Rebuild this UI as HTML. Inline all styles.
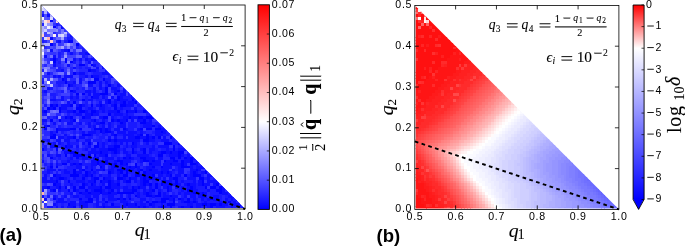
<!DOCTYPE html>
<html><head><meta charset="utf-8"><style>
html,body{margin:0;padding:0;background:#fff;width:685px;height:246px;overflow:hidden;font-family:"Liberation Sans",sans-serif;}
svg{display:block;will-change:transform}
</style></head><body>
<svg width="685" height="246" viewBox="0 0 685 246">
<clipPath id="ca"><polygon points="41.90,5.90 41.90,208.10 244.20,208.10"/></clipPath>
<g clip-path="url(#ca)" shape-rendering="crispEdges">
<polygon points="41.90,5.90 41.90,208.10 244.20,208.10" fill="#0000ff"/>
<rect x="41.00" y="206.09" width="3.22" height="3.21" fill="#ffcccc"/>
<rect x="43.92" y="206.09" width="3.22" height="3.21" fill="#3333ff"/>
<rect x="46.83" y="206.09" width="6.13" height="3.21" fill="#0d0dff"/>
<rect x="52.66" y="206.09" width="3.22" height="3.21" fill="#2626ff"/>
<rect x="55.58" y="206.09" width="3.22" height="3.21" fill="#0d0dff"/>
<rect x="58.49" y="206.09" width="3.22" height="3.21" fill="#2626ff"/>
<rect x="61.41" y="206.09" width="3.22" height="3.21" fill="#0d0dff"/>
<rect x="64.33" y="206.09" width="3.22" height="3.21" fill="#2626ff"/>
<rect x="67.24" y="206.09" width="6.13" height="3.21" fill="#0d0dff"/>
<rect x="75.99" y="206.09" width="3.22" height="3.21" fill="#3333ff"/>
<rect x="78.90" y="206.09" width="3.22" height="3.21" fill="#1a1aff"/>
<rect x="81.82" y="206.09" width="6.13" height="3.21" fill="#0d0dff"/>
<rect x="87.65" y="206.09" width="6.13" height="3.21" fill="#2626ff"/>
<rect x="93.48" y="206.09" width="3.22" height="3.21" fill="#1a1aff"/>
<rect x="96.40" y="206.09" width="6.13" height="3.21" fill="#0d0dff"/>
<rect x="105.15" y="206.09" width="14.88" height="3.21" fill="#0d0dff"/>
<rect x="119.72" y="206.09" width="3.22" height="3.21" fill="#2626ff"/>
<rect x="122.64" y="206.09" width="3.22" height="3.21" fill="#0d0dff"/>
<rect x="125.56" y="206.09" width="3.22" height="3.21" fill="#1a1aff"/>
<rect x="128.47" y="206.09" width="9.05" height="3.21" fill="#0d0dff"/>
<rect x="140.13" y="206.09" width="3.22" height="3.21" fill="#0d0dff"/>
<rect x="145.97" y="206.09" width="3.22" height="3.21" fill="#0d0dff"/>
<rect x="148.88" y="206.09" width="3.22" height="3.21" fill="#1a1aff"/>
<rect x="151.80" y="206.09" width="3.22" height="3.21" fill="#0d0dff"/>
<rect x="154.71" y="206.09" width="3.22" height="3.21" fill="#1a1aff"/>
<rect x="157.63" y="206.09" width="3.22" height="3.21" fill="#0d0dff"/>
<rect x="163.46" y="206.09" width="3.22" height="3.21" fill="#0d0dff"/>
<rect x="166.38" y="206.09" width="3.22" height="3.21" fill="#1a1aff"/>
<rect x="172.21" y="206.09" width="3.22" height="3.21" fill="#1a1aff"/>
<rect x="175.12" y="206.09" width="3.22" height="3.21" fill="#2626ff"/>
<rect x="178.04" y="206.09" width="3.22" height="3.21" fill="#0d0dff"/>
<rect x="183.87" y="206.09" width="6.13" height="3.21" fill="#0d0dff"/>
<rect x="192.62" y="206.09" width="3.22" height="3.21" fill="#1a1aff"/>
<rect x="195.53" y="206.09" width="6.13" height="3.21" fill="#0d0dff"/>
<rect x="201.36" y="206.09" width="6.13" height="3.21" fill="#1a1aff"/>
<rect x="207.20" y="206.09" width="3.22" height="3.21" fill="#0d0dff"/>
<rect x="213.03" y="206.09" width="3.22" height="3.21" fill="#1a1aff"/>
<rect x="215.94" y="206.09" width="9.05" height="3.21" fill="#0d0dff"/>
<rect x="224.69" y="206.09" width="6.13" height="3.21" fill="#1a1aff"/>
<rect x="230.52" y="206.09" width="3.22" height="3.21" fill="#0d0dff"/>
<rect x="233.44" y="206.09" width="3.22" height="3.21" fill="#1a1aff"/>
<rect x="236.35" y="206.09" width="3.22" height="3.21" fill="#2626ff"/>
<rect x="239.27" y="206.09" width="3.22" height="3.21" fill="#1a1aff"/>
<rect x="41.00" y="203.17" width="3.22" height="3.21" fill="#d9d9ff"/>
<rect x="43.92" y="203.17" width="3.22" height="3.21" fill="#3333ff"/>
<rect x="46.83" y="203.17" width="6.13" height="3.21" fill="#8080ff"/>
<rect x="52.66" y="203.17" width="3.22" height="3.21" fill="#0d0dff"/>
<rect x="55.58" y="203.17" width="3.22" height="3.21" fill="#1a1aff"/>
<rect x="58.49" y="203.17" width="3.22" height="3.21" fill="#2626ff"/>
<rect x="61.41" y="203.17" width="3.22" height="3.21" fill="#1a1aff"/>
<rect x="64.33" y="203.17" width="3.22" height="3.21" fill="#2626ff"/>
<rect x="70.16" y="203.17" width="6.13" height="3.21" fill="#0d0dff"/>
<rect x="75.99" y="203.17" width="3.22" height="3.21" fill="#2626ff"/>
<rect x="78.90" y="203.17" width="9.05" height="3.21" fill="#0d0dff"/>
<rect x="87.65" y="203.17" width="6.13" height="3.21" fill="#2626ff"/>
<rect x="93.48" y="203.17" width="3.22" height="3.21" fill="#1a1aff"/>
<rect x="96.40" y="203.17" width="3.22" height="3.21" fill="#0d0dff"/>
<rect x="99.31" y="203.17" width="3.22" height="3.21" fill="#3333ff"/>
<rect x="102.23" y="203.17" width="3.22" height="3.21" fill="#0d0dff"/>
<rect x="105.15" y="203.17" width="3.22" height="3.21" fill="#1a1aff"/>
<rect x="108.06" y="203.17" width="3.22" height="3.21" fill="#2626ff"/>
<rect x="113.89" y="203.17" width="6.13" height="3.21" fill="#1a1aff"/>
<rect x="119.72" y="203.17" width="3.22" height="3.21" fill="#2626ff"/>
<rect x="122.64" y="203.17" width="3.22" height="3.21" fill="#0d0dff"/>
<rect x="128.47" y="203.17" width="6.13" height="3.21" fill="#0d0dff"/>
<rect x="137.22" y="203.17" width="3.22" height="3.21" fill="#1a1aff"/>
<rect x="140.13" y="203.17" width="6.13" height="3.21" fill="#0d0dff"/>
<rect x="145.97" y="203.17" width="3.22" height="3.21" fill="#1a1aff"/>
<rect x="151.80" y="203.17" width="3.22" height="3.21" fill="#0d0dff"/>
<rect x="154.71" y="203.17" width="6.13" height="3.21" fill="#1a1aff"/>
<rect x="160.54" y="203.17" width="3.22" height="3.21" fill="#0d0dff"/>
<rect x="163.46" y="203.17" width="3.22" height="3.21" fill="#1a1aff"/>
<rect x="175.12" y="203.17" width="11.96" height="3.21" fill="#1a1aff"/>
<rect x="186.79" y="203.17" width="6.13" height="3.21" fill="#0d0dff"/>
<rect x="192.62" y="203.17" width="3.22" height="3.21" fill="#1a1aff"/>
<rect x="195.53" y="203.17" width="6.13" height="3.21" fill="#0d0dff"/>
<rect x="207.20" y="203.17" width="3.22" height="3.21" fill="#0d0dff"/>
<rect x="215.94" y="203.17" width="3.22" height="3.21" fill="#0d0dff"/>
<rect x="221.77" y="203.17" width="6.13" height="3.21" fill="#0d0dff"/>
<rect x="227.61" y="203.17" width="3.22" height="3.21" fill="#2626ff"/>
<rect x="230.52" y="203.17" width="9.05" height="3.21" fill="#0d0dff"/>
<rect x="242.18" y="203.17" width="3.22" height="3.21" fill="#1a1aff"/>
<rect x="41.00" y="200.26" width="3.22" height="3.21" fill="#3333ff"/>
<rect x="43.92" y="200.26" width="3.22" height="3.21" fill="#fff2f2"/>
<rect x="46.83" y="200.26" width="6.13" height="3.21" fill="#7373ff"/>
<rect x="52.66" y="200.26" width="3.22" height="3.21" fill="#3333ff"/>
<rect x="55.58" y="200.26" width="11.96" height="3.21" fill="#0d0dff"/>
<rect x="67.24" y="200.26" width="3.22" height="3.21" fill="#1a1aff"/>
<rect x="70.16" y="200.26" width="6.13" height="3.21" fill="#0d0dff"/>
<rect x="75.99" y="200.26" width="3.22" height="3.21" fill="#4040ff"/>
<rect x="78.90" y="200.26" width="6.13" height="3.21" fill="#0d0dff"/>
<rect x="93.48" y="200.26" width="3.22" height="3.21" fill="#4040ff"/>
<rect x="96.40" y="200.26" width="3.22" height="3.21" fill="#0d0dff"/>
<rect x="99.31" y="200.26" width="6.13" height="3.21" fill="#1a1aff"/>
<rect x="108.06" y="200.26" width="6.13" height="3.21" fill="#1a1aff"/>
<rect x="113.89" y="200.26" width="6.13" height="3.21" fill="#2626ff"/>
<rect x="119.72" y="200.26" width="9.05" height="3.21" fill="#0d0dff"/>
<rect x="128.47" y="200.26" width="3.22" height="3.21" fill="#1a1aff"/>
<rect x="131.39" y="200.26" width="3.22" height="3.21" fill="#4040ff"/>
<rect x="134.30" y="200.26" width="6.13" height="3.21" fill="#1a1aff"/>
<rect x="140.13" y="200.26" width="3.22" height="3.21" fill="#0d0dff"/>
<rect x="143.05" y="200.26" width="3.22" height="3.21" fill="#2626ff"/>
<rect x="148.88" y="200.26" width="3.22" height="3.21" fill="#1a1aff"/>
<rect x="157.63" y="200.26" width="3.22" height="3.21" fill="#0d0dff"/>
<rect x="166.38" y="200.26" width="3.22" height="3.21" fill="#2626ff"/>
<rect x="169.29" y="200.26" width="3.22" height="3.21" fill="#1a1aff"/>
<rect x="175.12" y="200.26" width="3.22" height="3.21" fill="#4040ff"/>
<rect x="178.04" y="200.26" width="3.22" height="3.21" fill="#1a1aff"/>
<rect x="180.95" y="200.26" width="3.22" height="3.21" fill="#0d0dff"/>
<rect x="189.70" y="200.26" width="3.22" height="3.21" fill="#0d0dff"/>
<rect x="195.53" y="200.26" width="3.22" height="3.21" fill="#0d0dff"/>
<rect x="198.45" y="200.26" width="3.22" height="3.21" fill="#2626ff"/>
<rect x="201.36" y="200.26" width="3.22" height="3.21" fill="#1a1aff"/>
<rect x="204.28" y="200.26" width="3.22" height="3.21" fill="#0d0dff"/>
<rect x="207.20" y="200.26" width="11.96" height="3.21" fill="#1a1aff"/>
<rect x="218.86" y="200.26" width="3.22" height="3.21" fill="#0d0dff"/>
<rect x="221.77" y="200.26" width="6.13" height="3.21" fill="#1a1aff"/>
<rect x="230.52" y="200.26" width="3.22" height="3.21" fill="#1a1aff"/>
<rect x="233.44" y="200.26" width="3.22" height="3.21" fill="#0d0dff"/>
<rect x="236.35" y="200.26" width="3.22" height="3.21" fill="#2626ff"/>
<rect x="239.27" y="200.26" width="3.22" height="3.21" fill="#1a1aff"/>
<rect x="242.18" y="200.26" width="3.22" height="3.21" fill="#2626ff"/>
<rect x="41.00" y="197.34" width="3.22" height="3.21" fill="#ffcccc"/>
<rect x="43.92" y="197.34" width="3.22" height="3.21" fill="#0d0dff"/>
<rect x="46.83" y="197.34" width="3.22" height="3.21" fill="#7373ff"/>
<rect x="49.75" y="197.34" width="3.22" height="3.21" fill="#4040ff"/>
<rect x="55.58" y="197.34" width="3.22" height="3.21" fill="#1a1aff"/>
<rect x="58.49" y="197.34" width="6.13" height="3.21" fill="#0d0dff"/>
<rect x="64.33" y="197.34" width="3.22" height="3.21" fill="#3333ff"/>
<rect x="67.24" y="197.34" width="3.22" height="3.21" fill="#1a1aff"/>
<rect x="70.16" y="197.34" width="9.05" height="3.21" fill="#2626ff"/>
<rect x="81.82" y="197.34" width="6.13" height="3.21" fill="#1a1aff"/>
<rect x="93.48" y="197.34" width="3.22" height="3.21" fill="#2626ff"/>
<rect x="96.40" y="197.34" width="3.22" height="3.21" fill="#0d0dff"/>
<rect x="99.31" y="197.34" width="3.22" height="3.21" fill="#3333ff"/>
<rect x="102.23" y="197.34" width="3.22" height="3.21" fill="#0d0dff"/>
<rect x="105.15" y="197.34" width="3.22" height="3.21" fill="#2626ff"/>
<rect x="108.06" y="197.34" width="9.05" height="3.21" fill="#0d0dff"/>
<rect x="119.72" y="197.34" width="3.22" height="3.21" fill="#0d0dff"/>
<rect x="125.56" y="197.34" width="3.22" height="3.21" fill="#1a1aff"/>
<rect x="131.39" y="197.34" width="3.22" height="3.21" fill="#1a1aff"/>
<rect x="134.30" y="197.34" width="6.13" height="3.21" fill="#2626ff"/>
<rect x="140.13" y="197.34" width="6.13" height="3.21" fill="#0d0dff"/>
<rect x="145.97" y="197.34" width="3.22" height="3.21" fill="#2626ff"/>
<rect x="148.88" y="197.34" width="3.22" height="3.21" fill="#1a1aff"/>
<rect x="151.80" y="197.34" width="3.22" height="3.21" fill="#2626ff"/>
<rect x="154.71" y="197.34" width="6.13" height="3.21" fill="#1a1aff"/>
<rect x="169.29" y="197.34" width="3.22" height="3.21" fill="#0d0dff"/>
<rect x="175.12" y="197.34" width="3.22" height="3.21" fill="#2626ff"/>
<rect x="180.95" y="197.34" width="3.22" height="3.21" fill="#0d0dff"/>
<rect x="183.87" y="197.34" width="3.22" height="3.21" fill="#1a1aff"/>
<rect x="189.70" y="197.34" width="3.22" height="3.21" fill="#1a1aff"/>
<rect x="192.62" y="197.34" width="3.22" height="3.21" fill="#0d0dff"/>
<rect x="195.53" y="197.34" width="3.22" height="3.21" fill="#1a1aff"/>
<rect x="198.45" y="197.34" width="3.22" height="3.21" fill="#2626ff"/>
<rect x="201.36" y="197.34" width="3.22" height="3.21" fill="#0d0dff"/>
<rect x="204.28" y="197.34" width="3.22" height="3.21" fill="#1a1aff"/>
<rect x="207.20" y="197.34" width="3.22" height="3.21" fill="#0d0dff"/>
<rect x="213.03" y="197.34" width="3.22" height="3.21" fill="#0d0dff"/>
<rect x="218.86" y="197.34" width="3.22" height="3.21" fill="#1a1aff"/>
<rect x="221.77" y="197.34" width="3.22" height="3.21" fill="#2626ff"/>
<rect x="224.69" y="197.34" width="3.22" height="3.21" fill="#0d0dff"/>
<rect x="227.61" y="197.34" width="3.22" height="3.21" fill="#1a1aff"/>
<rect x="230.52" y="197.34" width="3.22" height="3.21" fill="#0d0dff"/>
<rect x="233.44" y="197.34" width="3.22" height="3.21" fill="#1a1aff"/>
<rect x="236.35" y="197.34" width="3.22" height="3.21" fill="#0d0dff"/>
<rect x="239.27" y="197.34" width="3.22" height="3.21" fill="#2626ff"/>
<rect x="41.00" y="194.43" width="3.22" height="3.21" fill="#0d0dff"/>
<rect x="43.92" y="194.43" width="3.22" height="3.21" fill="#4c4cff"/>
<rect x="46.83" y="194.43" width="3.22" height="3.21" fill="#1a1aff"/>
<rect x="49.75" y="194.43" width="3.22" height="3.21" fill="#6666ff"/>
<rect x="52.66" y="194.43" width="3.22" height="3.21" fill="#0d0dff"/>
<rect x="55.58" y="194.43" width="3.22" height="3.21" fill="#1a1aff"/>
<rect x="58.49" y="194.43" width="3.22" height="3.21" fill="#4040ff"/>
<rect x="61.41" y="194.43" width="3.22" height="3.21" fill="#1a1aff"/>
<rect x="64.33" y="194.43" width="3.22" height="3.21" fill="#0d0dff"/>
<rect x="67.24" y="194.43" width="3.22" height="3.21" fill="#4040ff"/>
<rect x="70.16" y="194.43" width="3.22" height="3.21" fill="#1a1aff"/>
<rect x="73.07" y="194.43" width="6.13" height="3.21" fill="#0d0dff"/>
<rect x="78.90" y="194.43" width="6.13" height="3.21" fill="#1a1aff"/>
<rect x="84.74" y="194.43" width="6.13" height="3.21" fill="#0d0dff"/>
<rect x="90.57" y="194.43" width="3.22" height="3.21" fill="#2626ff"/>
<rect x="93.48" y="194.43" width="6.13" height="3.21" fill="#0d0dff"/>
<rect x="99.31" y="194.43" width="3.22" height="3.21" fill="#3333ff"/>
<rect x="102.23" y="194.43" width="6.13" height="3.21" fill="#1a1aff"/>
<rect x="108.06" y="194.43" width="6.13" height="3.21" fill="#0d0dff"/>
<rect x="113.89" y="194.43" width="6.13" height="3.21" fill="#2626ff"/>
<rect x="119.72" y="194.43" width="3.22" height="3.21" fill="#0d0dff"/>
<rect x="122.64" y="194.43" width="3.22" height="3.21" fill="#3333ff"/>
<rect x="125.56" y="194.43" width="3.22" height="3.21" fill="#1a1aff"/>
<rect x="128.47" y="194.43" width="3.22" height="3.21" fill="#0d0dff"/>
<rect x="131.39" y="194.43" width="3.22" height="3.21" fill="#2626ff"/>
<rect x="137.22" y="194.43" width="3.22" height="3.21" fill="#0d0dff"/>
<rect x="140.13" y="194.43" width="6.13" height="3.21" fill="#1a1aff"/>
<rect x="151.80" y="194.43" width="3.22" height="3.21" fill="#0d0dff"/>
<rect x="160.54" y="194.43" width="3.22" height="3.21" fill="#1a1aff"/>
<rect x="163.46" y="194.43" width="6.13" height="3.21" fill="#0d0dff"/>
<rect x="172.21" y="194.43" width="6.13" height="3.21" fill="#0d0dff"/>
<rect x="178.04" y="194.43" width="3.22" height="3.21" fill="#3333ff"/>
<rect x="180.95" y="194.43" width="3.22" height="3.21" fill="#1a1aff"/>
<rect x="183.87" y="194.43" width="3.22" height="3.21" fill="#0d0dff"/>
<rect x="186.79" y="194.43" width="3.22" height="3.21" fill="#3333ff"/>
<rect x="189.70" y="194.43" width="6.13" height="3.21" fill="#0d0dff"/>
<rect x="195.53" y="194.43" width="3.22" height="3.21" fill="#2626ff"/>
<rect x="198.45" y="194.43" width="3.22" height="3.21" fill="#0d0dff"/>
<rect x="204.28" y="194.43" width="3.22" height="3.21" fill="#0d0dff"/>
<rect x="207.20" y="194.43" width="3.22" height="3.21" fill="#2626ff"/>
<rect x="210.11" y="194.43" width="3.22" height="3.21" fill="#1a1aff"/>
<rect x="213.03" y="194.43" width="6.13" height="3.21" fill="#0d0dff"/>
<rect x="218.86" y="194.43" width="3.22" height="3.21" fill="#1a1aff"/>
<rect x="221.77" y="194.43" width="3.22" height="3.21" fill="#2626ff"/>
<rect x="224.69" y="194.43" width="3.22" height="3.21" fill="#1a1aff"/>
<rect x="227.61" y="194.43" width="3.22" height="3.21" fill="#0d0dff"/>
<rect x="236.35" y="194.43" width="3.22" height="3.21" fill="#0d0dff"/>
<rect x="41.00" y="191.51" width="3.22" height="3.21" fill="#ffb2b2"/>
<rect x="43.92" y="191.51" width="3.22" height="3.21" fill="#8c8cff"/>
<rect x="46.83" y="191.51" width="9.05" height="3.21" fill="#3333ff"/>
<rect x="55.58" y="191.51" width="3.22" height="3.21" fill="#4040ff"/>
<rect x="58.49" y="191.51" width="3.22" height="3.21" fill="#2626ff"/>
<rect x="61.41" y="191.51" width="3.22" height="3.21" fill="#4040ff"/>
<rect x="64.33" y="191.51" width="6.13" height="3.21" fill="#1a1aff"/>
<rect x="70.16" y="191.51" width="3.22" height="3.21" fill="#0d0dff"/>
<rect x="73.07" y="191.51" width="3.22" height="3.21" fill="#4040ff"/>
<rect x="75.99" y="191.51" width="3.22" height="3.21" fill="#1a1aff"/>
<rect x="81.82" y="191.51" width="6.13" height="3.21" fill="#0d0dff"/>
<rect x="90.57" y="191.51" width="9.05" height="3.21" fill="#0d0dff"/>
<rect x="102.23" y="191.51" width="6.13" height="3.21" fill="#0d0dff"/>
<rect x="110.98" y="191.51" width="6.13" height="3.21" fill="#0d0dff"/>
<rect x="134.30" y="191.51" width="3.22" height="3.21" fill="#1a1aff"/>
<rect x="137.22" y="191.51" width="3.22" height="3.21" fill="#0d0dff"/>
<rect x="140.13" y="191.51" width="3.22" height="3.21" fill="#1a1aff"/>
<rect x="143.05" y="191.51" width="3.22" height="3.21" fill="#0d0dff"/>
<rect x="148.88" y="191.51" width="3.22" height="3.21" fill="#0d0dff"/>
<rect x="151.80" y="191.51" width="3.22" height="3.21" fill="#1a1aff"/>
<rect x="154.71" y="191.51" width="3.22" height="3.21" fill="#2626ff"/>
<rect x="160.54" y="191.51" width="3.22" height="3.21" fill="#1a1aff"/>
<rect x="163.46" y="191.51" width="3.22" height="3.21" fill="#0d0dff"/>
<rect x="166.38" y="191.51" width="3.22" height="3.21" fill="#1a1aff"/>
<rect x="169.29" y="191.51" width="3.22" height="3.21" fill="#3333ff"/>
<rect x="172.21" y="191.51" width="3.22" height="3.21" fill="#1a1aff"/>
<rect x="175.12" y="191.51" width="3.22" height="3.21" fill="#2626ff"/>
<rect x="178.04" y="191.51" width="3.22" height="3.21" fill="#0d0dff"/>
<rect x="180.95" y="191.51" width="3.22" height="3.21" fill="#1a1aff"/>
<rect x="183.87" y="191.51" width="9.05" height="3.21" fill="#0d0dff"/>
<rect x="195.53" y="191.51" width="3.22" height="3.21" fill="#1a1aff"/>
<rect x="198.45" y="191.51" width="3.22" height="3.21" fill="#0d0dff"/>
<rect x="204.28" y="191.51" width="3.22" height="3.21" fill="#0d0dff"/>
<rect x="207.20" y="191.51" width="3.22" height="3.21" fill="#2626ff"/>
<rect x="210.11" y="191.51" width="9.05" height="3.21" fill="#1a1aff"/>
<rect x="221.77" y="191.51" width="6.13" height="3.21" fill="#0d0dff"/>
<rect x="227.61" y="191.51" width="3.22" height="3.21" fill="#1a1aff"/>
<rect x="230.52" y="191.51" width="3.22" height="3.21" fill="#0d0dff"/>
<rect x="233.44" y="191.51" width="3.22" height="3.21" fill="#1a1aff"/>
<rect x="41.00" y="188.60" width="3.22" height="3.21" fill="#0d0dff"/>
<rect x="43.92" y="188.60" width="3.22" height="3.21" fill="#9999ff"/>
<rect x="46.83" y="188.60" width="3.22" height="3.21" fill="#4040ff"/>
<rect x="49.75" y="188.60" width="3.22" height="3.21" fill="#0d0dff"/>
<rect x="55.58" y="188.60" width="3.22" height="3.21" fill="#5959ff"/>
<rect x="58.49" y="188.60" width="3.22" height="3.21" fill="#0d0dff"/>
<rect x="61.41" y="188.60" width="6.13" height="3.21" fill="#1a1aff"/>
<rect x="70.16" y="188.60" width="3.22" height="3.21" fill="#2626ff"/>
<rect x="75.99" y="188.60" width="3.22" height="3.21" fill="#0d0dff"/>
<rect x="78.90" y="188.60" width="6.13" height="3.21" fill="#1a1aff"/>
<rect x="87.65" y="188.60" width="3.22" height="3.21" fill="#1a1aff"/>
<rect x="90.57" y="188.60" width="3.22" height="3.21" fill="#0d0dff"/>
<rect x="102.23" y="188.60" width="3.22" height="3.21" fill="#0d0dff"/>
<rect x="105.15" y="188.60" width="3.22" height="3.21" fill="#1a1aff"/>
<rect x="108.06" y="188.60" width="3.22" height="3.21" fill="#0d0dff"/>
<rect x="113.89" y="188.60" width="3.22" height="3.21" fill="#2626ff"/>
<rect x="116.81" y="188.60" width="3.22" height="3.21" fill="#0d0dff"/>
<rect x="119.72" y="188.60" width="3.22" height="3.21" fill="#3333ff"/>
<rect x="122.64" y="188.60" width="9.05" height="3.21" fill="#0d0dff"/>
<rect x="137.22" y="188.60" width="3.22" height="3.21" fill="#1a1aff"/>
<rect x="140.13" y="188.60" width="3.22" height="3.21" fill="#2626ff"/>
<rect x="143.05" y="188.60" width="3.22" height="3.21" fill="#0d0dff"/>
<rect x="145.97" y="188.60" width="3.22" height="3.21" fill="#1a1aff"/>
<rect x="148.88" y="188.60" width="3.22" height="3.21" fill="#0d0dff"/>
<rect x="154.71" y="188.60" width="3.22" height="3.21" fill="#2626ff"/>
<rect x="157.63" y="188.60" width="3.22" height="3.21" fill="#0d0dff"/>
<rect x="160.54" y="188.60" width="3.22" height="3.21" fill="#1a1aff"/>
<rect x="163.46" y="188.60" width="3.22" height="3.21" fill="#2626ff"/>
<rect x="169.29" y="188.60" width="3.22" height="3.21" fill="#0d0dff"/>
<rect x="172.21" y="188.60" width="6.13" height="3.21" fill="#2626ff"/>
<rect x="178.04" y="188.60" width="3.22" height="3.21" fill="#1a1aff"/>
<rect x="180.95" y="188.60" width="3.22" height="3.21" fill="#0d0dff"/>
<rect x="183.87" y="188.60" width="3.22" height="3.21" fill="#1a1aff"/>
<rect x="192.62" y="188.60" width="6.13" height="3.21" fill="#0d0dff"/>
<rect x="198.45" y="188.60" width="9.05" height="3.21" fill="#1a1aff"/>
<rect x="207.20" y="188.60" width="3.22" height="3.21" fill="#0d0dff"/>
<rect x="210.11" y="188.60" width="6.13" height="3.21" fill="#1a1aff"/>
<rect x="221.77" y="188.60" width="3.22" height="3.21" fill="#0d0dff"/>
<rect x="224.69" y="188.60" width="3.22" height="3.21" fill="#2626ff"/>
<rect x="227.61" y="188.60" width="3.22" height="3.21" fill="#1a1aff"/>
<rect x="41.00" y="185.69" width="6.13" height="3.21" fill="#0d0dff"/>
<rect x="49.75" y="185.69" width="6.13" height="3.21" fill="#1a1aff"/>
<rect x="55.58" y="185.69" width="3.22" height="3.21" fill="#0d0dff"/>
<rect x="61.41" y="185.69" width="3.22" height="3.21" fill="#1a1aff"/>
<rect x="67.24" y="185.69" width="3.22" height="3.21" fill="#4c4cff"/>
<rect x="70.16" y="185.69" width="3.22" height="3.21" fill="#1a1aff"/>
<rect x="75.99" y="185.69" width="3.22" height="3.21" fill="#2626ff"/>
<rect x="84.74" y="185.69" width="3.22" height="3.21" fill="#2626ff"/>
<rect x="87.65" y="185.69" width="11.96" height="3.21" fill="#0d0dff"/>
<rect x="102.23" y="185.69" width="3.22" height="3.21" fill="#1a1aff"/>
<rect x="110.98" y="185.69" width="9.05" height="3.21" fill="#0d0dff"/>
<rect x="119.72" y="185.69" width="3.22" height="3.21" fill="#1a1aff"/>
<rect x="122.64" y="185.69" width="6.13" height="3.21" fill="#0d0dff"/>
<rect x="128.47" y="185.69" width="3.22" height="3.21" fill="#1a1aff"/>
<rect x="134.30" y="185.69" width="3.22" height="3.21" fill="#0d0dff"/>
<rect x="140.13" y="185.69" width="6.13" height="3.21" fill="#0d0dff"/>
<rect x="145.97" y="185.69" width="3.22" height="3.21" fill="#3333ff"/>
<rect x="148.88" y="185.69" width="3.22" height="3.21" fill="#0d0dff"/>
<rect x="151.80" y="185.69" width="3.22" height="3.21" fill="#1a1aff"/>
<rect x="157.63" y="185.69" width="3.22" height="3.21" fill="#1a1aff"/>
<rect x="160.54" y="185.69" width="3.22" height="3.21" fill="#3333ff"/>
<rect x="163.46" y="185.69" width="3.22" height="3.21" fill="#0d0dff"/>
<rect x="169.29" y="185.69" width="3.22" height="3.21" fill="#0d0dff"/>
<rect x="172.21" y="185.69" width="3.22" height="3.21" fill="#3333ff"/>
<rect x="175.12" y="185.69" width="3.22" height="3.21" fill="#0d0dff"/>
<rect x="178.04" y="185.69" width="3.22" height="3.21" fill="#1a1aff"/>
<rect x="180.95" y="185.69" width="3.22" height="3.21" fill="#0d0dff"/>
<rect x="183.87" y="185.69" width="3.22" height="3.21" fill="#1a1aff"/>
<rect x="186.79" y="185.69" width="3.22" height="3.21" fill="#0d0dff"/>
<rect x="192.62" y="185.69" width="3.22" height="3.21" fill="#0d0dff"/>
<rect x="195.53" y="185.69" width="9.05" height="3.21" fill="#1a1aff"/>
<rect x="207.20" y="185.69" width="3.22" height="3.21" fill="#3333ff"/>
<rect x="215.94" y="185.69" width="3.22" height="3.21" fill="#1a1aff"/>
<rect x="221.77" y="185.69" width="3.22" height="3.21" fill="#0d0dff"/>
<rect x="227.61" y="185.69" width="3.22" height="3.21" fill="#0d0dff"/>
<rect x="41.00" y="182.77" width="3.22" height="3.21" fill="#3333ff"/>
<rect x="43.92" y="182.77" width="3.22" height="3.21" fill="#2626ff"/>
<rect x="46.83" y="182.77" width="3.22" height="3.21" fill="#4c4cff"/>
<rect x="49.75" y="182.77" width="3.22" height="3.21" fill="#4040ff"/>
<rect x="55.58" y="182.77" width="6.13" height="3.21" fill="#0d0dff"/>
<rect x="61.41" y="182.77" width="3.22" height="3.21" fill="#3333ff"/>
<rect x="64.33" y="182.77" width="6.13" height="3.21" fill="#1a1aff"/>
<rect x="70.16" y="182.77" width="3.22" height="3.21" fill="#0d0dff"/>
<rect x="73.07" y="182.77" width="6.13" height="3.21" fill="#1a1aff"/>
<rect x="78.90" y="182.77" width="3.22" height="3.21" fill="#2626ff"/>
<rect x="84.74" y="182.77" width="3.22" height="3.21" fill="#0d0dff"/>
<rect x="87.65" y="182.77" width="3.22" height="3.21" fill="#1a1aff"/>
<rect x="93.48" y="182.77" width="3.22" height="3.21" fill="#0d0dff"/>
<rect x="96.40" y="182.77" width="3.22" height="3.21" fill="#2626ff"/>
<rect x="99.31" y="182.77" width="3.22" height="3.21" fill="#1a1aff"/>
<rect x="102.23" y="182.77" width="3.22" height="3.21" fill="#0d0dff"/>
<rect x="105.15" y="182.77" width="3.22" height="3.21" fill="#3333ff"/>
<rect x="110.98" y="182.77" width="6.13" height="3.21" fill="#0d0dff"/>
<rect x="119.72" y="182.77" width="6.13" height="3.21" fill="#2626ff"/>
<rect x="125.56" y="182.77" width="6.13" height="3.21" fill="#1a1aff"/>
<rect x="131.39" y="182.77" width="6.13" height="3.21" fill="#2626ff"/>
<rect x="137.22" y="182.77" width="3.22" height="3.21" fill="#1a1aff"/>
<rect x="140.13" y="182.77" width="3.22" height="3.21" fill="#0d0dff"/>
<rect x="145.97" y="182.77" width="3.22" height="3.21" fill="#0d0dff"/>
<rect x="151.80" y="182.77" width="3.22" height="3.21" fill="#1a1aff"/>
<rect x="157.63" y="182.77" width="3.22" height="3.21" fill="#1a1aff"/>
<rect x="163.46" y="182.77" width="6.13" height="3.21" fill="#0d0dff"/>
<rect x="172.21" y="182.77" width="3.22" height="3.21" fill="#0d0dff"/>
<rect x="178.04" y="182.77" width="3.22" height="3.21" fill="#0d0dff"/>
<rect x="180.95" y="182.77" width="3.22" height="3.21" fill="#2626ff"/>
<rect x="183.87" y="182.77" width="3.22" height="3.21" fill="#0d0dff"/>
<rect x="189.70" y="182.77" width="6.13" height="3.21" fill="#0d0dff"/>
<rect x="195.53" y="182.77" width="3.22" height="3.21" fill="#1a1aff"/>
<rect x="198.45" y="182.77" width="3.22" height="3.21" fill="#0d0dff"/>
<rect x="204.28" y="182.77" width="6.13" height="3.21" fill="#0d0dff"/>
<rect x="210.11" y="182.77" width="3.22" height="3.21" fill="#3333ff"/>
<rect x="213.03" y="182.77" width="3.22" height="3.21" fill="#0d0dff"/>
<rect x="218.86" y="182.77" width="3.22" height="3.21" fill="#4040ff"/>
<rect x="221.77" y="182.77" width="3.22" height="3.21" fill="#2626ff"/>
<rect x="224.69" y="182.77" width="3.22" height="3.21" fill="#0d0dff"/>
<rect x="41.00" y="179.86" width="14.88" height="3.21" fill="#0d0dff"/>
<rect x="58.49" y="179.86" width="3.22" height="3.21" fill="#1a1aff"/>
<rect x="61.41" y="179.86" width="3.22" height="3.21" fill="#4040ff"/>
<rect x="64.33" y="179.86" width="3.22" height="3.21" fill="#1a1aff"/>
<rect x="70.16" y="179.86" width="6.13" height="3.21" fill="#1a1aff"/>
<rect x="75.99" y="179.86" width="9.05" height="3.21" fill="#0d0dff"/>
<rect x="84.74" y="179.86" width="3.22" height="3.21" fill="#1a1aff"/>
<rect x="87.65" y="179.86" width="6.13" height="3.21" fill="#0d0dff"/>
<rect x="96.40" y="179.86" width="3.22" height="3.21" fill="#2626ff"/>
<rect x="102.23" y="179.86" width="6.13" height="3.21" fill="#0d0dff"/>
<rect x="110.98" y="179.86" width="3.22" height="3.21" fill="#0d0dff"/>
<rect x="113.89" y="179.86" width="3.22" height="3.21" fill="#1a1aff"/>
<rect x="116.81" y="179.86" width="3.22" height="3.21" fill="#0d0dff"/>
<rect x="119.72" y="179.86" width="3.22" height="3.21" fill="#2626ff"/>
<rect x="122.64" y="179.86" width="3.22" height="3.21" fill="#0d0dff"/>
<rect x="131.39" y="179.86" width="3.22" height="3.21" fill="#2626ff"/>
<rect x="134.30" y="179.86" width="3.22" height="3.21" fill="#0d0dff"/>
<rect x="137.22" y="179.86" width="3.22" height="3.21" fill="#1a1aff"/>
<rect x="140.13" y="179.86" width="3.22" height="3.21" fill="#0d0dff"/>
<rect x="148.88" y="179.86" width="3.22" height="3.21" fill="#2626ff"/>
<rect x="151.80" y="179.86" width="6.13" height="3.21" fill="#1a1aff"/>
<rect x="157.63" y="179.86" width="3.22" height="3.21" fill="#2626ff"/>
<rect x="160.54" y="179.86" width="3.22" height="3.21" fill="#0d0dff"/>
<rect x="166.38" y="179.86" width="6.13" height="3.21" fill="#0d0dff"/>
<rect x="172.21" y="179.86" width="3.22" height="3.21" fill="#1a1aff"/>
<rect x="178.04" y="179.86" width="3.22" height="3.21" fill="#1a1aff"/>
<rect x="180.95" y="179.86" width="3.22" height="3.21" fill="#0d0dff"/>
<rect x="183.87" y="179.86" width="9.05" height="3.21" fill="#1a1aff"/>
<rect x="192.62" y="179.86" width="3.22" height="3.21" fill="#0d0dff"/>
<rect x="195.53" y="179.86" width="3.22" height="3.21" fill="#2626ff"/>
<rect x="198.45" y="179.86" width="3.22" height="3.21" fill="#0d0dff"/>
<rect x="204.28" y="179.86" width="3.22" height="3.21" fill="#3333ff"/>
<rect x="207.20" y="179.86" width="11.96" height="3.21" fill="#0d0dff"/>
<rect x="218.86" y="179.86" width="6.13" height="3.21" fill="#1a1aff"/>
<rect x="41.00" y="176.94" width="6.13" height="3.21" fill="#0d0dff"/>
<rect x="46.83" y="176.94" width="3.22" height="3.21" fill="#3333ff"/>
<rect x="49.75" y="176.94" width="3.22" height="3.21" fill="#0d0dff"/>
<rect x="52.66" y="176.94" width="3.22" height="3.21" fill="#1a1aff"/>
<rect x="55.58" y="176.94" width="3.22" height="3.21" fill="#0d0dff"/>
<rect x="64.33" y="176.94" width="3.22" height="3.21" fill="#0d0dff"/>
<rect x="67.24" y="176.94" width="3.22" height="3.21" fill="#1a1aff"/>
<rect x="70.16" y="176.94" width="3.22" height="3.21" fill="#2626ff"/>
<rect x="73.07" y="176.94" width="3.22" height="3.21" fill="#0d0dff"/>
<rect x="75.99" y="176.94" width="6.13" height="3.21" fill="#1a1aff"/>
<rect x="84.74" y="176.94" width="3.22" height="3.21" fill="#1a1aff"/>
<rect x="87.65" y="176.94" width="3.22" height="3.21" fill="#2626ff"/>
<rect x="90.57" y="176.94" width="3.22" height="3.21" fill="#0d0dff"/>
<rect x="99.31" y="176.94" width="3.22" height="3.21" fill="#2626ff"/>
<rect x="105.15" y="176.94" width="6.13" height="3.21" fill="#0d0dff"/>
<rect x="110.98" y="176.94" width="3.22" height="3.21" fill="#1a1aff"/>
<rect x="113.89" y="176.94" width="3.22" height="3.21" fill="#3333ff"/>
<rect x="122.64" y="176.94" width="3.22" height="3.21" fill="#0d0dff"/>
<rect x="125.56" y="176.94" width="3.22" height="3.21" fill="#1a1aff"/>
<rect x="131.39" y="176.94" width="6.13" height="3.21" fill="#0d0dff"/>
<rect x="137.22" y="176.94" width="3.22" height="3.21" fill="#2626ff"/>
<rect x="140.13" y="176.94" width="3.22" height="3.21" fill="#0d0dff"/>
<rect x="145.97" y="176.94" width="3.22" height="3.21" fill="#0d0dff"/>
<rect x="151.80" y="176.94" width="9.05" height="3.21" fill="#0d0dff"/>
<rect x="160.54" y="176.94" width="3.22" height="3.21" fill="#2626ff"/>
<rect x="163.46" y="176.94" width="3.22" height="3.21" fill="#0d0dff"/>
<rect x="166.38" y="176.94" width="3.22" height="3.21" fill="#3333ff"/>
<rect x="169.29" y="176.94" width="3.22" height="3.21" fill="#0d0dff"/>
<rect x="178.04" y="176.94" width="6.13" height="3.21" fill="#1a1aff"/>
<rect x="183.87" y="176.94" width="3.22" height="3.21" fill="#3333ff"/>
<rect x="186.79" y="176.94" width="9.05" height="3.21" fill="#0d0dff"/>
<rect x="195.53" y="176.94" width="3.22" height="3.21" fill="#3333ff"/>
<rect x="204.28" y="176.94" width="3.22" height="3.21" fill="#1a1aff"/>
<rect x="207.20" y="176.94" width="3.22" height="3.21" fill="#0d0dff"/>
<rect x="210.11" y="176.94" width="3.22" height="3.21" fill="#2626ff"/>
<rect x="213.03" y="176.94" width="3.22" height="3.21" fill="#1a1aff"/>
<rect x="215.94" y="176.94" width="3.22" height="3.21" fill="#0d0dff"/>
<rect x="218.86" y="176.94" width="3.22" height="3.21" fill="#4c4cff"/>
<rect x="41.00" y="174.03" width="3.22" height="3.21" fill="#3333ff"/>
<rect x="43.92" y="174.03" width="3.22" height="3.21" fill="#0d0dff"/>
<rect x="46.83" y="174.03" width="3.22" height="3.21" fill="#2626ff"/>
<rect x="49.75" y="174.03" width="3.22" height="3.21" fill="#5959ff"/>
<rect x="55.58" y="174.03" width="6.13" height="3.21" fill="#0d0dff"/>
<rect x="61.41" y="174.03" width="9.05" height="3.21" fill="#1a1aff"/>
<rect x="78.90" y="174.03" width="3.22" height="3.21" fill="#1a1aff"/>
<rect x="81.82" y="174.03" width="3.22" height="3.21" fill="#0d0dff"/>
<rect x="87.65" y="174.03" width="3.22" height="3.21" fill="#0d0dff"/>
<rect x="93.48" y="174.03" width="3.22" height="3.21" fill="#1a1aff"/>
<rect x="96.40" y="174.03" width="3.22" height="3.21" fill="#2626ff"/>
<rect x="99.31" y="174.03" width="3.22" height="3.21" fill="#0d0dff"/>
<rect x="102.23" y="174.03" width="6.13" height="3.21" fill="#1a1aff"/>
<rect x="108.06" y="174.03" width="3.22" height="3.21" fill="#0d0dff"/>
<rect x="110.98" y="174.03" width="6.13" height="3.21" fill="#2626ff"/>
<rect x="116.81" y="174.03" width="3.22" height="3.21" fill="#0d0dff"/>
<rect x="119.72" y="174.03" width="3.22" height="3.21" fill="#1a1aff"/>
<rect x="128.47" y="174.03" width="3.22" height="3.21" fill="#2626ff"/>
<rect x="131.39" y="174.03" width="3.22" height="3.21" fill="#1a1aff"/>
<rect x="140.13" y="174.03" width="3.22" height="3.21" fill="#0d0dff"/>
<rect x="145.97" y="174.03" width="6.13" height="3.21" fill="#0d0dff"/>
<rect x="154.71" y="174.03" width="3.22" height="3.21" fill="#3333ff"/>
<rect x="157.63" y="174.03" width="6.13" height="3.21" fill="#0d0dff"/>
<rect x="163.46" y="174.03" width="3.22" height="3.21" fill="#1a1aff"/>
<rect x="166.38" y="174.03" width="3.22" height="3.21" fill="#0d0dff"/>
<rect x="172.21" y="174.03" width="3.22" height="3.21" fill="#2626ff"/>
<rect x="175.12" y="174.03" width="6.13" height="3.21" fill="#0d0dff"/>
<rect x="180.95" y="174.03" width="3.22" height="3.21" fill="#2626ff"/>
<rect x="186.79" y="174.03" width="3.22" height="3.21" fill="#1a1aff"/>
<rect x="189.70" y="174.03" width="3.22" height="3.21" fill="#0d0dff"/>
<rect x="201.36" y="174.03" width="3.22" height="3.21" fill="#1a1aff"/>
<rect x="204.28" y="174.03" width="3.22" height="3.21" fill="#3333ff"/>
<rect x="207.20" y="174.03" width="9.05" height="3.21" fill="#0d0dff"/>
<rect x="215.94" y="174.03" width="3.22" height="3.21" fill="#1a1aff"/>
<rect x="41.00" y="171.11" width="6.13" height="3.21" fill="#1a1aff"/>
<rect x="46.83" y="171.11" width="3.22" height="3.21" fill="#0d0dff"/>
<rect x="49.75" y="171.11" width="3.22" height="3.21" fill="#1a1aff"/>
<rect x="52.66" y="171.11" width="3.22" height="3.21" fill="#3333ff"/>
<rect x="55.58" y="171.11" width="3.22" height="3.21" fill="#1a1aff"/>
<rect x="58.49" y="171.11" width="3.22" height="3.21" fill="#3333ff"/>
<rect x="61.41" y="171.11" width="3.22" height="3.21" fill="#1a1aff"/>
<rect x="64.33" y="171.11" width="6.13" height="3.21" fill="#0d0dff"/>
<rect x="70.16" y="171.11" width="3.22" height="3.21" fill="#1a1aff"/>
<rect x="75.99" y="171.11" width="6.13" height="3.21" fill="#0d0dff"/>
<rect x="81.82" y="171.11" width="3.22" height="3.21" fill="#2626ff"/>
<rect x="87.65" y="171.11" width="3.22" height="3.21" fill="#0d0dff"/>
<rect x="90.57" y="171.11" width="3.22" height="3.21" fill="#1a1aff"/>
<rect x="93.48" y="171.11" width="3.22" height="3.21" fill="#0d0dff"/>
<rect x="96.40" y="171.11" width="3.22" height="3.21" fill="#1a1aff"/>
<rect x="99.31" y="171.11" width="3.22" height="3.21" fill="#4040ff"/>
<rect x="102.23" y="171.11" width="6.13" height="3.21" fill="#3333ff"/>
<rect x="110.98" y="171.11" width="3.22" height="3.21" fill="#0d0dff"/>
<rect x="113.89" y="171.11" width="3.22" height="3.21" fill="#1a1aff"/>
<rect x="116.81" y="171.11" width="3.22" height="3.21" fill="#0d0dff"/>
<rect x="122.64" y="171.11" width="3.22" height="3.21" fill="#1a1aff"/>
<rect x="128.47" y="171.11" width="9.05" height="3.21" fill="#1a1aff"/>
<rect x="140.13" y="171.11" width="3.22" height="3.21" fill="#2626ff"/>
<rect x="145.97" y="171.11" width="14.88" height="3.21" fill="#0d0dff"/>
<rect x="163.46" y="171.11" width="3.22" height="3.21" fill="#0d0dff"/>
<rect x="169.29" y="171.11" width="3.22" height="3.21" fill="#0d0dff"/>
<rect x="172.21" y="171.11" width="3.22" height="3.21" fill="#1a1aff"/>
<rect x="175.12" y="171.11" width="3.22" height="3.21" fill="#2626ff"/>
<rect x="178.04" y="171.11" width="6.13" height="3.21" fill="#0d0dff"/>
<rect x="183.87" y="171.11" width="3.22" height="3.21" fill="#3333ff"/>
<rect x="186.79" y="171.11" width="3.22" height="3.21" fill="#2626ff"/>
<rect x="189.70" y="171.11" width="3.22" height="3.21" fill="#0d0dff"/>
<rect x="195.53" y="171.11" width="3.22" height="3.21" fill="#0d0dff"/>
<rect x="198.45" y="171.11" width="3.22" height="3.21" fill="#1a1aff"/>
<rect x="201.36" y="171.11" width="3.22" height="3.21" fill="#0d0dff"/>
<rect x="207.20" y="171.11" width="3.22" height="3.21" fill="#2626ff"/>
<rect x="210.11" y="171.11" width="3.22" height="3.21" fill="#0d0dff"/>
<rect x="213.03" y="171.11" width="3.22" height="3.21" fill="#1a1aff"/>
<rect x="41.00" y="168.20" width="3.22" height="3.21" fill="#6666ff"/>
<rect x="43.92" y="168.20" width="3.22" height="3.21" fill="#2626ff"/>
<rect x="46.83" y="168.20" width="9.05" height="3.21" fill="#0d0dff"/>
<rect x="55.58" y="168.20" width="3.22" height="3.21" fill="#3333ff"/>
<rect x="58.49" y="168.20" width="3.22" height="3.21" fill="#0d0dff"/>
<rect x="61.41" y="168.20" width="3.22" height="3.21" fill="#1a1aff"/>
<rect x="64.33" y="168.20" width="3.22" height="3.21" fill="#0d0dff"/>
<rect x="67.24" y="168.20" width="6.13" height="3.21" fill="#1a1aff"/>
<rect x="75.99" y="168.20" width="3.22" height="3.21" fill="#3333ff"/>
<rect x="78.90" y="168.20" width="3.22" height="3.21" fill="#0d0dff"/>
<rect x="84.74" y="168.20" width="6.13" height="3.21" fill="#1a1aff"/>
<rect x="93.48" y="168.20" width="3.22" height="3.21" fill="#1a1aff"/>
<rect x="96.40" y="168.20" width="6.13" height="3.21" fill="#0d0dff"/>
<rect x="105.15" y="168.20" width="3.22" height="3.21" fill="#2626ff"/>
<rect x="108.06" y="168.20" width="6.13" height="3.21" fill="#0d0dff"/>
<rect x="113.89" y="168.20" width="3.22" height="3.21" fill="#1a1aff"/>
<rect x="122.64" y="168.20" width="3.22" height="3.21" fill="#0d0dff"/>
<rect x="128.47" y="168.20" width="6.13" height="3.21" fill="#0d0dff"/>
<rect x="134.30" y="168.20" width="3.22" height="3.21" fill="#1a1aff"/>
<rect x="137.22" y="168.20" width="3.22" height="3.21" fill="#0d0dff"/>
<rect x="143.05" y="168.20" width="3.22" height="3.21" fill="#1a1aff"/>
<rect x="145.97" y="168.20" width="3.22" height="3.21" fill="#0d0dff"/>
<rect x="151.80" y="168.20" width="6.13" height="3.21" fill="#0d0dff"/>
<rect x="157.63" y="168.20" width="3.22" height="3.21" fill="#1a1aff"/>
<rect x="160.54" y="168.20" width="9.05" height="3.21" fill="#0d0dff"/>
<rect x="169.29" y="168.20" width="3.22" height="3.21" fill="#3333ff"/>
<rect x="172.21" y="168.20" width="3.22" height="3.21" fill="#0d0dff"/>
<rect x="175.12" y="168.20" width="3.22" height="3.21" fill="#1a1aff"/>
<rect x="178.04" y="168.20" width="6.13" height="3.21" fill="#0d0dff"/>
<rect x="183.87" y="168.20" width="6.13" height="3.21" fill="#3333ff"/>
<rect x="189.70" y="168.20" width="6.13" height="3.21" fill="#0d0dff"/>
<rect x="198.45" y="168.20" width="3.22" height="3.21" fill="#0d0dff"/>
<rect x="201.36" y="168.20" width="3.22" height="3.21" fill="#3333ff"/>
<rect x="207.20" y="168.20" width="3.22" height="3.21" fill="#2626ff"/>
<rect x="210.11" y="168.20" width="3.22" height="3.21" fill="#0d0dff"/>
<rect x="41.00" y="165.29" width="3.22" height="3.21" fill="#5959ff"/>
<rect x="43.92" y="165.29" width="3.22" height="3.21" fill="#3333ff"/>
<rect x="46.83" y="165.29" width="3.22" height="3.21" fill="#1a1aff"/>
<rect x="52.66" y="165.29" width="3.22" height="3.21" fill="#3333ff"/>
<rect x="58.49" y="165.29" width="6.13" height="3.21" fill="#3333ff"/>
<rect x="64.33" y="165.29" width="3.22" height="3.21" fill="#2626ff"/>
<rect x="67.24" y="165.29" width="9.05" height="3.21" fill="#1a1aff"/>
<rect x="75.99" y="165.29" width="6.13" height="3.21" fill="#0d0dff"/>
<rect x="81.82" y="165.29" width="3.22" height="3.21" fill="#4040ff"/>
<rect x="84.74" y="165.29" width="3.22" height="3.21" fill="#0d0dff"/>
<rect x="87.65" y="165.29" width="3.22" height="3.21" fill="#1a1aff"/>
<rect x="90.57" y="165.29" width="3.22" height="3.21" fill="#0d0dff"/>
<rect x="93.48" y="165.29" width="3.22" height="3.21" fill="#1a1aff"/>
<rect x="96.40" y="165.29" width="3.22" height="3.21" fill="#4040ff"/>
<rect x="102.23" y="165.29" width="3.22" height="3.21" fill="#0d0dff"/>
<rect x="105.15" y="165.29" width="3.22" height="3.21" fill="#4040ff"/>
<rect x="108.06" y="165.29" width="3.22" height="3.21" fill="#1a1aff"/>
<rect x="110.98" y="165.29" width="3.22" height="3.21" fill="#0d0dff"/>
<rect x="116.81" y="165.29" width="3.22" height="3.21" fill="#1a1aff"/>
<rect x="119.72" y="165.29" width="3.22" height="3.21" fill="#0d0dff"/>
<rect x="122.64" y="165.29" width="3.22" height="3.21" fill="#1a1aff"/>
<rect x="125.56" y="165.29" width="3.22" height="3.21" fill="#0d0dff"/>
<rect x="131.39" y="165.29" width="3.22" height="3.21" fill="#0d0dff"/>
<rect x="137.22" y="165.29" width="3.22" height="3.21" fill="#0d0dff"/>
<rect x="140.13" y="165.29" width="3.22" height="3.21" fill="#2626ff"/>
<rect x="143.05" y="165.29" width="3.22" height="3.21" fill="#1a1aff"/>
<rect x="145.97" y="165.29" width="6.13" height="3.21" fill="#0d0dff"/>
<rect x="154.71" y="165.29" width="6.13" height="3.21" fill="#1a1aff"/>
<rect x="163.46" y="165.29" width="9.05" height="3.21" fill="#0d0dff"/>
<rect x="172.21" y="165.29" width="3.22" height="3.21" fill="#3333ff"/>
<rect x="175.12" y="165.29" width="3.22" height="3.21" fill="#1a1aff"/>
<rect x="178.04" y="165.29" width="3.22" height="3.21" fill="#0d0dff"/>
<rect x="189.70" y="165.29" width="3.22" height="3.21" fill="#0d0dff"/>
<rect x="192.62" y="165.29" width="3.22" height="3.21" fill="#1a1aff"/>
<rect x="195.53" y="165.29" width="9.05" height="3.21" fill="#0d0dff"/>
<rect x="204.28" y="165.29" width="3.22" height="3.21" fill="#1a1aff"/>
<rect x="207.20" y="165.29" width="3.22" height="3.21" fill="#0d0dff"/>
<rect x="41.00" y="162.37" width="3.22" height="3.21" fill="#4040ff"/>
<rect x="43.92" y="162.37" width="3.22" height="3.21" fill="#1a1aff"/>
<rect x="46.83" y="162.37" width="3.22" height="3.21" fill="#2626ff"/>
<rect x="49.75" y="162.37" width="3.22" height="3.21" fill="#0d0dff"/>
<rect x="52.66" y="162.37" width="3.22" height="3.21" fill="#3333ff"/>
<rect x="55.58" y="162.37" width="3.22" height="3.21" fill="#0d0dff"/>
<rect x="58.49" y="162.37" width="3.22" height="3.21" fill="#1a1aff"/>
<rect x="67.24" y="162.37" width="3.22" height="3.21" fill="#3333ff"/>
<rect x="70.16" y="162.37" width="3.22" height="3.21" fill="#0d0dff"/>
<rect x="75.99" y="162.37" width="3.22" height="3.21" fill="#0d0dff"/>
<rect x="81.82" y="162.37" width="9.05" height="3.21" fill="#1a1aff"/>
<rect x="90.57" y="162.37" width="6.13" height="3.21" fill="#0d0dff"/>
<rect x="99.31" y="162.37" width="6.13" height="3.21" fill="#0d0dff"/>
<rect x="108.06" y="162.37" width="3.22" height="3.21" fill="#2626ff"/>
<rect x="110.98" y="162.37" width="3.22" height="3.21" fill="#0d0dff"/>
<rect x="116.81" y="162.37" width="3.22" height="3.21" fill="#1a1aff"/>
<rect x="122.64" y="162.37" width="3.22" height="3.21" fill="#0d0dff"/>
<rect x="128.47" y="162.37" width="3.22" height="3.21" fill="#3333ff"/>
<rect x="131.39" y="162.37" width="3.22" height="3.21" fill="#4040ff"/>
<rect x="137.22" y="162.37" width="3.22" height="3.21" fill="#2626ff"/>
<rect x="140.13" y="162.37" width="3.22" height="3.21" fill="#1a1aff"/>
<rect x="143.05" y="162.37" width="3.22" height="3.21" fill="#4040ff"/>
<rect x="145.97" y="162.37" width="3.22" height="3.21" fill="#3333ff"/>
<rect x="151.80" y="162.37" width="9.05" height="3.21" fill="#0d0dff"/>
<rect x="160.54" y="162.37" width="3.22" height="3.21" fill="#3333ff"/>
<rect x="163.46" y="162.37" width="6.13" height="3.21" fill="#0d0dff"/>
<rect x="172.21" y="162.37" width="9.05" height="3.21" fill="#0d0dff"/>
<rect x="183.87" y="162.37" width="3.22" height="3.21" fill="#0d0dff"/>
<rect x="186.79" y="162.37" width="3.22" height="3.21" fill="#3333ff"/>
<rect x="195.53" y="162.37" width="3.22" height="3.21" fill="#0d0dff"/>
<rect x="198.45" y="162.37" width="3.22" height="3.21" fill="#1a1aff"/>
<rect x="204.28" y="162.37" width="3.22" height="3.21" fill="#0d0dff"/>
<rect x="41.00" y="159.46" width="3.22" height="3.21" fill="#0d0dff"/>
<rect x="43.92" y="159.46" width="3.22" height="3.21" fill="#3333ff"/>
<rect x="46.83" y="159.46" width="3.22" height="3.21" fill="#4c4cff"/>
<rect x="49.75" y="159.46" width="3.22" height="3.21" fill="#2626ff"/>
<rect x="52.66" y="159.46" width="3.22" height="3.21" fill="#4c4cff"/>
<rect x="55.58" y="159.46" width="3.22" height="3.21" fill="#1a1aff"/>
<rect x="58.49" y="159.46" width="3.22" height="3.21" fill="#3333ff"/>
<rect x="61.41" y="159.46" width="6.13" height="3.21" fill="#1a1aff"/>
<rect x="67.24" y="159.46" width="3.22" height="3.21" fill="#0d0dff"/>
<rect x="70.16" y="159.46" width="9.05" height="3.21" fill="#1a1aff"/>
<rect x="78.90" y="159.46" width="3.22" height="3.21" fill="#3333ff"/>
<rect x="81.82" y="159.46" width="3.22" height="3.21" fill="#1a1aff"/>
<rect x="84.74" y="159.46" width="3.22" height="3.21" fill="#4040ff"/>
<rect x="87.65" y="159.46" width="3.22" height="3.21" fill="#3333ff"/>
<rect x="90.57" y="159.46" width="6.13" height="3.21" fill="#0d0dff"/>
<rect x="99.31" y="159.46" width="3.22" height="3.21" fill="#0d0dff"/>
<rect x="102.23" y="159.46" width="3.22" height="3.21" fill="#1a1aff"/>
<rect x="108.06" y="159.46" width="6.13" height="3.21" fill="#1a1aff"/>
<rect x="113.89" y="159.46" width="3.22" height="3.21" fill="#0d0dff"/>
<rect x="122.64" y="159.46" width="9.05" height="3.21" fill="#0d0dff"/>
<rect x="131.39" y="159.46" width="3.22" height="3.21" fill="#2626ff"/>
<rect x="134.30" y="159.46" width="3.22" height="3.21" fill="#3333ff"/>
<rect x="137.22" y="159.46" width="3.22" height="3.21" fill="#1a1aff"/>
<rect x="140.13" y="159.46" width="3.22" height="3.21" fill="#0d0dff"/>
<rect x="148.88" y="159.46" width="3.22" height="3.21" fill="#0d0dff"/>
<rect x="154.71" y="159.46" width="6.13" height="3.21" fill="#0d0dff"/>
<rect x="160.54" y="159.46" width="3.22" height="3.21" fill="#3333ff"/>
<rect x="166.38" y="159.46" width="6.13" height="3.21" fill="#0d0dff"/>
<rect x="178.04" y="159.46" width="3.22" height="3.21" fill="#1a1aff"/>
<rect x="183.87" y="159.46" width="6.13" height="3.21" fill="#0d0dff"/>
<rect x="192.62" y="159.46" width="3.22" height="3.21" fill="#1a1aff"/>
<rect x="195.53" y="159.46" width="9.05" height="3.21" fill="#0d0dff"/>
<rect x="41.00" y="156.54" width="3.22" height="3.21" fill="#2626ff"/>
<rect x="43.92" y="156.54" width="3.22" height="3.21" fill="#4040ff"/>
<rect x="46.83" y="156.54" width="3.22" height="3.21" fill="#4c4cff"/>
<rect x="52.66" y="156.54" width="3.22" height="3.21" fill="#1a1aff"/>
<rect x="55.58" y="156.54" width="3.22" height="3.21" fill="#2626ff"/>
<rect x="58.49" y="156.54" width="3.22" height="3.21" fill="#1a1aff"/>
<rect x="61.41" y="156.54" width="6.13" height="3.21" fill="#2626ff"/>
<rect x="67.24" y="156.54" width="3.22" height="3.21" fill="#1a1aff"/>
<rect x="70.16" y="156.54" width="3.22" height="3.21" fill="#0d0dff"/>
<rect x="73.07" y="156.54" width="3.22" height="3.21" fill="#2626ff"/>
<rect x="78.90" y="156.54" width="3.22" height="3.21" fill="#1a1aff"/>
<rect x="81.82" y="156.54" width="6.13" height="3.21" fill="#0d0dff"/>
<rect x="87.65" y="156.54" width="3.22" height="3.21" fill="#1a1aff"/>
<rect x="90.57" y="156.54" width="3.22" height="3.21" fill="#2626ff"/>
<rect x="93.48" y="156.54" width="3.22" height="3.21" fill="#0d0dff"/>
<rect x="99.31" y="156.54" width="3.22" height="3.21" fill="#3333ff"/>
<rect x="102.23" y="156.54" width="3.22" height="3.21" fill="#1a1aff"/>
<rect x="105.15" y="156.54" width="9.05" height="3.21" fill="#0d0dff"/>
<rect x="113.89" y="156.54" width="3.22" height="3.21" fill="#2626ff"/>
<rect x="116.81" y="156.54" width="3.22" height="3.21" fill="#0d0dff"/>
<rect x="119.72" y="156.54" width="3.22" height="3.21" fill="#1a1aff"/>
<rect x="125.56" y="156.54" width="3.22" height="3.21" fill="#0d0dff"/>
<rect x="131.39" y="156.54" width="3.22" height="3.21" fill="#0d0dff"/>
<rect x="134.30" y="156.54" width="6.13" height="3.21" fill="#1a1aff"/>
<rect x="145.97" y="156.54" width="9.05" height="3.21" fill="#0d0dff"/>
<rect x="154.71" y="156.54" width="3.22" height="3.21" fill="#2626ff"/>
<rect x="157.63" y="156.54" width="6.13" height="3.21" fill="#0d0dff"/>
<rect x="163.46" y="156.54" width="6.13" height="3.21" fill="#2626ff"/>
<rect x="175.12" y="156.54" width="3.22" height="3.21" fill="#1a1aff"/>
<rect x="180.95" y="156.54" width="3.22" height="3.21" fill="#1a1aff"/>
<rect x="186.79" y="156.54" width="3.22" height="3.21" fill="#0d0dff"/>
<rect x="192.62" y="156.54" width="3.22" height="3.21" fill="#0d0dff"/>
<rect x="195.53" y="156.54" width="3.22" height="3.21" fill="#1a1aff"/>
<rect x="198.45" y="156.54" width="3.22" height="3.21" fill="#2626ff"/>
<rect x="41.00" y="153.63" width="3.22" height="3.21" fill="#1a1aff"/>
<rect x="43.92" y="153.63" width="3.22" height="3.21" fill="#4c4cff"/>
<rect x="46.83" y="153.63" width="3.22" height="3.21" fill="#0d0dff"/>
<rect x="49.75" y="153.63" width="3.22" height="3.21" fill="#1a1aff"/>
<rect x="52.66" y="153.63" width="3.22" height="3.21" fill="#2626ff"/>
<rect x="55.58" y="153.63" width="6.13" height="3.21" fill="#0d0dff"/>
<rect x="61.41" y="153.63" width="3.22" height="3.21" fill="#2626ff"/>
<rect x="67.24" y="153.63" width="3.22" height="3.21" fill="#3333ff"/>
<rect x="70.16" y="153.63" width="3.22" height="3.21" fill="#1a1aff"/>
<rect x="84.74" y="153.63" width="3.22" height="3.21" fill="#1a1aff"/>
<rect x="90.57" y="153.63" width="3.22" height="3.21" fill="#4040ff"/>
<rect x="96.40" y="153.63" width="3.22" height="3.21" fill="#1a1aff"/>
<rect x="99.31" y="153.63" width="6.13" height="3.21" fill="#0d0dff"/>
<rect x="108.06" y="153.63" width="3.22" height="3.21" fill="#3333ff"/>
<rect x="110.98" y="153.63" width="6.13" height="3.21" fill="#1a1aff"/>
<rect x="116.81" y="153.63" width="3.22" height="3.21" fill="#2626ff"/>
<rect x="119.72" y="153.63" width="3.22" height="3.21" fill="#3333ff"/>
<rect x="122.64" y="153.63" width="3.22" height="3.21" fill="#2626ff"/>
<rect x="125.56" y="153.63" width="6.13" height="3.21" fill="#0d0dff"/>
<rect x="131.39" y="153.63" width="6.13" height="3.21" fill="#2626ff"/>
<rect x="137.22" y="153.63" width="11.96" height="3.21" fill="#0d0dff"/>
<rect x="148.88" y="153.63" width="3.22" height="3.21" fill="#1a1aff"/>
<rect x="151.80" y="153.63" width="3.22" height="3.21" fill="#2626ff"/>
<rect x="154.71" y="153.63" width="3.22" height="3.21" fill="#1a1aff"/>
<rect x="163.46" y="153.63" width="3.22" height="3.21" fill="#2626ff"/>
<rect x="166.38" y="153.63" width="3.22" height="3.21" fill="#1a1aff"/>
<rect x="169.29" y="153.63" width="9.05" height="3.21" fill="#0d0dff"/>
<rect x="180.95" y="153.63" width="3.22" height="3.21" fill="#0d0dff"/>
<rect x="183.87" y="153.63" width="3.22" height="3.21" fill="#1a1aff"/>
<rect x="186.79" y="153.63" width="3.22" height="3.21" fill="#0d0dff"/>
<rect x="189.70" y="153.63" width="3.22" height="3.21" fill="#2626ff"/>
<rect x="192.62" y="153.63" width="3.22" height="3.21" fill="#1a1aff"/>
<rect x="195.53" y="153.63" width="3.22" height="3.21" fill="#0d0dff"/>
<rect x="41.00" y="150.71" width="6.13" height="3.21" fill="#4040ff"/>
<rect x="46.83" y="150.71" width="3.22" height="3.21" fill="#2626ff"/>
<rect x="49.75" y="150.71" width="3.22" height="3.21" fill="#4c4cff"/>
<rect x="52.66" y="150.71" width="3.22" height="3.21" fill="#4040ff"/>
<rect x="55.58" y="150.71" width="3.22" height="3.21" fill="#1a1aff"/>
<rect x="58.49" y="150.71" width="3.22" height="3.21" fill="#4c4cff"/>
<rect x="61.41" y="150.71" width="3.22" height="3.21" fill="#2626ff"/>
<rect x="64.33" y="150.71" width="6.13" height="3.21" fill="#0d0dff"/>
<rect x="75.99" y="150.71" width="3.22" height="3.21" fill="#1a1aff"/>
<rect x="78.90" y="150.71" width="9.05" height="3.21" fill="#2626ff"/>
<rect x="87.65" y="150.71" width="11.96" height="3.21" fill="#0d0dff"/>
<rect x="102.23" y="150.71" width="6.13" height="3.21" fill="#0d0dff"/>
<rect x="108.06" y="150.71" width="3.22" height="3.21" fill="#1a1aff"/>
<rect x="110.98" y="150.71" width="3.22" height="3.21" fill="#0d0dff"/>
<rect x="116.81" y="150.71" width="3.22" height="3.21" fill="#0d0dff"/>
<rect x="119.72" y="150.71" width="3.22" height="3.21" fill="#2626ff"/>
<rect x="122.64" y="150.71" width="6.13" height="3.21" fill="#0d0dff"/>
<rect x="128.47" y="150.71" width="3.22" height="3.21" fill="#1a1aff"/>
<rect x="134.30" y="150.71" width="3.22" height="3.21" fill="#0d0dff"/>
<rect x="137.22" y="150.71" width="6.13" height="3.21" fill="#1a1aff"/>
<rect x="145.97" y="150.71" width="3.22" height="3.21" fill="#2626ff"/>
<rect x="148.88" y="150.71" width="3.22" height="3.21" fill="#0d0dff"/>
<rect x="151.80" y="150.71" width="6.13" height="3.21" fill="#1a1aff"/>
<rect x="157.63" y="150.71" width="3.22" height="3.21" fill="#0d0dff"/>
<rect x="166.38" y="150.71" width="3.22" height="3.21" fill="#0d0dff"/>
<rect x="172.21" y="150.71" width="6.13" height="3.21" fill="#0d0dff"/>
<rect x="183.87" y="150.71" width="3.22" height="3.21" fill="#4040ff"/>
<rect x="186.79" y="150.71" width="3.22" height="3.21" fill="#1a1aff"/>
<rect x="192.62" y="150.71" width="3.22" height="3.21" fill="#2626ff"/>
<rect x="43.92" y="147.80" width="3.22" height="3.21" fill="#1a1aff"/>
<rect x="46.83" y="147.80" width="3.22" height="3.21" fill="#3333ff"/>
<rect x="49.75" y="147.80" width="3.22" height="3.21" fill="#2626ff"/>
<rect x="52.66" y="147.80" width="3.22" height="3.21" fill="#4040ff"/>
<rect x="58.49" y="147.80" width="3.22" height="3.21" fill="#5959ff"/>
<rect x="64.33" y="147.80" width="3.22" height="3.21" fill="#1a1aff"/>
<rect x="67.24" y="147.80" width="3.22" height="3.21" fill="#0d0dff"/>
<rect x="70.16" y="147.80" width="6.13" height="3.21" fill="#2626ff"/>
<rect x="75.99" y="147.80" width="3.22" height="3.21" fill="#1a1aff"/>
<rect x="78.90" y="147.80" width="3.22" height="3.21" fill="#2626ff"/>
<rect x="81.82" y="147.80" width="3.22" height="3.21" fill="#1a1aff"/>
<rect x="84.74" y="147.80" width="3.22" height="3.21" fill="#0d0dff"/>
<rect x="87.65" y="147.80" width="3.22" height="3.21" fill="#2626ff"/>
<rect x="90.57" y="147.80" width="6.13" height="3.21" fill="#0d0dff"/>
<rect x="96.40" y="147.80" width="3.22" height="3.21" fill="#1a1aff"/>
<rect x="99.31" y="147.80" width="9.05" height="3.21" fill="#0d0dff"/>
<rect x="116.81" y="147.80" width="3.22" height="3.21" fill="#0d0dff"/>
<rect x="119.72" y="147.80" width="3.22" height="3.21" fill="#1a1aff"/>
<rect x="122.64" y="147.80" width="3.22" height="3.21" fill="#0d0dff"/>
<rect x="125.56" y="147.80" width="6.13" height="3.21" fill="#2626ff"/>
<rect x="134.30" y="147.80" width="3.22" height="3.21" fill="#1a1aff"/>
<rect x="137.22" y="147.80" width="3.22" height="3.21" fill="#2626ff"/>
<rect x="140.13" y="147.80" width="3.22" height="3.21" fill="#0d0dff"/>
<rect x="145.97" y="147.80" width="3.22" height="3.21" fill="#2626ff"/>
<rect x="148.88" y="147.80" width="6.13" height="3.21" fill="#0d0dff"/>
<rect x="154.71" y="147.80" width="3.22" height="3.21" fill="#1a1aff"/>
<rect x="157.63" y="147.80" width="3.22" height="3.21" fill="#2626ff"/>
<rect x="160.54" y="147.80" width="6.13" height="3.21" fill="#1a1aff"/>
<rect x="166.38" y="147.80" width="3.22" height="3.21" fill="#0d0dff"/>
<rect x="169.29" y="147.80" width="3.22" height="3.21" fill="#1a1aff"/>
<rect x="175.12" y="147.80" width="3.22" height="3.21" fill="#1a1aff"/>
<rect x="178.04" y="147.80" width="14.88" height="3.21" fill="#0d0dff"/>
<rect x="41.00" y="144.89" width="3.22" height="3.21" fill="#2626ff"/>
<rect x="43.92" y="144.89" width="3.22" height="3.21" fill="#1a1aff"/>
<rect x="46.83" y="144.89" width="3.22" height="3.21" fill="#4c4cff"/>
<rect x="49.75" y="144.89" width="6.13" height="3.21" fill="#0d0dff"/>
<rect x="58.49" y="144.89" width="3.22" height="3.21" fill="#2626ff"/>
<rect x="61.41" y="144.89" width="3.22" height="3.21" fill="#1a1aff"/>
<rect x="67.24" y="144.89" width="6.13" height="3.21" fill="#0d0dff"/>
<rect x="73.07" y="144.89" width="3.22" height="3.21" fill="#3333ff"/>
<rect x="75.99" y="144.89" width="3.22" height="3.21" fill="#0d0dff"/>
<rect x="78.90" y="144.89" width="3.22" height="3.21" fill="#4040ff"/>
<rect x="81.82" y="144.89" width="3.22" height="3.21" fill="#2626ff"/>
<rect x="84.74" y="144.89" width="3.22" height="3.21" fill="#1a1aff"/>
<rect x="87.65" y="144.89" width="3.22" height="3.21" fill="#0d0dff"/>
<rect x="90.57" y="144.89" width="3.22" height="3.21" fill="#3333ff"/>
<rect x="99.31" y="144.89" width="3.22" height="3.21" fill="#1a1aff"/>
<rect x="102.23" y="144.89" width="3.22" height="3.21" fill="#0d0dff"/>
<rect x="105.15" y="144.89" width="3.22" height="3.21" fill="#2626ff"/>
<rect x="108.06" y="144.89" width="6.13" height="3.21" fill="#0d0dff"/>
<rect x="119.72" y="144.89" width="3.22" height="3.21" fill="#2626ff"/>
<rect x="122.64" y="144.89" width="3.22" height="3.21" fill="#1a1aff"/>
<rect x="125.56" y="144.89" width="3.22" height="3.21" fill="#0d0dff"/>
<rect x="128.47" y="144.89" width="3.22" height="3.21" fill="#1a1aff"/>
<rect x="131.39" y="144.89" width="6.13" height="3.21" fill="#0d0dff"/>
<rect x="137.22" y="144.89" width="14.88" height="3.21" fill="#1a1aff"/>
<rect x="151.80" y="144.89" width="3.22" height="3.21" fill="#0d0dff"/>
<rect x="154.71" y="144.89" width="3.22" height="3.21" fill="#2626ff"/>
<rect x="157.63" y="144.89" width="11.96" height="3.21" fill="#0d0dff"/>
<rect x="169.29" y="144.89" width="3.22" height="3.21" fill="#3333ff"/>
<rect x="175.12" y="144.89" width="3.22" height="3.21" fill="#2626ff"/>
<rect x="178.04" y="144.89" width="6.13" height="3.21" fill="#1a1aff"/>
<rect x="183.87" y="144.89" width="3.22" height="3.21" fill="#0d0dff"/>
<rect x="186.79" y="144.89" width="3.22" height="3.21" fill="#1a1aff"/>
<rect x="41.00" y="141.97" width="3.22" height="3.21" fill="#1a1aff"/>
<rect x="43.92" y="141.97" width="3.22" height="3.21" fill="#4040ff"/>
<rect x="46.83" y="141.97" width="3.22" height="3.21" fill="#2626ff"/>
<rect x="49.75" y="141.97" width="3.22" height="3.21" fill="#1a1aff"/>
<rect x="52.66" y="141.97" width="3.22" height="3.21" fill="#0d0dff"/>
<rect x="55.58" y="141.97" width="3.22" height="3.21" fill="#4040ff"/>
<rect x="58.49" y="141.97" width="3.22" height="3.21" fill="#0d0dff"/>
<rect x="61.41" y="141.97" width="3.22" height="3.21" fill="#1a1aff"/>
<rect x="64.33" y="141.97" width="3.22" height="3.21" fill="#2626ff"/>
<rect x="67.24" y="141.97" width="3.22" height="3.21" fill="#0d0dff"/>
<rect x="70.16" y="141.97" width="9.05" height="3.21" fill="#1a1aff"/>
<rect x="78.90" y="141.97" width="3.22" height="3.21" fill="#4040ff"/>
<rect x="81.82" y="141.97" width="3.22" height="3.21" fill="#0d0dff"/>
<rect x="84.74" y="141.97" width="3.22" height="3.21" fill="#2626ff"/>
<rect x="90.57" y="141.97" width="3.22" height="3.21" fill="#1a1aff"/>
<rect x="93.48" y="141.97" width="3.22" height="3.21" fill="#4c4cff"/>
<rect x="99.31" y="141.97" width="3.22" height="3.21" fill="#1a1aff"/>
<rect x="102.23" y="141.97" width="3.22" height="3.21" fill="#0d0dff"/>
<rect x="105.15" y="141.97" width="3.22" height="3.21" fill="#1a1aff"/>
<rect x="108.06" y="141.97" width="3.22" height="3.21" fill="#2626ff"/>
<rect x="110.98" y="141.97" width="3.22" height="3.21" fill="#1a1aff"/>
<rect x="113.89" y="141.97" width="3.22" height="3.21" fill="#0d0dff"/>
<rect x="116.81" y="141.97" width="3.22" height="3.21" fill="#1a1aff"/>
<rect x="119.72" y="141.97" width="3.22" height="3.21" fill="#0d0dff"/>
<rect x="122.64" y="141.97" width="3.22" height="3.21" fill="#2626ff"/>
<rect x="125.56" y="141.97" width="3.22" height="3.21" fill="#0d0dff"/>
<rect x="128.47" y="141.97" width="3.22" height="3.21" fill="#2626ff"/>
<rect x="134.30" y="141.97" width="3.22" height="3.21" fill="#0d0dff"/>
<rect x="137.22" y="141.97" width="3.22" height="3.21" fill="#1a1aff"/>
<rect x="140.13" y="141.97" width="3.22" height="3.21" fill="#3333ff"/>
<rect x="143.05" y="141.97" width="3.22" height="3.21" fill="#1a1aff"/>
<rect x="145.97" y="141.97" width="3.22" height="3.21" fill="#0d0dff"/>
<rect x="148.88" y="141.97" width="3.22" height="3.21" fill="#2626ff"/>
<rect x="151.80" y="141.97" width="6.13" height="3.21" fill="#1a1aff"/>
<rect x="157.63" y="141.97" width="6.13" height="3.21" fill="#3333ff"/>
<rect x="172.21" y="141.97" width="6.13" height="3.21" fill="#1a1aff"/>
<rect x="180.95" y="141.97" width="3.22" height="3.21" fill="#2626ff"/>
<rect x="183.87" y="141.97" width="3.22" height="3.21" fill="#0d0dff"/>
<rect x="41.00" y="139.06" width="6.13" height="3.21" fill="#1a1aff"/>
<rect x="46.83" y="139.06" width="3.22" height="3.21" fill="#0d0dff"/>
<rect x="49.75" y="139.06" width="3.22" height="3.21" fill="#4040ff"/>
<rect x="52.66" y="139.06" width="3.22" height="3.21" fill="#3333ff"/>
<rect x="55.58" y="139.06" width="6.13" height="3.21" fill="#0d0dff"/>
<rect x="61.41" y="139.06" width="3.22" height="3.21" fill="#4040ff"/>
<rect x="64.33" y="139.06" width="6.13" height="3.21" fill="#0d0dff"/>
<rect x="70.16" y="139.06" width="6.13" height="3.21" fill="#2626ff"/>
<rect x="75.99" y="139.06" width="3.22" height="3.21" fill="#0d0dff"/>
<rect x="78.90" y="139.06" width="6.13" height="3.21" fill="#2626ff"/>
<rect x="84.74" y="139.06" width="6.13" height="3.21" fill="#0d0dff"/>
<rect x="90.57" y="139.06" width="3.22" height="3.21" fill="#4040ff"/>
<rect x="93.48" y="139.06" width="9.05" height="3.21" fill="#1a1aff"/>
<rect x="102.23" y="139.06" width="3.22" height="3.21" fill="#2626ff"/>
<rect x="105.15" y="139.06" width="3.22" height="3.21" fill="#1a1aff"/>
<rect x="110.98" y="139.06" width="3.22" height="3.21" fill="#0d0dff"/>
<rect x="116.81" y="139.06" width="23.63" height="3.21" fill="#0d0dff"/>
<rect x="140.13" y="139.06" width="3.22" height="3.21" fill="#2626ff"/>
<rect x="148.88" y="139.06" width="6.13" height="3.21" fill="#0d0dff"/>
<rect x="154.71" y="139.06" width="6.13" height="3.21" fill="#1a1aff"/>
<rect x="160.54" y="139.06" width="9.05" height="3.21" fill="#0d0dff"/>
<rect x="169.29" y="139.06" width="3.22" height="3.21" fill="#2626ff"/>
<rect x="172.21" y="139.06" width="3.22" height="3.21" fill="#1a1aff"/>
<rect x="175.12" y="139.06" width="3.22" height="3.21" fill="#2626ff"/>
<rect x="178.04" y="139.06" width="3.22" height="3.21" fill="#0d0dff"/>
<rect x="180.95" y="139.06" width="3.22" height="3.21" fill="#2626ff"/>
<rect x="41.00" y="136.14" width="6.13" height="3.21" fill="#3333ff"/>
<rect x="46.83" y="136.14" width="3.22" height="3.21" fill="#4040ff"/>
<rect x="55.58" y="136.14" width="3.22" height="3.21" fill="#6666ff"/>
<rect x="58.49" y="136.14" width="6.13" height="3.21" fill="#0d0dff"/>
<rect x="64.33" y="136.14" width="3.22" height="3.21" fill="#1a1aff"/>
<rect x="67.24" y="136.14" width="6.13" height="3.21" fill="#0d0dff"/>
<rect x="75.99" y="136.14" width="3.22" height="3.21" fill="#3333ff"/>
<rect x="78.90" y="136.14" width="6.13" height="3.21" fill="#0d0dff"/>
<rect x="84.74" y="136.14" width="3.22" height="3.21" fill="#2626ff"/>
<rect x="87.65" y="136.14" width="6.13" height="3.21" fill="#1a1aff"/>
<rect x="93.48" y="136.14" width="3.22" height="3.21" fill="#3333ff"/>
<rect x="96.40" y="136.14" width="3.22" height="3.21" fill="#2626ff"/>
<rect x="99.31" y="136.14" width="6.13" height="3.21" fill="#1a1aff"/>
<rect x="105.15" y="136.14" width="3.22" height="3.21" fill="#3333ff"/>
<rect x="108.06" y="136.14" width="3.22" height="3.21" fill="#0d0dff"/>
<rect x="110.98" y="136.14" width="3.22" height="3.21" fill="#3333ff"/>
<rect x="113.89" y="136.14" width="3.22" height="3.21" fill="#0d0dff"/>
<rect x="116.81" y="136.14" width="6.13" height="3.21" fill="#2626ff"/>
<rect x="122.64" y="136.14" width="3.22" height="3.21" fill="#0d0dff"/>
<rect x="125.56" y="136.14" width="3.22" height="3.21" fill="#3333ff"/>
<rect x="128.47" y="136.14" width="6.13" height="3.21" fill="#0d0dff"/>
<rect x="140.13" y="136.14" width="6.13" height="3.21" fill="#0d0dff"/>
<rect x="148.88" y="136.14" width="3.22" height="3.21" fill="#0d0dff"/>
<rect x="154.71" y="136.14" width="3.22" height="3.21" fill="#1a1aff"/>
<rect x="160.54" y="136.14" width="3.22" height="3.21" fill="#3333ff"/>
<rect x="163.46" y="136.14" width="3.22" height="3.21" fill="#0d0dff"/>
<rect x="166.38" y="136.14" width="3.22" height="3.21" fill="#3333ff"/>
<rect x="172.21" y="136.14" width="3.22" height="3.21" fill="#1a1aff"/>
<rect x="178.04" y="136.14" width="3.22" height="3.21" fill="#1a1aff"/>
<rect x="41.00" y="133.23" width="3.22" height="3.21" fill="#5959ff"/>
<rect x="43.92" y="133.23" width="6.13" height="3.21" fill="#2626ff"/>
<rect x="49.75" y="133.23" width="3.22" height="3.21" fill="#0d0dff"/>
<rect x="55.58" y="133.23" width="6.13" height="3.21" fill="#2626ff"/>
<rect x="61.41" y="133.23" width="3.22" height="3.21" fill="#3333ff"/>
<rect x="64.33" y="133.23" width="3.22" height="3.21" fill="#0d0dff"/>
<rect x="67.24" y="133.23" width="3.22" height="3.21" fill="#2626ff"/>
<rect x="70.16" y="133.23" width="3.22" height="3.21" fill="#4040ff"/>
<rect x="73.07" y="133.23" width="3.22" height="3.21" fill="#2626ff"/>
<rect x="75.99" y="133.23" width="3.22" height="3.21" fill="#4c4cff"/>
<rect x="78.90" y="133.23" width="3.22" height="3.21" fill="#2626ff"/>
<rect x="90.57" y="133.23" width="3.22" height="3.21" fill="#0d0dff"/>
<rect x="93.48" y="133.23" width="3.22" height="3.21" fill="#2626ff"/>
<rect x="96.40" y="133.23" width="3.22" height="3.21" fill="#1a1aff"/>
<rect x="99.31" y="133.23" width="3.22" height="3.21" fill="#2626ff"/>
<rect x="102.23" y="133.23" width="6.13" height="3.21" fill="#1a1aff"/>
<rect x="108.06" y="133.23" width="3.22" height="3.21" fill="#2626ff"/>
<rect x="110.98" y="133.23" width="3.22" height="3.21" fill="#0d0dff"/>
<rect x="116.81" y="133.23" width="6.13" height="3.21" fill="#1a1aff"/>
<rect x="122.64" y="133.23" width="11.96" height="3.21" fill="#0d0dff"/>
<rect x="134.30" y="133.23" width="3.22" height="3.21" fill="#1a1aff"/>
<rect x="137.22" y="133.23" width="3.22" height="3.21" fill="#0d0dff"/>
<rect x="143.05" y="133.23" width="3.22" height="3.21" fill="#4040ff"/>
<rect x="148.88" y="133.23" width="3.22" height="3.21" fill="#1a1aff"/>
<rect x="151.80" y="133.23" width="3.22" height="3.21" fill="#2626ff"/>
<rect x="154.71" y="133.23" width="9.05" height="3.21" fill="#0d0dff"/>
<rect x="163.46" y="133.23" width="6.13" height="3.21" fill="#1a1aff"/>
<rect x="169.29" y="133.23" width="6.13" height="3.21" fill="#2626ff"/>
<rect x="175.12" y="133.23" width="3.22" height="3.21" fill="#0d0dff"/>
<rect x="41.00" y="130.31" width="3.22" height="3.21" fill="#3333ff"/>
<rect x="43.92" y="130.31" width="6.13" height="3.21" fill="#2626ff"/>
<rect x="49.75" y="130.31" width="3.22" height="3.21" fill="#0d0dff"/>
<rect x="52.66" y="130.31" width="3.22" height="3.21" fill="#1a1aff"/>
<rect x="58.49" y="130.31" width="3.22" height="3.21" fill="#3333ff"/>
<rect x="61.41" y="130.31" width="3.22" height="3.21" fill="#1a1aff"/>
<rect x="64.33" y="130.31" width="3.22" height="3.21" fill="#2626ff"/>
<rect x="67.24" y="130.31" width="3.22" height="3.21" fill="#3333ff"/>
<rect x="70.16" y="130.31" width="3.22" height="3.21" fill="#2626ff"/>
<rect x="73.07" y="130.31" width="3.22" height="3.21" fill="#1a1aff"/>
<rect x="75.99" y="130.31" width="3.22" height="3.21" fill="#2626ff"/>
<rect x="78.90" y="130.31" width="3.22" height="3.21" fill="#1a1aff"/>
<rect x="81.82" y="130.31" width="3.22" height="3.21" fill="#0d0dff"/>
<rect x="84.74" y="130.31" width="3.22" height="3.21" fill="#2626ff"/>
<rect x="87.65" y="130.31" width="9.05" height="3.21" fill="#0d0dff"/>
<rect x="96.40" y="130.31" width="3.22" height="3.21" fill="#1a1aff"/>
<rect x="102.23" y="130.31" width="3.22" height="3.21" fill="#0d0dff"/>
<rect x="110.98" y="130.31" width="3.22" height="3.21" fill="#0d0dff"/>
<rect x="113.89" y="130.31" width="3.22" height="3.21" fill="#3333ff"/>
<rect x="116.81" y="130.31" width="9.05" height="3.21" fill="#0d0dff"/>
<rect x="125.56" y="130.31" width="3.22" height="3.21" fill="#2626ff"/>
<rect x="128.47" y="130.31" width="9.05" height="3.21" fill="#0d0dff"/>
<rect x="137.22" y="130.31" width="3.22" height="3.21" fill="#1a1aff"/>
<rect x="140.13" y="130.31" width="3.22" height="3.21" fill="#0d0dff"/>
<rect x="143.05" y="130.31" width="3.22" height="3.21" fill="#1a1aff"/>
<rect x="145.97" y="130.31" width="6.13" height="3.21" fill="#2626ff"/>
<rect x="151.80" y="130.31" width="3.22" height="3.21" fill="#1a1aff"/>
<rect x="154.71" y="130.31" width="6.13" height="3.21" fill="#0d0dff"/>
<rect x="163.46" y="130.31" width="3.22" height="3.21" fill="#0d0dff"/>
<rect x="166.38" y="130.31" width="6.13" height="3.21" fill="#1a1aff"/>
<rect x="172.21" y="130.31" width="3.22" height="3.21" fill="#0d0dff"/>
<rect x="41.00" y="127.40" width="3.22" height="3.21" fill="#3333ff"/>
<rect x="46.83" y="127.40" width="3.22" height="3.21" fill="#5959ff"/>
<rect x="49.75" y="127.40" width="3.22" height="3.21" fill="#4040ff"/>
<rect x="52.66" y="127.40" width="3.22" height="3.21" fill="#3333ff"/>
<rect x="58.49" y="127.40" width="11.96" height="3.21" fill="#0d0dff"/>
<rect x="75.99" y="127.40" width="3.22" height="3.21" fill="#3333ff"/>
<rect x="81.82" y="127.40" width="9.05" height="3.21" fill="#3333ff"/>
<rect x="90.57" y="127.40" width="3.22" height="3.21" fill="#1a1aff"/>
<rect x="102.23" y="127.40" width="3.22" height="3.21" fill="#0d0dff"/>
<rect x="108.06" y="127.40" width="3.22" height="3.21" fill="#0d0dff"/>
<rect x="110.98" y="127.40" width="3.22" height="3.21" fill="#2626ff"/>
<rect x="113.89" y="127.40" width="6.13" height="3.21" fill="#0d0dff"/>
<rect x="119.72" y="127.40" width="3.22" height="3.21" fill="#3333ff"/>
<rect x="125.56" y="127.40" width="3.22" height="3.21" fill="#0d0dff"/>
<rect x="128.47" y="127.40" width="6.13" height="3.21" fill="#1a1aff"/>
<rect x="134.30" y="127.40" width="3.22" height="3.21" fill="#3333ff"/>
<rect x="137.22" y="127.40" width="3.22" height="3.21" fill="#0d0dff"/>
<rect x="143.05" y="127.40" width="3.22" height="3.21" fill="#4040ff"/>
<rect x="151.80" y="127.40" width="3.22" height="3.21" fill="#2626ff"/>
<rect x="160.54" y="127.40" width="6.13" height="3.21" fill="#0d0dff"/>
<rect x="166.38" y="127.40" width="3.22" height="3.21" fill="#2626ff"/>
<rect x="169.29" y="127.40" width="3.22" height="3.21" fill="#1a1aff"/>
<rect x="41.00" y="124.49" width="3.22" height="3.21" fill="#5959ff"/>
<rect x="43.92" y="124.49" width="3.22" height="3.21" fill="#0d0dff"/>
<rect x="49.75" y="124.49" width="6.13" height="3.21" fill="#2626ff"/>
<rect x="55.58" y="124.49" width="3.22" height="3.21" fill="#4040ff"/>
<rect x="58.49" y="124.49" width="3.22" height="3.21" fill="#1a1aff"/>
<rect x="61.41" y="124.49" width="3.22" height="3.21" fill="#2626ff"/>
<rect x="64.33" y="124.49" width="3.22" height="3.21" fill="#3333ff"/>
<rect x="67.24" y="124.49" width="6.13" height="3.21" fill="#2626ff"/>
<rect x="73.07" y="124.49" width="6.13" height="3.21" fill="#1a1aff"/>
<rect x="78.90" y="124.49" width="6.13" height="3.21" fill="#2626ff"/>
<rect x="84.74" y="124.49" width="3.22" height="3.21" fill="#3333ff"/>
<rect x="87.65" y="124.49" width="3.22" height="3.21" fill="#0d0dff"/>
<rect x="90.57" y="124.49" width="3.22" height="3.21" fill="#1a1aff"/>
<rect x="93.48" y="124.49" width="3.22" height="3.21" fill="#0d0dff"/>
<rect x="96.40" y="124.49" width="3.22" height="3.21" fill="#4040ff"/>
<rect x="99.31" y="124.49" width="3.22" height="3.21" fill="#1a1aff"/>
<rect x="102.23" y="124.49" width="3.22" height="3.21" fill="#0d0dff"/>
<rect x="105.15" y="124.49" width="3.22" height="3.21" fill="#3333ff"/>
<rect x="108.06" y="124.49" width="3.22" height="3.21" fill="#0d0dff"/>
<rect x="110.98" y="124.49" width="3.22" height="3.21" fill="#1a1aff"/>
<rect x="113.89" y="124.49" width="3.22" height="3.21" fill="#3333ff"/>
<rect x="116.81" y="124.49" width="9.05" height="3.21" fill="#0d0dff"/>
<rect x="125.56" y="124.49" width="3.22" height="3.21" fill="#3333ff"/>
<rect x="128.47" y="124.49" width="9.05" height="3.21" fill="#1a1aff"/>
<rect x="137.22" y="124.49" width="3.22" height="3.21" fill="#2626ff"/>
<rect x="140.13" y="124.49" width="3.22" height="3.21" fill="#1a1aff"/>
<rect x="143.05" y="124.49" width="9.05" height="3.21" fill="#0d0dff"/>
<rect x="154.71" y="124.49" width="3.22" height="3.21" fill="#1a1aff"/>
<rect x="157.63" y="124.49" width="3.22" height="3.21" fill="#0d0dff"/>
<rect x="160.54" y="124.49" width="3.22" height="3.21" fill="#1a1aff"/>
<rect x="163.46" y="124.49" width="6.13" height="3.21" fill="#3333ff"/>
<rect x="41.00" y="121.57" width="3.22" height="3.21" fill="#1a1aff"/>
<rect x="43.92" y="121.57" width="3.22" height="3.21" fill="#2626ff"/>
<rect x="46.83" y="121.57" width="3.22" height="3.21" fill="#5959ff"/>
<rect x="49.75" y="121.57" width="3.22" height="3.21" fill="#2626ff"/>
<rect x="52.66" y="121.57" width="3.22" height="3.21" fill="#0d0dff"/>
<rect x="55.58" y="121.57" width="3.22" height="3.21" fill="#3333ff"/>
<rect x="58.49" y="121.57" width="3.22" height="3.21" fill="#4040ff"/>
<rect x="61.41" y="121.57" width="3.22" height="3.21" fill="#2626ff"/>
<rect x="64.33" y="121.57" width="3.22" height="3.21" fill="#4c4cff"/>
<rect x="67.24" y="121.57" width="6.13" height="3.21" fill="#0d0dff"/>
<rect x="73.07" y="121.57" width="3.22" height="3.21" fill="#3333ff"/>
<rect x="75.99" y="121.57" width="3.22" height="3.21" fill="#1a1aff"/>
<rect x="78.90" y="121.57" width="3.22" height="3.21" fill="#0d0dff"/>
<rect x="81.82" y="121.57" width="3.22" height="3.21" fill="#3333ff"/>
<rect x="84.74" y="121.57" width="3.22" height="3.21" fill="#1a1aff"/>
<rect x="87.65" y="121.57" width="3.22" height="3.21" fill="#0d0dff"/>
<rect x="90.57" y="121.57" width="3.22" height="3.21" fill="#2626ff"/>
<rect x="93.48" y="121.57" width="3.22" height="3.21" fill="#1a1aff"/>
<rect x="96.40" y="121.57" width="3.22" height="3.21" fill="#0d0dff"/>
<rect x="105.15" y="121.57" width="3.22" height="3.21" fill="#2626ff"/>
<rect x="108.06" y="121.57" width="3.22" height="3.21" fill="#0d0dff"/>
<rect x="110.98" y="121.57" width="3.22" height="3.21" fill="#1a1aff"/>
<rect x="113.89" y="121.57" width="3.22" height="3.21" fill="#2626ff"/>
<rect x="116.81" y="121.57" width="3.22" height="3.21" fill="#1a1aff"/>
<rect x="122.64" y="121.57" width="3.22" height="3.21" fill="#0d0dff"/>
<rect x="125.56" y="121.57" width="3.22" height="3.21" fill="#3333ff"/>
<rect x="128.47" y="121.57" width="9.05" height="3.21" fill="#1a1aff"/>
<rect x="137.22" y="121.57" width="3.22" height="3.21" fill="#2626ff"/>
<rect x="145.97" y="121.57" width="6.13" height="3.21" fill="#0d0dff"/>
<rect x="151.80" y="121.57" width="3.22" height="3.21" fill="#2626ff"/>
<rect x="154.71" y="121.57" width="9.05" height="3.21" fill="#1a1aff"/>
<rect x="163.46" y="121.57" width="3.22" height="3.21" fill="#0d0dff"/>
<rect x="41.00" y="118.66" width="6.13" height="3.21" fill="#0d0dff"/>
<rect x="46.83" y="118.66" width="3.22" height="3.21" fill="#3333ff"/>
<rect x="52.66" y="118.66" width="3.22" height="3.21" fill="#3333ff"/>
<rect x="55.58" y="118.66" width="3.22" height="3.21" fill="#2626ff"/>
<rect x="61.41" y="118.66" width="9.05" height="3.21" fill="#1a1aff"/>
<rect x="70.16" y="118.66" width="3.22" height="3.21" fill="#0d0dff"/>
<rect x="75.99" y="118.66" width="3.22" height="3.21" fill="#6666ff"/>
<rect x="78.90" y="118.66" width="11.96" height="3.21" fill="#1a1aff"/>
<rect x="90.57" y="118.66" width="3.22" height="3.21" fill="#0d0dff"/>
<rect x="96.40" y="118.66" width="3.22" height="3.21" fill="#1a1aff"/>
<rect x="99.31" y="118.66" width="3.22" height="3.21" fill="#2626ff"/>
<rect x="102.23" y="118.66" width="3.22" height="3.21" fill="#0d0dff"/>
<rect x="105.15" y="118.66" width="3.22" height="3.21" fill="#1a1aff"/>
<rect x="108.06" y="118.66" width="3.22" height="3.21" fill="#4040ff"/>
<rect x="113.89" y="118.66" width="3.22" height="3.21" fill="#0d0dff"/>
<rect x="119.72" y="118.66" width="6.13" height="3.21" fill="#0d0dff"/>
<rect x="128.47" y="118.66" width="3.22" height="3.21" fill="#3333ff"/>
<rect x="131.39" y="118.66" width="3.22" height="3.21" fill="#0d0dff"/>
<rect x="134.30" y="118.66" width="3.22" height="3.21" fill="#4040ff"/>
<rect x="137.22" y="118.66" width="6.13" height="3.21" fill="#0d0dff"/>
<rect x="145.97" y="118.66" width="3.22" height="3.21" fill="#1a1aff"/>
<rect x="148.88" y="118.66" width="3.22" height="3.21" fill="#0d0dff"/>
<rect x="151.80" y="118.66" width="6.13" height="3.21" fill="#3333ff"/>
<rect x="160.54" y="118.66" width="3.22" height="3.21" fill="#2626ff"/>
<rect x="41.00" y="115.74" width="3.22" height="3.21" fill="#5959ff"/>
<rect x="43.92" y="115.74" width="3.22" height="3.21" fill="#6666ff"/>
<rect x="46.83" y="115.74" width="3.22" height="3.21" fill="#1a1aff"/>
<rect x="49.75" y="115.74" width="3.22" height="3.21" fill="#2626ff"/>
<rect x="52.66" y="115.74" width="3.22" height="3.21" fill="#1a1aff"/>
<rect x="55.58" y="115.74" width="3.22" height="3.21" fill="#0d0dff"/>
<rect x="58.49" y="115.74" width="3.22" height="3.21" fill="#8080ff"/>
<rect x="61.41" y="115.74" width="3.22" height="3.21" fill="#1a1aff"/>
<rect x="67.24" y="115.74" width="3.22" height="3.21" fill="#0d0dff"/>
<rect x="73.07" y="115.74" width="3.22" height="3.21" fill="#2626ff"/>
<rect x="75.99" y="115.74" width="3.22" height="3.21" fill="#4040ff"/>
<rect x="78.90" y="115.74" width="3.22" height="3.21" fill="#2626ff"/>
<rect x="84.74" y="115.74" width="6.13" height="3.21" fill="#0d0dff"/>
<rect x="90.57" y="115.74" width="6.13" height="3.21" fill="#3333ff"/>
<rect x="96.40" y="115.74" width="3.22" height="3.21" fill="#4040ff"/>
<rect x="99.31" y="115.74" width="3.22" height="3.21" fill="#0d0dff"/>
<rect x="108.06" y="115.74" width="3.22" height="3.21" fill="#4040ff"/>
<rect x="110.98" y="115.74" width="3.22" height="3.21" fill="#0d0dff"/>
<rect x="113.89" y="115.74" width="3.22" height="3.21" fill="#1a1aff"/>
<rect x="116.81" y="115.74" width="3.22" height="3.21" fill="#2626ff"/>
<rect x="119.72" y="115.74" width="3.22" height="3.21" fill="#1a1aff"/>
<rect x="122.64" y="115.74" width="6.13" height="3.21" fill="#0d0dff"/>
<rect x="131.39" y="115.74" width="6.13" height="3.21" fill="#0d0dff"/>
<rect x="143.05" y="115.74" width="3.22" height="3.21" fill="#0d0dff"/>
<rect x="154.71" y="115.74" width="3.22" height="3.21" fill="#0d0dff"/>
<rect x="157.63" y="115.74" width="3.22" height="3.21" fill="#3333ff"/>
<rect x="41.00" y="112.83" width="6.13" height="3.21" fill="#1a1aff"/>
<rect x="46.83" y="112.83" width="3.22" height="3.21" fill="#8080ff"/>
<rect x="49.75" y="112.83" width="6.13" height="3.21" fill="#4c4cff"/>
<rect x="55.58" y="112.83" width="6.13" height="3.21" fill="#2626ff"/>
<rect x="61.41" y="112.83" width="3.22" height="3.21" fill="#4c4cff"/>
<rect x="64.33" y="112.83" width="3.22" height="3.21" fill="#3333ff"/>
<rect x="67.24" y="112.83" width="3.22" height="3.21" fill="#1a1aff"/>
<rect x="70.16" y="112.83" width="3.22" height="3.21" fill="#2626ff"/>
<rect x="73.07" y="112.83" width="3.22" height="3.21" fill="#1a1aff"/>
<rect x="75.99" y="112.83" width="6.13" height="3.21" fill="#0d0dff"/>
<rect x="81.82" y="112.83" width="3.22" height="3.21" fill="#2626ff"/>
<rect x="84.74" y="112.83" width="6.13" height="3.21" fill="#0d0dff"/>
<rect x="93.48" y="112.83" width="6.13" height="3.21" fill="#0d0dff"/>
<rect x="99.31" y="112.83" width="9.05" height="3.21" fill="#2626ff"/>
<rect x="110.98" y="112.83" width="3.22" height="3.21" fill="#1a1aff"/>
<rect x="113.89" y="112.83" width="9.05" height="3.21" fill="#0d0dff"/>
<rect x="122.64" y="112.83" width="3.22" height="3.21" fill="#1a1aff"/>
<rect x="125.56" y="112.83" width="3.22" height="3.21" fill="#0d0dff"/>
<rect x="128.47" y="112.83" width="6.13" height="3.21" fill="#1a1aff"/>
<rect x="134.30" y="112.83" width="11.96" height="3.21" fill="#3333ff"/>
<rect x="145.97" y="112.83" width="3.22" height="3.21" fill="#1a1aff"/>
<rect x="148.88" y="112.83" width="6.13" height="3.21" fill="#0d0dff"/>
<rect x="154.71" y="112.83" width="3.22" height="3.21" fill="#1a1aff"/>
<rect x="41.00" y="109.91" width="3.22" height="3.21" fill="#0d0dff"/>
<rect x="46.83" y="109.91" width="3.22" height="3.21" fill="#2626ff"/>
<rect x="49.75" y="109.91" width="3.22" height="3.21" fill="#6666ff"/>
<rect x="52.66" y="109.91" width="3.22" height="3.21" fill="#7373ff"/>
<rect x="55.58" y="109.91" width="3.22" height="3.21" fill="#6666ff"/>
<rect x="61.41" y="109.91" width="6.13" height="3.21" fill="#1a1aff"/>
<rect x="67.24" y="109.91" width="6.13" height="3.21" fill="#0d0dff"/>
<rect x="75.99" y="109.91" width="3.22" height="3.21" fill="#1a1aff"/>
<rect x="84.74" y="109.91" width="3.22" height="3.21" fill="#0d0dff"/>
<rect x="87.65" y="109.91" width="3.22" height="3.21" fill="#1a1aff"/>
<rect x="96.40" y="109.91" width="3.22" height="3.21" fill="#0d0dff"/>
<rect x="99.31" y="109.91" width="3.22" height="3.21" fill="#1a1aff"/>
<rect x="102.23" y="109.91" width="3.22" height="3.21" fill="#0d0dff"/>
<rect x="105.15" y="109.91" width="3.22" height="3.21" fill="#1a1aff"/>
<rect x="108.06" y="109.91" width="9.05" height="3.21" fill="#0d0dff"/>
<rect x="119.72" y="109.91" width="3.22" height="3.21" fill="#1a1aff"/>
<rect x="122.64" y="109.91" width="3.22" height="3.21" fill="#2626ff"/>
<rect x="128.47" y="109.91" width="6.13" height="3.21" fill="#0d0dff"/>
<rect x="137.22" y="109.91" width="6.13" height="3.21" fill="#1a1aff"/>
<rect x="145.97" y="109.91" width="3.22" height="3.21" fill="#0d0dff"/>
<rect x="148.88" y="109.91" width="3.22" height="3.21" fill="#2626ff"/>
<rect x="151.80" y="109.91" width="3.22" height="3.21" fill="#1a1aff"/>
<rect x="41.00" y="107.00" width="3.22" height="3.21" fill="#2626ff"/>
<rect x="43.92" y="107.00" width="3.22" height="3.21" fill="#4c4cff"/>
<rect x="49.75" y="107.00" width="3.22" height="3.21" fill="#0d0dff"/>
<rect x="55.58" y="107.00" width="3.22" height="3.21" fill="#3333ff"/>
<rect x="61.41" y="107.00" width="6.13" height="3.21" fill="#0d0dff"/>
<rect x="67.24" y="107.00" width="6.13" height="3.21" fill="#2626ff"/>
<rect x="73.07" y="107.00" width="3.22" height="3.21" fill="#4040ff"/>
<rect x="81.82" y="107.00" width="3.22" height="3.21" fill="#2626ff"/>
<rect x="84.74" y="107.00" width="3.22" height="3.21" fill="#1a1aff"/>
<rect x="87.65" y="107.00" width="6.13" height="3.21" fill="#0d0dff"/>
<rect x="93.48" y="107.00" width="3.22" height="3.21" fill="#1a1aff"/>
<rect x="96.40" y="107.00" width="3.22" height="3.21" fill="#3333ff"/>
<rect x="99.31" y="107.00" width="6.13" height="3.21" fill="#0d0dff"/>
<rect x="105.15" y="107.00" width="6.13" height="3.21" fill="#1a1aff"/>
<rect x="110.98" y="107.00" width="3.22" height="3.21" fill="#2626ff"/>
<rect x="116.81" y="107.00" width="3.22" height="3.21" fill="#1a1aff"/>
<rect x="119.72" y="107.00" width="3.22" height="3.21" fill="#0d0dff"/>
<rect x="122.64" y="107.00" width="9.05" height="3.21" fill="#1a1aff"/>
<rect x="131.39" y="107.00" width="3.22" height="3.21" fill="#3333ff"/>
<rect x="134.30" y="107.00" width="3.22" height="3.21" fill="#0d0dff"/>
<rect x="137.22" y="107.00" width="6.13" height="3.21" fill="#2626ff"/>
<rect x="143.05" y="107.00" width="3.22" height="3.21" fill="#1a1aff"/>
<rect x="145.97" y="107.00" width="3.22" height="3.21" fill="#3333ff"/>
<rect x="148.88" y="107.00" width="3.22" height="3.21" fill="#1a1aff"/>
<rect x="41.00" y="104.09" width="3.22" height="3.21" fill="#4c4cff"/>
<rect x="43.92" y="104.09" width="3.22" height="3.21" fill="#1a1aff"/>
<rect x="46.83" y="104.09" width="3.22" height="3.21" fill="#4c4cff"/>
<rect x="52.66" y="104.09" width="3.22" height="3.21" fill="#0d0dff"/>
<rect x="58.49" y="104.09" width="3.22" height="3.21" fill="#2626ff"/>
<rect x="61.41" y="104.09" width="9.05" height="3.21" fill="#0d0dff"/>
<rect x="73.07" y="104.09" width="3.22" height="3.21" fill="#4c4cff"/>
<rect x="75.99" y="104.09" width="3.22" height="3.21" fill="#0d0dff"/>
<rect x="81.82" y="104.09" width="3.22" height="3.21" fill="#0d0dff"/>
<rect x="84.74" y="104.09" width="3.22" height="3.21" fill="#1a1aff"/>
<rect x="87.65" y="104.09" width="3.22" height="3.21" fill="#2626ff"/>
<rect x="93.48" y="104.09" width="3.22" height="3.21" fill="#2626ff"/>
<rect x="96.40" y="104.09" width="3.22" height="3.21" fill="#0d0dff"/>
<rect x="102.23" y="104.09" width="3.22" height="3.21" fill="#0d0dff"/>
<rect x="105.15" y="104.09" width="3.22" height="3.21" fill="#1a1aff"/>
<rect x="108.06" y="104.09" width="3.22" height="3.21" fill="#2626ff"/>
<rect x="110.98" y="104.09" width="3.22" height="3.21" fill="#0d0dff"/>
<rect x="116.81" y="104.09" width="3.22" height="3.21" fill="#2626ff"/>
<rect x="125.56" y="104.09" width="9.05" height="3.21" fill="#0d0dff"/>
<rect x="134.30" y="104.09" width="3.22" height="3.21" fill="#3333ff"/>
<rect x="137.22" y="104.09" width="9.05" height="3.21" fill="#1a1aff"/>
<rect x="41.00" y="101.17" width="3.22" height="3.21" fill="#2626ff"/>
<rect x="43.92" y="101.17" width="3.22" height="3.21" fill="#4040ff"/>
<rect x="46.83" y="101.17" width="3.22" height="3.21" fill="#8080ff"/>
<rect x="49.75" y="101.17" width="3.22" height="3.21" fill="#3333ff"/>
<rect x="52.66" y="101.17" width="6.13" height="3.21" fill="#2626ff"/>
<rect x="58.49" y="101.17" width="3.22" height="3.21" fill="#3333ff"/>
<rect x="61.41" y="101.17" width="3.22" height="3.21" fill="#5959ff"/>
<rect x="64.33" y="101.17" width="3.22" height="3.21" fill="#4040ff"/>
<rect x="67.24" y="101.17" width="3.22" height="3.21" fill="#0d0dff"/>
<rect x="70.16" y="101.17" width="3.22" height="3.21" fill="#2626ff"/>
<rect x="75.99" y="101.17" width="3.22" height="3.21" fill="#2626ff"/>
<rect x="78.90" y="101.17" width="3.22" height="3.21" fill="#5959ff"/>
<rect x="81.82" y="101.17" width="3.22" height="3.21" fill="#2626ff"/>
<rect x="84.74" y="101.17" width="3.22" height="3.21" fill="#1a1aff"/>
<rect x="87.65" y="101.17" width="3.22" height="3.21" fill="#4040ff"/>
<rect x="90.57" y="101.17" width="3.22" height="3.21" fill="#1a1aff"/>
<rect x="93.48" y="101.17" width="3.22" height="3.21" fill="#3333ff"/>
<rect x="96.40" y="101.17" width="3.22" height="3.21" fill="#2626ff"/>
<rect x="99.31" y="101.17" width="3.22" height="3.21" fill="#0d0dff"/>
<rect x="102.23" y="101.17" width="3.22" height="3.21" fill="#4040ff"/>
<rect x="105.15" y="101.17" width="3.22" height="3.21" fill="#0d0dff"/>
<rect x="110.98" y="101.17" width="3.22" height="3.21" fill="#1a1aff"/>
<rect x="113.89" y="101.17" width="3.22" height="3.21" fill="#0d0dff"/>
<rect x="116.81" y="101.17" width="3.22" height="3.21" fill="#1a1aff"/>
<rect x="119.72" y="101.17" width="3.22" height="3.21" fill="#0d0dff"/>
<rect x="125.56" y="101.17" width="3.22" height="3.21" fill="#1a1aff"/>
<rect x="128.47" y="101.17" width="6.13" height="3.21" fill="#0d0dff"/>
<rect x="137.22" y="101.17" width="3.22" height="3.21" fill="#3333ff"/>
<rect x="140.13" y="101.17" width="3.22" height="3.21" fill="#0d0dff"/>
<rect x="143.05" y="101.17" width="3.22" height="3.21" fill="#2626ff"/>
<rect x="41.00" y="98.26" width="3.22" height="3.21" fill="#2626ff"/>
<rect x="43.92" y="98.26" width="3.22" height="3.21" fill="#3333ff"/>
<rect x="46.83" y="98.26" width="3.22" height="3.21" fill="#7373ff"/>
<rect x="49.75" y="98.26" width="6.13" height="3.21" fill="#0d0dff"/>
<rect x="55.58" y="98.26" width="6.13" height="3.21" fill="#1a1aff"/>
<rect x="61.41" y="98.26" width="3.22" height="3.21" fill="#0d0dff"/>
<rect x="64.33" y="98.26" width="3.22" height="3.21" fill="#2626ff"/>
<rect x="67.24" y="98.26" width="3.22" height="3.21" fill="#5959ff"/>
<rect x="70.16" y="98.26" width="9.05" height="3.21" fill="#1a1aff"/>
<rect x="78.90" y="98.26" width="3.22" height="3.21" fill="#2626ff"/>
<rect x="84.74" y="98.26" width="3.22" height="3.21" fill="#1a1aff"/>
<rect x="87.65" y="98.26" width="6.13" height="3.21" fill="#0d0dff"/>
<rect x="93.48" y="98.26" width="3.22" height="3.21" fill="#2626ff"/>
<rect x="96.40" y="98.26" width="6.13" height="3.21" fill="#1a1aff"/>
<rect x="102.23" y="98.26" width="3.22" height="3.21" fill="#2626ff"/>
<rect x="105.15" y="98.26" width="3.22" height="3.21" fill="#0d0dff"/>
<rect x="110.98" y="98.26" width="3.22" height="3.21" fill="#2626ff"/>
<rect x="113.89" y="98.26" width="3.22" height="3.21" fill="#0d0dff"/>
<rect x="119.72" y="98.26" width="9.05" height="3.21" fill="#0d0dff"/>
<rect x="128.47" y="98.26" width="3.22" height="3.21" fill="#1a1aff"/>
<rect x="134.30" y="98.26" width="6.13" height="3.21" fill="#1a1aff"/>
<rect x="140.13" y="98.26" width="3.22" height="3.21" fill="#0d0dff"/>
<rect x="41.00" y="95.34" width="3.22" height="3.21" fill="#3333ff"/>
<rect x="43.92" y="95.34" width="3.22" height="3.21" fill="#4c4cff"/>
<rect x="46.83" y="95.34" width="3.22" height="3.21" fill="#5959ff"/>
<rect x="49.75" y="95.34" width="3.22" height="3.21" fill="#2626ff"/>
<rect x="52.66" y="95.34" width="3.22" height="3.21" fill="#1a1aff"/>
<rect x="55.58" y="95.34" width="3.22" height="3.21" fill="#4c4cff"/>
<rect x="58.49" y="95.34" width="3.22" height="3.21" fill="#4040ff"/>
<rect x="61.41" y="95.34" width="3.22" height="3.21" fill="#0d0dff"/>
<rect x="64.33" y="95.34" width="6.13" height="3.21" fill="#2626ff"/>
<rect x="70.16" y="95.34" width="3.22" height="3.21" fill="#0d0dff"/>
<rect x="73.07" y="95.34" width="3.22" height="3.21" fill="#1a1aff"/>
<rect x="75.99" y="95.34" width="3.22" height="3.21" fill="#0d0dff"/>
<rect x="78.90" y="95.34" width="3.22" height="3.21" fill="#3333ff"/>
<rect x="81.82" y="95.34" width="3.22" height="3.21" fill="#2626ff"/>
<rect x="84.74" y="95.34" width="3.22" height="3.21" fill="#1a1aff"/>
<rect x="87.65" y="95.34" width="3.22" height="3.21" fill="#2626ff"/>
<rect x="93.48" y="95.34" width="6.13" height="3.21" fill="#0d0dff"/>
<rect x="99.31" y="95.34" width="3.22" height="3.21" fill="#2626ff"/>
<rect x="102.23" y="95.34" width="3.22" height="3.21" fill="#0d0dff"/>
<rect x="105.15" y="95.34" width="3.22" height="3.21" fill="#1a1aff"/>
<rect x="108.06" y="95.34" width="3.22" height="3.21" fill="#5959ff"/>
<rect x="110.98" y="95.34" width="3.22" height="3.21" fill="#0d0dff"/>
<rect x="113.89" y="95.34" width="3.22" height="3.21" fill="#3333ff"/>
<rect x="119.72" y="95.34" width="3.22" height="3.21" fill="#0d0dff"/>
<rect x="122.64" y="95.34" width="9.05" height="3.21" fill="#1a1aff"/>
<rect x="131.39" y="95.34" width="3.22" height="3.21" fill="#0d0dff"/>
<rect x="134.30" y="95.34" width="3.22" height="3.21" fill="#3333ff"/>
<rect x="137.22" y="95.34" width="3.22" height="3.21" fill="#0d0dff"/>
<rect x="41.00" y="92.43" width="6.13" height="3.21" fill="#2626ff"/>
<rect x="46.83" y="92.43" width="3.22" height="3.21" fill="#6666ff"/>
<rect x="49.75" y="92.43" width="6.13" height="3.21" fill="#1a1aff"/>
<rect x="55.58" y="92.43" width="3.22" height="3.21" fill="#2626ff"/>
<rect x="58.49" y="92.43" width="3.22" height="3.21" fill="#3333ff"/>
<rect x="61.41" y="92.43" width="9.05" height="3.21" fill="#4040ff"/>
<rect x="70.16" y="92.43" width="3.22" height="3.21" fill="#1a1aff"/>
<rect x="73.07" y="92.43" width="3.22" height="3.21" fill="#3333ff"/>
<rect x="78.90" y="92.43" width="3.22" height="3.21" fill="#4040ff"/>
<rect x="84.74" y="92.43" width="3.22" height="3.21" fill="#2626ff"/>
<rect x="87.65" y="92.43" width="3.22" height="3.21" fill="#0d0dff"/>
<rect x="90.57" y="92.43" width="3.22" height="3.21" fill="#3333ff"/>
<rect x="93.48" y="92.43" width="6.13" height="3.21" fill="#0d0dff"/>
<rect x="108.06" y="92.43" width="3.22" height="3.21" fill="#2626ff"/>
<rect x="110.98" y="92.43" width="3.22" height="3.21" fill="#4c4cff"/>
<rect x="116.81" y="92.43" width="3.22" height="3.21" fill="#1a1aff"/>
<rect x="119.72" y="92.43" width="6.13" height="3.21" fill="#0d0dff"/>
<rect x="125.56" y="92.43" width="3.22" height="3.21" fill="#4040ff"/>
<rect x="128.47" y="92.43" width="3.22" height="3.21" fill="#1a1aff"/>
<rect x="131.39" y="92.43" width="3.22" height="3.21" fill="#0d0dff"/>
<rect x="134.30" y="92.43" width="3.22" height="3.21" fill="#1a1aff"/>
<rect x="41.00" y="89.51" width="3.22" height="3.21" fill="#1a1aff"/>
<rect x="43.92" y="89.51" width="3.22" height="3.21" fill="#0d0dff"/>
<rect x="46.83" y="89.51" width="3.22" height="3.21" fill="#3333ff"/>
<rect x="49.75" y="89.51" width="3.22" height="3.21" fill="#4040ff"/>
<rect x="52.66" y="89.51" width="3.22" height="3.21" fill="#3333ff"/>
<rect x="55.58" y="89.51" width="6.13" height="3.21" fill="#2626ff"/>
<rect x="61.41" y="89.51" width="3.22" height="3.21" fill="#1a1aff"/>
<rect x="64.33" y="89.51" width="3.22" height="3.21" fill="#5959ff"/>
<rect x="67.24" y="89.51" width="3.22" height="3.21" fill="#3333ff"/>
<rect x="73.07" y="89.51" width="3.22" height="3.21" fill="#0d0dff"/>
<rect x="75.99" y="89.51" width="9.05" height="3.21" fill="#2626ff"/>
<rect x="84.74" y="89.51" width="6.13" height="3.21" fill="#0d0dff"/>
<rect x="90.57" y="89.51" width="3.22" height="3.21" fill="#1a1aff"/>
<rect x="93.48" y="89.51" width="3.22" height="3.21" fill="#0d0dff"/>
<rect x="96.40" y="89.51" width="3.22" height="3.21" fill="#2626ff"/>
<rect x="99.31" y="89.51" width="3.22" height="3.21" fill="#3333ff"/>
<rect x="102.23" y="89.51" width="3.22" height="3.21" fill="#1a1aff"/>
<rect x="108.06" y="89.51" width="3.22" height="3.21" fill="#4040ff"/>
<rect x="110.98" y="89.51" width="3.22" height="3.21" fill="#1a1aff"/>
<rect x="113.89" y="89.51" width="3.22" height="3.21" fill="#0d0dff"/>
<rect x="119.72" y="89.51" width="3.22" height="3.21" fill="#2626ff"/>
<rect x="122.64" y="89.51" width="3.22" height="3.21" fill="#0d0dff"/>
<rect x="125.56" y="89.51" width="3.22" height="3.21" fill="#3333ff"/>
<rect x="128.47" y="89.51" width="3.22" height="3.21" fill="#1a1aff"/>
<rect x="131.39" y="89.51" width="3.22" height="3.21" fill="#6666ff"/>
<rect x="41.00" y="86.60" width="3.22" height="3.21" fill="#4040ff"/>
<rect x="43.92" y="86.60" width="3.22" height="3.21" fill="#5959ff"/>
<rect x="46.83" y="86.60" width="3.22" height="3.21" fill="#0d0dff"/>
<rect x="49.75" y="86.60" width="3.22" height="3.21" fill="#1a1aff"/>
<rect x="52.66" y="86.60" width="3.22" height="3.21" fill="#4040ff"/>
<rect x="55.58" y="86.60" width="3.22" height="3.21" fill="#3333ff"/>
<rect x="58.49" y="86.60" width="3.22" height="3.21" fill="#4040ff"/>
<rect x="61.41" y="86.60" width="3.22" height="3.21" fill="#4c4cff"/>
<rect x="64.33" y="86.60" width="3.22" height="3.21" fill="#6666ff"/>
<rect x="67.24" y="86.60" width="3.22" height="3.21" fill="#1a1aff"/>
<rect x="70.16" y="86.60" width="3.22" height="3.21" fill="#3333ff"/>
<rect x="73.07" y="86.60" width="3.22" height="3.21" fill="#2626ff"/>
<rect x="75.99" y="86.60" width="3.22" height="3.21" fill="#1a1aff"/>
<rect x="78.90" y="86.60" width="3.22" height="3.21" fill="#2626ff"/>
<rect x="81.82" y="86.60" width="3.22" height="3.21" fill="#1a1aff"/>
<rect x="84.74" y="86.60" width="3.22" height="3.21" fill="#4c4cff"/>
<rect x="87.65" y="86.60" width="6.13" height="3.21" fill="#2626ff"/>
<rect x="93.48" y="86.60" width="3.22" height="3.21" fill="#0d0dff"/>
<rect x="96.40" y="86.60" width="3.22" height="3.21" fill="#3333ff"/>
<rect x="99.31" y="86.60" width="3.22" height="3.21" fill="#0d0dff"/>
<rect x="102.23" y="86.60" width="3.22" height="3.21" fill="#1a1aff"/>
<rect x="108.06" y="86.60" width="3.22" height="3.21" fill="#4040ff"/>
<rect x="110.98" y="86.60" width="6.13" height="3.21" fill="#0d0dff"/>
<rect x="116.81" y="86.60" width="3.22" height="3.21" fill="#1a1aff"/>
<rect x="119.72" y="86.60" width="3.22" height="3.21" fill="#4040ff"/>
<rect x="122.64" y="86.60" width="6.13" height="3.21" fill="#0d0dff"/>
<rect x="41.00" y="83.69" width="3.22" height="3.21" fill="#6666ff"/>
<rect x="43.92" y="83.69" width="3.22" height="3.21" fill="#4c4cff"/>
<rect x="46.83" y="83.69" width="3.22" height="3.21" fill="#6666ff"/>
<rect x="49.75" y="83.69" width="3.22" height="3.21" fill="#bfbfff"/>
<rect x="52.66" y="83.69" width="3.22" height="3.21" fill="#3333ff"/>
<rect x="55.58" y="83.69" width="3.22" height="3.21" fill="#2626ff"/>
<rect x="58.49" y="83.69" width="3.22" height="3.21" fill="#1a1aff"/>
<rect x="61.41" y="83.69" width="3.22" height="3.21" fill="#2626ff"/>
<rect x="64.33" y="83.69" width="3.22" height="3.21" fill="#4040ff"/>
<rect x="70.16" y="83.69" width="3.22" height="3.21" fill="#0d0dff"/>
<rect x="73.07" y="83.69" width="3.22" height="3.21" fill="#1a1aff"/>
<rect x="75.99" y="83.69" width="6.13" height="3.21" fill="#2626ff"/>
<rect x="81.82" y="83.69" width="3.22" height="3.21" fill="#4c4cff"/>
<rect x="84.74" y="83.69" width="3.22" height="3.21" fill="#6666ff"/>
<rect x="87.65" y="83.69" width="6.13" height="3.21" fill="#0d0dff"/>
<rect x="93.48" y="83.69" width="3.22" height="3.21" fill="#3333ff"/>
<rect x="96.40" y="83.69" width="3.22" height="3.21" fill="#2626ff"/>
<rect x="99.31" y="83.69" width="3.22" height="3.21" fill="#0d0dff"/>
<rect x="102.23" y="83.69" width="3.22" height="3.21" fill="#3333ff"/>
<rect x="105.15" y="83.69" width="3.22" height="3.21" fill="#1a1aff"/>
<rect x="110.98" y="83.69" width="3.22" height="3.21" fill="#1a1aff"/>
<rect x="113.89" y="83.69" width="3.22" height="3.21" fill="#2626ff"/>
<rect x="116.81" y="83.69" width="3.22" height="3.21" fill="#0d0dff"/>
<rect x="119.72" y="83.69" width="3.22" height="3.21" fill="#1a1aff"/>
<rect x="122.64" y="83.69" width="3.22" height="3.21" fill="#2626ff"/>
<rect x="41.00" y="80.77" width="3.22" height="3.21" fill="#0d0dff"/>
<rect x="43.92" y="80.77" width="3.22" height="3.21" fill="#7373ff"/>
<rect x="46.83" y="80.77" width="3.22" height="3.21" fill="#ffffff"/>
<rect x="49.75" y="80.77" width="3.22" height="3.21" fill="#3333ff"/>
<rect x="52.66" y="80.77" width="3.22" height="3.21" fill="#4040ff"/>
<rect x="55.58" y="80.77" width="9.05" height="3.21" fill="#1a1aff"/>
<rect x="67.24" y="80.77" width="6.13" height="3.21" fill="#1a1aff"/>
<rect x="73.07" y="80.77" width="3.22" height="3.21" fill="#0d0dff"/>
<rect x="75.99" y="80.77" width="3.22" height="3.21" fill="#5959ff"/>
<rect x="78.90" y="80.77" width="3.22" height="3.21" fill="#0d0dff"/>
<rect x="81.82" y="80.77" width="3.22" height="3.21" fill="#4040ff"/>
<rect x="84.74" y="80.77" width="3.22" height="3.21" fill="#3333ff"/>
<rect x="96.40" y="80.77" width="3.22" height="3.21" fill="#2626ff"/>
<rect x="99.31" y="80.77" width="3.22" height="3.21" fill="#0d0dff"/>
<rect x="102.23" y="80.77" width="3.22" height="3.21" fill="#2626ff"/>
<rect x="105.15" y="80.77" width="3.22" height="3.21" fill="#0d0dff"/>
<rect x="108.06" y="80.77" width="3.22" height="3.21" fill="#1a1aff"/>
<rect x="110.98" y="80.77" width="3.22" height="3.21" fill="#4040ff"/>
<rect x="113.89" y="80.77" width="3.22" height="3.21" fill="#2626ff"/>
<rect x="116.81" y="80.77" width="3.22" height="3.21" fill="#1a1aff"/>
<rect x="119.72" y="80.77" width="3.22" height="3.21" fill="#0d0dff"/>
<rect x="122.64" y="80.77" width="3.22" height="3.21" fill="#1a1aff"/>
<rect x="41.00" y="77.86" width="3.22" height="3.21" fill="#1a1aff"/>
<rect x="43.92" y="77.86" width="3.22" height="3.21" fill="#a6a6ff"/>
<rect x="46.83" y="77.86" width="3.22" height="3.21" fill="#3333ff"/>
<rect x="49.75" y="77.86" width="3.22" height="3.21" fill="#a6a6ff"/>
<rect x="52.66" y="77.86" width="6.13" height="3.21" fill="#5959ff"/>
<rect x="58.49" y="77.86" width="3.22" height="3.21" fill="#2626ff"/>
<rect x="64.33" y="77.86" width="3.22" height="3.21" fill="#0d0dff"/>
<rect x="67.24" y="77.86" width="3.22" height="3.21" fill="#5959ff"/>
<rect x="70.16" y="77.86" width="6.13" height="3.21" fill="#2626ff"/>
<rect x="75.99" y="77.86" width="3.22" height="3.21" fill="#5959ff"/>
<rect x="78.90" y="77.86" width="3.22" height="3.21" fill="#0d0dff"/>
<rect x="81.82" y="77.86" width="3.22" height="3.21" fill="#2626ff"/>
<rect x="84.74" y="77.86" width="3.22" height="3.21" fill="#5959ff"/>
<rect x="87.65" y="77.86" width="3.22" height="3.21" fill="#4040ff"/>
<rect x="90.57" y="77.86" width="3.22" height="3.21" fill="#6666ff"/>
<rect x="99.31" y="77.86" width="3.22" height="3.21" fill="#2626ff"/>
<rect x="105.15" y="77.86" width="6.13" height="3.21" fill="#1a1aff"/>
<rect x="110.98" y="77.86" width="6.13" height="3.21" fill="#4040ff"/>
<rect x="41.00" y="74.94" width="3.22" height="3.21" fill="#4040ff"/>
<rect x="43.92" y="74.94" width="6.13" height="3.21" fill="#2626ff"/>
<rect x="49.75" y="74.94" width="3.22" height="3.21" fill="#4040ff"/>
<rect x="52.66" y="74.94" width="3.22" height="3.21" fill="#0d0dff"/>
<rect x="55.58" y="74.94" width="3.22" height="3.21" fill="#1a1aff"/>
<rect x="58.49" y="74.94" width="3.22" height="3.21" fill="#0d0dff"/>
<rect x="61.41" y="74.94" width="3.22" height="3.21" fill="#4040ff"/>
<rect x="64.33" y="74.94" width="9.05" height="3.21" fill="#0d0dff"/>
<rect x="73.07" y="74.94" width="6.13" height="3.21" fill="#4040ff"/>
<rect x="78.90" y="74.94" width="6.13" height="3.21" fill="#1a1aff"/>
<rect x="84.74" y="74.94" width="3.22" height="3.21" fill="#0d0dff"/>
<rect x="87.65" y="74.94" width="3.22" height="3.21" fill="#2626ff"/>
<rect x="93.48" y="74.94" width="6.13" height="3.21" fill="#0d0dff"/>
<rect x="99.31" y="74.94" width="3.22" height="3.21" fill="#1a1aff"/>
<rect x="102.23" y="74.94" width="3.22" height="3.21" fill="#2626ff"/>
<rect x="105.15" y="74.94" width="3.22" height="3.21" fill="#3333ff"/>
<rect x="108.06" y="74.94" width="3.22" height="3.21" fill="#1a1aff"/>
<rect x="110.98" y="74.94" width="9.05" height="3.21" fill="#0d0dff"/>
<rect x="41.00" y="72.03" width="3.22" height="3.21" fill="#b2b2ff"/>
<rect x="43.92" y="72.03" width="3.22" height="3.21" fill="#4040ff"/>
<rect x="46.83" y="72.03" width="3.22" height="3.21" fill="#0d0dff"/>
<rect x="49.75" y="72.03" width="3.22" height="3.21" fill="#2626ff"/>
<rect x="52.66" y="72.03" width="3.22" height="3.21" fill="#4c4cff"/>
<rect x="55.58" y="72.03" width="3.22" height="3.21" fill="#5959ff"/>
<rect x="58.49" y="72.03" width="6.13" height="3.21" fill="#7373ff"/>
<rect x="64.33" y="72.03" width="3.22" height="3.21" fill="#2626ff"/>
<rect x="67.24" y="72.03" width="3.22" height="3.21" fill="#8c8cff"/>
<rect x="70.16" y="72.03" width="3.22" height="3.21" fill="#2626ff"/>
<rect x="75.99" y="72.03" width="3.22" height="3.21" fill="#1a1aff"/>
<rect x="78.90" y="72.03" width="6.13" height="3.21" fill="#0d0dff"/>
<rect x="84.74" y="72.03" width="3.22" height="3.21" fill="#2626ff"/>
<rect x="87.65" y="72.03" width="3.22" height="3.21" fill="#3333ff"/>
<rect x="90.57" y="72.03" width="3.22" height="3.21" fill="#2626ff"/>
<rect x="93.48" y="72.03" width="9.05" height="3.21" fill="#1a1aff"/>
<rect x="102.23" y="72.03" width="9.05" height="3.21" fill="#0d0dff"/>
<rect x="110.98" y="72.03" width="3.22" height="3.21" fill="#3333ff"/>
<rect x="41.00" y="69.11" width="3.22" height="3.21" fill="#1a1aff"/>
<rect x="43.92" y="69.11" width="3.22" height="3.21" fill="#a6a6ff"/>
<rect x="46.83" y="69.11" width="3.22" height="3.21" fill="#6666ff"/>
<rect x="49.75" y="69.11" width="3.22" height="3.21" fill="#4c4cff"/>
<rect x="52.66" y="69.11" width="3.22" height="3.21" fill="#4040ff"/>
<rect x="55.58" y="69.11" width="6.13" height="3.21" fill="#1a1aff"/>
<rect x="61.41" y="69.11" width="3.22" height="3.21" fill="#0d0dff"/>
<rect x="64.33" y="69.11" width="3.22" height="3.21" fill="#3333ff"/>
<rect x="67.24" y="69.11" width="3.22" height="3.21" fill="#6666ff"/>
<rect x="70.16" y="69.11" width="3.22" height="3.21" fill="#2626ff"/>
<rect x="73.07" y="69.11" width="3.22" height="3.21" fill="#4c4cff"/>
<rect x="75.99" y="69.11" width="3.22" height="3.21" fill="#3333ff"/>
<rect x="78.90" y="69.11" width="9.05" height="3.21" fill="#2626ff"/>
<rect x="90.57" y="69.11" width="6.13" height="3.21" fill="#0d0dff"/>
<rect x="96.40" y="69.11" width="3.22" height="3.21" fill="#1a1aff"/>
<rect x="99.31" y="69.11" width="6.13" height="3.21" fill="#3333ff"/>
<rect x="105.15" y="69.11" width="3.22" height="3.21" fill="#0d0dff"/>
<rect x="108.06" y="69.11" width="3.22" height="3.21" fill="#2626ff"/>
<rect x="110.98" y="69.11" width="3.22" height="3.21" fill="#3333ff"/>
<rect x="41.00" y="66.20" width="3.22" height="3.21" fill="#6666ff"/>
<rect x="43.92" y="66.20" width="3.22" height="3.21" fill="#8c8cff"/>
<rect x="46.83" y="66.20" width="3.22" height="3.21" fill="#8080ff"/>
<rect x="49.75" y="66.20" width="6.13" height="3.21" fill="#3333ff"/>
<rect x="55.58" y="66.20" width="3.22" height="3.21" fill="#7373ff"/>
<rect x="58.49" y="66.20" width="3.22" height="3.21" fill="#1a1aff"/>
<rect x="61.41" y="66.20" width="3.22" height="3.21" fill="#2626ff"/>
<rect x="64.33" y="66.20" width="3.22" height="3.21" fill="#3333ff"/>
<rect x="67.24" y="66.20" width="3.22" height="3.21" fill="#4c4cff"/>
<rect x="70.16" y="66.20" width="3.22" height="3.21" fill="#2626ff"/>
<rect x="73.07" y="66.20" width="3.22" height="3.21" fill="#0d0dff"/>
<rect x="75.99" y="66.20" width="3.22" height="3.21" fill="#2626ff"/>
<rect x="78.90" y="66.20" width="3.22" height="3.21" fill="#1a1aff"/>
<rect x="81.82" y="66.20" width="3.22" height="3.21" fill="#2626ff"/>
<rect x="84.74" y="66.20" width="6.13" height="3.21" fill="#1a1aff"/>
<rect x="90.57" y="66.20" width="3.22" height="3.21" fill="#4c4cff"/>
<rect x="93.48" y="66.20" width="3.22" height="3.21" fill="#4040ff"/>
<rect x="96.40" y="66.20" width="3.22" height="3.21" fill="#0d0dff"/>
<rect x="99.31" y="66.20" width="3.22" height="3.21" fill="#4040ff"/>
<rect x="102.23" y="66.20" width="3.22" height="3.21" fill="#0d0dff"/>
<rect x="108.06" y="66.20" width="3.22" height="3.21" fill="#0d0dff"/>
<rect x="41.00" y="63.29" width="3.22" height="3.21" fill="#4040ff"/>
<rect x="43.92" y="63.29" width="3.22" height="3.21" fill="#2626ff"/>
<rect x="46.83" y="63.29" width="3.22" height="3.21" fill="#5959ff"/>
<rect x="49.75" y="63.29" width="3.22" height="3.21" fill="#4c4cff"/>
<rect x="52.66" y="63.29" width="3.22" height="3.21" fill="#0d0dff"/>
<rect x="55.58" y="63.29" width="6.13" height="3.21" fill="#2626ff"/>
<rect x="61.41" y="63.29" width="3.22" height="3.21" fill="#3333ff"/>
<rect x="64.33" y="63.29" width="3.22" height="3.21" fill="#4c4cff"/>
<rect x="67.24" y="63.29" width="3.22" height="3.21" fill="#0d0dff"/>
<rect x="70.16" y="63.29" width="3.22" height="3.21" fill="#3333ff"/>
<rect x="73.07" y="63.29" width="3.22" height="3.21" fill="#4c4cff"/>
<rect x="75.99" y="63.29" width="3.22" height="3.21" fill="#2626ff"/>
<rect x="84.74" y="63.29" width="3.22" height="3.21" fill="#2626ff"/>
<rect x="87.65" y="63.29" width="3.22" height="3.21" fill="#4c4cff"/>
<rect x="93.48" y="63.29" width="3.22" height="3.21" fill="#0d0dff"/>
<rect x="96.40" y="63.29" width="3.22" height="3.21" fill="#2626ff"/>
<rect x="99.31" y="63.29" width="3.22" height="3.21" fill="#3333ff"/>
<rect x="102.23" y="63.29" width="3.22" height="3.21" fill="#1a1aff"/>
<rect x="105.15" y="63.29" width="3.22" height="3.21" fill="#0d0dff"/>
<rect x="41.00" y="60.37" width="3.22" height="3.21" fill="#9999ff"/>
<rect x="43.92" y="60.37" width="3.22" height="3.21" fill="#7373ff"/>
<rect x="46.83" y="60.37" width="3.22" height="3.21" fill="#3333ff"/>
<rect x="49.75" y="60.37" width="3.22" height="3.21" fill="#ccccff"/>
<rect x="55.58" y="60.37" width="3.22" height="3.21" fill="#2626ff"/>
<rect x="58.49" y="60.37" width="3.22" height="3.21" fill="#1a1aff"/>
<rect x="61.41" y="60.37" width="3.22" height="3.21" fill="#4040ff"/>
<rect x="67.24" y="60.37" width="3.22" height="3.21" fill="#8080ff"/>
<rect x="73.07" y="60.37" width="3.22" height="3.21" fill="#1a1aff"/>
<rect x="75.99" y="60.37" width="3.22" height="3.21" fill="#3333ff"/>
<rect x="78.90" y="60.37" width="3.22" height="3.21" fill="#1a1aff"/>
<rect x="81.82" y="60.37" width="3.22" height="3.21" fill="#4c4cff"/>
<rect x="84.74" y="60.37" width="3.22" height="3.21" fill="#2626ff"/>
<rect x="87.65" y="60.37" width="3.22" height="3.21" fill="#0d0dff"/>
<rect x="90.57" y="60.37" width="3.22" height="3.21" fill="#5959ff"/>
<rect x="93.48" y="60.37" width="6.13" height="3.21" fill="#2626ff"/>
<rect x="99.31" y="60.37" width="3.22" height="3.21" fill="#4040ff"/>
<rect x="102.23" y="60.37" width="3.22" height="3.21" fill="#1a1aff"/>
<rect x="41.00" y="57.46" width="3.22" height="3.21" fill="#8080ff"/>
<rect x="43.92" y="57.46" width="3.22" height="3.21" fill="#4040ff"/>
<rect x="46.83" y="57.46" width="3.22" height="3.21" fill="#3333ff"/>
<rect x="49.75" y="57.46" width="3.22" height="3.21" fill="#1a1aff"/>
<rect x="55.58" y="57.46" width="3.22" height="3.21" fill="#1a1aff"/>
<rect x="58.49" y="57.46" width="3.22" height="3.21" fill="#2626ff"/>
<rect x="61.41" y="57.46" width="3.22" height="3.21" fill="#8080ff"/>
<rect x="67.24" y="57.46" width="6.13" height="3.21" fill="#5959ff"/>
<rect x="73.07" y="57.46" width="3.22" height="3.21" fill="#0d0dff"/>
<rect x="75.99" y="57.46" width="3.22" height="3.21" fill="#2626ff"/>
<rect x="78.90" y="57.46" width="3.22" height="3.21" fill="#0d0dff"/>
<rect x="81.82" y="57.46" width="3.22" height="3.21" fill="#3333ff"/>
<rect x="84.74" y="57.46" width="3.22" height="3.21" fill="#0d0dff"/>
<rect x="87.65" y="57.46" width="3.22" height="3.21" fill="#1a1aff"/>
<rect x="90.57" y="57.46" width="6.13" height="3.21" fill="#0d0dff"/>
<rect x="96.40" y="57.46" width="3.22" height="3.21" fill="#1a1aff"/>
<rect x="99.31" y="57.46" width="3.22" height="3.21" fill="#0d0dff"/>
<rect x="41.00" y="54.54" width="3.22" height="3.21" fill="#b2b2ff"/>
<rect x="43.92" y="54.54" width="3.22" height="3.21" fill="#0d0dff"/>
<rect x="46.83" y="54.54" width="3.22" height="3.21" fill="#4c4cff"/>
<rect x="49.75" y="54.54" width="3.22" height="3.21" fill="#7373ff"/>
<rect x="52.66" y="54.54" width="3.22" height="3.21" fill="#0d0dff"/>
<rect x="55.58" y="54.54" width="3.22" height="3.21" fill="#4c4cff"/>
<rect x="58.49" y="54.54" width="3.22" height="3.21" fill="#1a1aff"/>
<rect x="61.41" y="54.54" width="3.22" height="3.21" fill="#3333ff"/>
<rect x="64.33" y="54.54" width="3.22" height="3.21" fill="#9999ff"/>
<rect x="67.24" y="54.54" width="9.05" height="3.21" fill="#4040ff"/>
<rect x="75.99" y="54.54" width="6.13" height="3.21" fill="#6666ff"/>
<rect x="81.82" y="54.54" width="3.22" height="3.21" fill="#1a1aff"/>
<rect x="84.74" y="54.54" width="3.22" height="3.21" fill="#2626ff"/>
<rect x="87.65" y="54.54" width="3.22" height="3.21" fill="#4c4cff"/>
<rect x="90.57" y="54.54" width="3.22" height="3.21" fill="#3333ff"/>
<rect x="93.48" y="54.54" width="3.22" height="3.21" fill="#2626ff"/>
<rect x="96.40" y="54.54" width="3.22" height="3.21" fill="#0d0dff"/>
<rect x="41.00" y="51.63" width="3.22" height="3.21" fill="#f2f2ff"/>
<rect x="43.92" y="51.63" width="3.22" height="3.21" fill="#4c4cff"/>
<rect x="46.83" y="51.63" width="3.22" height="3.21" fill="#4040ff"/>
<rect x="49.75" y="51.63" width="6.13" height="3.21" fill="#3333ff"/>
<rect x="55.58" y="51.63" width="3.22" height="3.21" fill="#4040ff"/>
<rect x="58.49" y="51.63" width="3.22" height="3.21" fill="#1a1aff"/>
<rect x="61.41" y="51.63" width="3.22" height="3.21" fill="#2626ff"/>
<rect x="64.33" y="51.63" width="3.22" height="3.21" fill="#7373ff"/>
<rect x="67.24" y="51.63" width="3.22" height="3.21" fill="#2626ff"/>
<rect x="70.16" y="51.63" width="3.22" height="3.21" fill="#0d0dff"/>
<rect x="73.07" y="51.63" width="3.22" height="3.21" fill="#2626ff"/>
<rect x="75.99" y="51.63" width="3.22" height="3.21" fill="#4040ff"/>
<rect x="78.90" y="51.63" width="6.13" height="3.21" fill="#1a1aff"/>
<rect x="84.74" y="51.63" width="3.22" height="3.21" fill="#0d0dff"/>
<rect x="90.57" y="51.63" width="3.22" height="3.21" fill="#5959ff"/>
<rect x="41.00" y="48.71" width="3.22" height="3.21" fill="#b2b2ff"/>
<rect x="43.92" y="48.71" width="3.22" height="3.21" fill="#6666ff"/>
<rect x="46.83" y="48.71" width="3.22" height="3.21" fill="#9999ff"/>
<rect x="49.75" y="48.71" width="3.22" height="3.21" fill="#0d0dff"/>
<rect x="52.66" y="48.71" width="3.22" height="3.21" fill="#5959ff"/>
<rect x="55.58" y="48.71" width="3.22" height="3.21" fill="#4c4cff"/>
<rect x="58.49" y="48.71" width="3.22" height="3.21" fill="#3333ff"/>
<rect x="61.41" y="48.71" width="3.22" height="3.21" fill="#1a1aff"/>
<rect x="64.33" y="48.71" width="3.22" height="3.21" fill="#0d0dff"/>
<rect x="70.16" y="48.71" width="3.22" height="3.21" fill="#5959ff"/>
<rect x="73.07" y="48.71" width="3.22" height="3.21" fill="#3333ff"/>
<rect x="75.99" y="48.71" width="6.13" height="3.21" fill="#7373ff"/>
<rect x="81.82" y="48.71" width="3.22" height="3.21" fill="#1a1aff"/>
<rect x="84.74" y="48.71" width="3.22" height="3.21" fill="#2626ff"/>
<rect x="90.57" y="48.71" width="3.22" height="3.21" fill="#1a1aff"/>
<rect x="41.00" y="45.80" width="3.22" height="3.21" fill="#f2f2ff"/>
<rect x="43.92" y="45.80" width="3.22" height="3.21" fill="#2626ff"/>
<rect x="46.83" y="45.80" width="3.22" height="3.21" fill="#3333ff"/>
<rect x="49.75" y="45.80" width="3.22" height="3.21" fill="#4c4cff"/>
<rect x="52.66" y="45.80" width="3.22" height="3.21" fill="#4040ff"/>
<rect x="55.58" y="45.80" width="6.13" height="3.21" fill="#8080ff"/>
<rect x="61.41" y="45.80" width="3.22" height="3.21" fill="#a6a6ff"/>
<rect x="64.33" y="45.80" width="3.22" height="3.21" fill="#4c4cff"/>
<rect x="67.24" y="45.80" width="3.22" height="3.21" fill="#8080ff"/>
<rect x="70.16" y="45.80" width="3.22" height="3.21" fill="#4040ff"/>
<rect x="73.07" y="45.80" width="3.22" height="3.21" fill="#6666ff"/>
<rect x="75.99" y="45.80" width="3.22" height="3.21" fill="#1a1aff"/>
<rect x="78.90" y="45.80" width="3.22" height="3.21" fill="#2626ff"/>
<rect x="81.82" y="45.80" width="3.22" height="3.21" fill="#1a1aff"/>
<rect x="84.74" y="45.80" width="6.13" height="3.21" fill="#3333ff"/>
<rect x="41.00" y="42.89" width="3.22" height="3.21" fill="#8c8cff"/>
<rect x="43.92" y="42.89" width="6.13" height="3.21" fill="#b2b2ff"/>
<rect x="52.66" y="42.89" width="3.22" height="3.21" fill="#2626ff"/>
<rect x="55.58" y="42.89" width="3.22" height="3.21" fill="#8080ff"/>
<rect x="58.49" y="42.89" width="3.22" height="3.21" fill="#3333ff"/>
<rect x="61.41" y="42.89" width="3.22" height="3.21" fill="#4040ff"/>
<rect x="64.33" y="42.89" width="3.22" height="3.21" fill="#8080ff"/>
<rect x="67.24" y="42.89" width="3.22" height="3.21" fill="#a6a6ff"/>
<rect x="70.16" y="42.89" width="3.22" height="3.21" fill="#7373ff"/>
<rect x="73.07" y="42.89" width="3.22" height="3.21" fill="#5959ff"/>
<rect x="78.90" y="42.89" width="3.22" height="3.21" fill="#2626ff"/>
<rect x="81.82" y="42.89" width="3.22" height="3.21" fill="#3333ff"/>
<rect x="84.74" y="42.89" width="3.22" height="3.21" fill="#1a1aff"/>
<rect x="41.00" y="39.97" width="3.22" height="3.21" fill="#1a1aff"/>
<rect x="43.92" y="39.97" width="3.22" height="3.21" fill="#2626ff"/>
<rect x="46.83" y="39.97" width="3.22" height="3.21" fill="#4c4cff"/>
<rect x="49.75" y="39.97" width="3.22" height="3.21" fill="#ffcccc"/>
<rect x="52.66" y="39.97" width="3.22" height="3.21" fill="#6666ff"/>
<rect x="55.58" y="39.97" width="3.22" height="3.21" fill="#1a1aff"/>
<rect x="58.49" y="39.97" width="3.22" height="3.21" fill="#0d0dff"/>
<rect x="61.41" y="39.97" width="3.22" height="3.21" fill="#4040ff"/>
<rect x="64.33" y="39.97" width="3.22" height="3.21" fill="#1a1aff"/>
<rect x="73.07" y="39.97" width="3.22" height="3.21" fill="#5959ff"/>
<rect x="75.99" y="39.97" width="3.22" height="3.21" fill="#8080ff"/>
<rect x="78.90" y="39.97" width="3.22" height="3.21" fill="#0d0dff"/>
<rect x="81.82" y="39.97" width="3.22" height="3.21" fill="#4c4cff"/>
<rect x="41.00" y="37.06" width="3.22" height="3.21" fill="#3333ff"/>
<rect x="43.92" y="37.06" width="3.22" height="3.21" fill="#d9d9ff"/>
<rect x="46.83" y="37.06" width="3.22" height="3.21" fill="#ffb2b2"/>
<rect x="49.75" y="37.06" width="3.22" height="3.21" fill="#0d0dff"/>
<rect x="52.66" y="37.06" width="3.22" height="3.21" fill="#4040ff"/>
<rect x="55.58" y="37.06" width="6.13" height="3.21" fill="#6666ff"/>
<rect x="61.41" y="37.06" width="3.22" height="3.21" fill="#a6a6ff"/>
<rect x="64.33" y="37.06" width="3.22" height="3.21" fill="#3333ff"/>
<rect x="67.24" y="37.06" width="6.13" height="3.21" fill="#1a1aff"/>
<rect x="73.07" y="37.06" width="3.22" height="3.21" fill="#5959ff"/>
<rect x="75.99" y="37.06" width="3.22" height="3.21" fill="#4040ff"/>
<rect x="78.90" y="37.06" width="3.22" height="3.21" fill="#1a1aff"/>
<rect x="41.00" y="34.14" width="3.22" height="3.21" fill="#ffcccc"/>
<rect x="43.92" y="34.14" width="3.22" height="3.21" fill="#4040ff"/>
<rect x="46.83" y="34.14" width="3.22" height="3.21" fill="#4c4cff"/>
<rect x="49.75" y="34.14" width="3.22" height="3.21" fill="#8080ff"/>
<rect x="52.66" y="34.14" width="3.22" height="3.21" fill="#fff2f2"/>
<rect x="55.58" y="34.14" width="3.22" height="3.21" fill="#3333ff"/>
<rect x="58.49" y="34.14" width="3.22" height="3.21" fill="#ccccff"/>
<rect x="61.41" y="34.14" width="3.22" height="3.21" fill="#d9d9ff"/>
<rect x="64.33" y="34.14" width="3.22" height="3.21" fill="#8c8cff"/>
<rect x="67.24" y="34.14" width="3.22" height="3.21" fill="#2626ff"/>
<rect x="70.16" y="34.14" width="3.22" height="3.21" fill="#0d0dff"/>
<rect x="73.07" y="34.14" width="3.22" height="3.21" fill="#1a1aff"/>
<rect x="75.99" y="34.14" width="3.22" height="3.21" fill="#3333ff"/>
<rect x="41.00" y="31.23" width="3.22" height="3.21" fill="#ccccff"/>
<rect x="43.92" y="31.23" width="3.22" height="3.21" fill="#4040ff"/>
<rect x="46.83" y="31.23" width="3.22" height="3.21" fill="#bfbfff"/>
<rect x="49.75" y="31.23" width="3.22" height="3.21" fill="#9999ff"/>
<rect x="52.66" y="31.23" width="3.22" height="3.21" fill="#2626ff"/>
<rect x="55.58" y="31.23" width="3.22" height="3.21" fill="#4040ff"/>
<rect x="58.49" y="31.23" width="3.22" height="3.21" fill="#4c4cff"/>
<rect x="61.41" y="31.23" width="3.22" height="3.21" fill="#8080ff"/>
<rect x="64.33" y="31.23" width="3.22" height="3.21" fill="#bfbfff"/>
<rect x="67.24" y="31.23" width="3.22" height="3.21" fill="#4040ff"/>
<rect x="70.16" y="31.23" width="3.22" height="3.21" fill="#0d0dff"/>
<rect x="73.07" y="31.23" width="3.22" height="3.21" fill="#2626ff"/>
<rect x="41.00" y="28.31" width="3.22" height="3.21" fill="#b2b2ff"/>
<rect x="43.92" y="28.31" width="3.22" height="3.21" fill="#ccccff"/>
<rect x="46.83" y="28.31" width="3.22" height="3.21" fill="#7373ff"/>
<rect x="49.75" y="28.31" width="6.13" height="3.21" fill="#8080ff"/>
<rect x="55.58" y="28.31" width="3.22" height="3.21" fill="#8c8cff"/>
<rect x="58.49" y="28.31" width="3.22" height="3.21" fill="#4c4cff"/>
<rect x="61.41" y="28.31" width="3.22" height="3.21" fill="#7373ff"/>
<rect x="64.33" y="28.31" width="6.13" height="3.21" fill="#3333ff"/>
<rect x="70.16" y="28.31" width="3.22" height="3.21" fill="#2626ff"/>
<rect x="41.00" y="25.40" width="3.22" height="3.21" fill="#b2b2ff"/>
<rect x="43.92" y="25.40" width="3.22" height="3.21" fill="#8c8cff"/>
<rect x="46.83" y="25.40" width="3.22" height="3.21" fill="#f2f2ff"/>
<rect x="49.75" y="25.40" width="3.22" height="3.21" fill="#bfbfff"/>
<rect x="55.58" y="25.40" width="3.22" height="3.21" fill="#4040ff"/>
<rect x="58.49" y="25.40" width="3.22" height="3.21" fill="#6666ff"/>
<rect x="61.41" y="25.40" width="3.22" height="3.21" fill="#0d0dff"/>
<rect x="64.33" y="25.40" width="3.22" height="3.21" fill="#8c8cff"/>
<rect x="67.24" y="25.40" width="3.22" height="3.21" fill="#0d0dff"/>
<rect x="41.00" y="22.49" width="3.22" height="3.21" fill="#2626ff"/>
<rect x="43.92" y="22.49" width="3.22" height="3.21" fill="#e6e6ff"/>
<rect x="46.83" y="22.49" width="3.22" height="3.21" fill="#9999ff"/>
<rect x="49.75" y="22.49" width="3.22" height="3.21" fill="#8080ff"/>
<rect x="52.66" y="22.49" width="3.22" height="3.21" fill="#3333ff"/>
<rect x="55.58" y="22.49" width="3.22" height="3.21" fill="#1a1aff"/>
<rect x="58.49" y="22.49" width="3.22" height="3.21" fill="#2626ff"/>
<rect x="61.41" y="22.49" width="3.22" height="3.21" fill="#1a1aff"/>
<rect x="64.33" y="22.49" width="3.22" height="3.21" fill="#d9d9ff"/>
<rect x="41.00" y="19.57" width="3.22" height="3.21" fill="#9999ff"/>
<rect x="43.92" y="19.57" width="3.22" height="3.21" fill="#ffe5e5"/>
<rect x="46.83" y="19.57" width="3.22" height="3.21" fill="#ffbfbf"/>
<rect x="52.66" y="19.57" width="3.22" height="3.21" fill="#4c4cff"/>
<rect x="55.58" y="19.57" width="3.22" height="3.21" fill="#ffd9d9"/>
<rect x="58.49" y="19.57" width="3.22" height="3.21" fill="#0d0dff"/>
<rect x="61.41" y="19.57" width="3.22" height="3.21" fill="#bfbfff"/>
<rect x="41.00" y="16.66" width="3.22" height="3.21" fill="#f2f2ff"/>
<rect x="43.92" y="16.66" width="3.22" height="3.21" fill="#5959ff"/>
<rect x="46.83" y="16.66" width="3.22" height="3.21" fill="#4c4cff"/>
<rect x="49.75" y="16.66" width="3.22" height="3.21" fill="#d9d9ff"/>
<rect x="52.66" y="16.66" width="3.22" height="3.21" fill="#3333ff"/>
<rect x="55.58" y="16.66" width="3.22" height="3.21" fill="#0d0dff"/>
<rect x="58.49" y="16.66" width="3.22" height="3.21" fill="#4c4cff"/>
<rect x="41.00" y="13.74" width="3.22" height="3.21" fill="#0d0dff"/>
<rect x="43.92" y="13.74" width="3.22" height="3.21" fill="#4c4cff"/>
<rect x="46.83" y="13.74" width="3.22" height="3.21" fill="#0d0dff"/>
<rect x="49.75" y="13.74" width="3.22" height="3.21" fill="#b2b2ff"/>
<rect x="52.66" y="13.74" width="3.22" height="3.21" fill="#e6e6ff"/>
<rect x="55.58" y="13.74" width="3.22" height="3.21" fill="#1a1aff"/>
<rect x="41.00" y="10.83" width="3.22" height="3.21" fill="#3333ff"/>
<rect x="43.92" y="10.83" width="3.22" height="3.21" fill="#b2b2ff"/>
<rect x="46.83" y="10.83" width="3.22" height="3.21" fill="#3333ff"/>
<rect x="49.75" y="10.83" width="3.22" height="3.21" fill="#bfbfff"/>
<rect x="52.66" y="10.83" width="3.22" height="3.21" fill="#b2b2ff"/>
<rect x="41.00" y="7.91" width="3.22" height="3.21" fill="#d9d9ff"/>
<rect x="43.92" y="7.91" width="3.22" height="3.21" fill="#ccccff"/>
<rect x="46.83" y="7.91" width="3.22" height="3.21" fill="#bfbfff"/>
<rect x="49.75" y="7.91" width="3.22" height="3.21" fill="#ffb2b2"/>
<rect x="41.00" y="5.00" width="3.22" height="3.21" fill="#ffffff"/>
<rect x="43.92" y="5.00" width="3.22" height="3.21" fill="#bfbfff"/>
<rect x="46.83" y="5.00" width="3.22" height="3.21" fill="#ffcccc"/>
</g>
<clipPath id="cb"><polygon points="415.70,6.30 415.70,208.50 618.00,208.50"/></clipPath>
<g clip-path="url(#cb)" shape-rendering="crispEdges">
<rect x="414.80" y="206.49" width="11.96" height="3.21" fill="#ff1010"/>
<rect x="426.46" y="206.49" width="11.96" height="3.21" fill="#ff1515"/>
<rect x="438.13" y="206.49" width="3.22" height="3.21" fill="#ff1b1b"/>
<rect x="441.04" y="206.49" width="3.22" height="3.21" fill="#ff2020"/>
<rect x="443.96" y="206.49" width="3.22" height="3.21" fill="#ff3535"/>
<rect x="446.87" y="206.49" width="3.22" height="3.21" fill="#ff4545"/>
<rect x="449.79" y="206.49" width="3.22" height="3.21" fill="#ff2b2b"/>
<rect x="452.70" y="206.49" width="3.22" height="3.21" fill="#ff5050"/>
<rect x="455.62" y="206.49" width="3.22" height="3.21" fill="#ff3a3a"/>
<rect x="458.54" y="206.49" width="3.22" height="3.21" fill="#ff4545"/>
<rect x="461.45" y="206.49" width="3.22" height="3.21" fill="#ff5050"/>
<rect x="464.37" y="206.49" width="3.22" height="3.21" fill="#ff5a5a"/>
<rect x="467.28" y="206.49" width="3.22" height="3.21" fill="#ff6565"/>
<rect x="470.20" y="206.49" width="3.22" height="3.21" fill="#ff7070"/>
<rect x="473.11" y="206.49" width="3.22" height="3.21" fill="#ff8080"/>
<rect x="476.03" y="206.49" width="3.22" height="3.21" fill="#ff8a8a"/>
<rect x="478.95" y="206.49" width="3.22" height="3.21" fill="#ff9a9a"/>
<rect x="481.86" y="206.49" width="3.22" height="3.21" fill="#ffaaaa"/>
<rect x="484.78" y="206.49" width="3.22" height="3.21" fill="#ffb5b5"/>
<rect x="487.69" y="206.49" width="3.22" height="3.21" fill="#ffcaca"/>
<rect x="490.61" y="206.49" width="3.22" height="3.21" fill="#ffdfdf"/>
<rect x="493.52" y="206.49" width="3.22" height="3.21" fill="#ffefef"/>
<rect x="496.44" y="206.49" width="3.22" height="3.21" fill="#ffffff"/>
<rect x="499.36" y="206.49" width="3.22" height="3.21" fill="#fafaff"/>
<rect x="502.27" y="206.49" width="3.22" height="3.21" fill="#efefff"/>
<rect x="505.19" y="206.49" width="3.22" height="3.21" fill="#eaeaff"/>
<rect x="508.10" y="206.49" width="3.22" height="3.21" fill="#e4e4ff"/>
<rect x="511.02" y="206.49" width="3.22" height="3.21" fill="#dfdfff"/>
<rect x="513.93" y="206.49" width="3.22" height="3.21" fill="#dadaff"/>
<rect x="516.85" y="206.49" width="6.13" height="3.21" fill="#d4d4ff"/>
<rect x="522.68" y="206.49" width="3.22" height="3.21" fill="#cfcfff"/>
<rect x="525.60" y="206.49" width="6.13" height="3.21" fill="#cacaff"/>
<rect x="531.43" y="206.49" width="3.22" height="3.21" fill="#c5c5ff"/>
<rect x="534.34" y="206.49" width="3.22" height="3.21" fill="#bfbfff"/>
<rect x="537.26" y="206.49" width="6.13" height="3.21" fill="#babaff"/>
<rect x="543.09" y="206.49" width="3.22" height="3.21" fill="#b5b5ff"/>
<rect x="546.01" y="206.49" width="6.13" height="3.21" fill="#afafff"/>
<rect x="551.84" y="206.49" width="6.13" height="3.21" fill="#aaaaff"/>
<rect x="557.67" y="206.49" width="6.13" height="3.21" fill="#a5a5ff"/>
<rect x="563.50" y="206.49" width="9.05" height="3.21" fill="#9f9fff"/>
<rect x="572.25" y="206.49" width="9.05" height="3.21" fill="#9a9aff"/>
<rect x="581.00" y="206.49" width="6.13" height="3.21" fill="#9595ff"/>
<rect x="586.83" y="206.49" width="6.13" height="3.21" fill="#8f8fff"/>
<rect x="592.66" y="206.49" width="3.22" height="3.21" fill="#8a8aff"/>
<rect x="595.57" y="206.49" width="6.13" height="3.21" fill="#8585ff"/>
<rect x="601.41" y="206.49" width="3.22" height="3.21" fill="#8080ff"/>
<rect x="604.32" y="206.49" width="6.13" height="3.21" fill="#7a7aff"/>
<rect x="610.15" y="206.49" width="3.22" height="3.21" fill="#7575ff"/>
<rect x="613.07" y="206.49" width="3.22" height="3.21" fill="#7070ff"/>
<rect x="615.98" y="206.49" width="3.22" height="3.21" fill="#6a6aff"/>
<rect x="414.80" y="203.57" width="9.05" height="3.21" fill="#ff1010"/>
<rect x="423.55" y="203.57" width="3.22" height="3.21" fill="#ff1515"/>
<rect x="426.46" y="203.57" width="3.22" height="3.21" fill="#ff2b2b"/>
<rect x="429.38" y="203.57" width="3.22" height="3.21" fill="#ff2525"/>
<rect x="432.29" y="203.57" width="3.22" height="3.21" fill="#ff1515"/>
<rect x="435.21" y="203.57" width="3.22" height="3.21" fill="#ff3030"/>
<rect x="438.13" y="203.57" width="6.13" height="3.21" fill="#ff2020"/>
<rect x="443.96" y="203.57" width="3.22" height="3.21" fill="#ff2525"/>
<rect x="446.87" y="203.57" width="6.13" height="3.21" fill="#ff2b2b"/>
<rect x="452.70" y="203.57" width="3.22" height="3.21" fill="#ff3535"/>
<rect x="455.62" y="203.57" width="3.22" height="3.21" fill="#ff4040"/>
<rect x="458.54" y="203.57" width="3.22" height="3.21" fill="#ff4a4a"/>
<rect x="461.45" y="203.57" width="3.22" height="3.21" fill="#ff5555"/>
<rect x="464.37" y="203.57" width="3.22" height="3.21" fill="#ff6060"/>
<rect x="467.28" y="203.57" width="3.22" height="3.21" fill="#ff6a6a"/>
<rect x="470.20" y="203.57" width="3.22" height="3.21" fill="#ff7a7a"/>
<rect x="473.11" y="203.57" width="3.22" height="3.21" fill="#ff8585"/>
<rect x="476.03" y="203.57" width="3.22" height="3.21" fill="#ff9595"/>
<rect x="478.95" y="203.57" width="3.22" height="3.21" fill="#ffa5a5"/>
<rect x="481.86" y="203.57" width="3.22" height="3.21" fill="#ffafaf"/>
<rect x="484.78" y="203.57" width="3.22" height="3.21" fill="#ffc5c5"/>
<rect x="487.69" y="203.57" width="3.22" height="3.21" fill="#ffdada"/>
<rect x="490.61" y="203.57" width="3.22" height="3.21" fill="#ffeaea"/>
<rect x="493.52" y="203.57" width="3.22" height="3.21" fill="#ffffff"/>
<rect x="496.44" y="203.57" width="3.22" height="3.21" fill="#fafaff"/>
<rect x="499.36" y="203.57" width="3.22" height="3.21" fill="#f4f4ff"/>
<rect x="502.27" y="203.57" width="3.22" height="3.21" fill="#efefff"/>
<rect x="505.19" y="203.57" width="3.22" height="3.21" fill="#eaeaff"/>
<rect x="508.10" y="203.57" width="3.22" height="3.21" fill="#e4e4ff"/>
<rect x="511.02" y="203.57" width="3.22" height="3.21" fill="#dfdfff"/>
<rect x="513.93" y="203.57" width="3.22" height="3.21" fill="#dadaff"/>
<rect x="516.85" y="203.57" width="6.13" height="3.21" fill="#d4d4ff"/>
<rect x="522.68" y="203.57" width="3.22" height="3.21" fill="#cfcfff"/>
<rect x="525.60" y="203.57" width="6.13" height="3.21" fill="#cacaff"/>
<rect x="531.43" y="203.57" width="3.22" height="3.21" fill="#c5c5ff"/>
<rect x="534.34" y="203.57" width="6.13" height="3.21" fill="#bfbfff"/>
<rect x="540.18" y="203.57" width="3.22" height="3.21" fill="#babaff"/>
<rect x="543.09" y="203.57" width="6.13" height="3.21" fill="#b5b5ff"/>
<rect x="548.92" y="203.57" width="6.13" height="3.21" fill="#afafff"/>
<rect x="554.75" y="203.57" width="6.13" height="3.21" fill="#aaaaff"/>
<rect x="560.59" y="203.57" width="6.13" height="3.21" fill="#a5a5ff"/>
<rect x="566.42" y="203.57" width="6.13" height="3.21" fill="#9f9fff"/>
<rect x="572.25" y="203.57" width="6.13" height="3.21" fill="#9a9aff"/>
<rect x="578.08" y="203.57" width="6.13" height="3.21" fill="#9595ff"/>
<rect x="583.91" y="203.57" width="6.13" height="3.21" fill="#8f8fff"/>
<rect x="589.74" y="203.57" width="3.22" height="3.21" fill="#8a8aff"/>
<rect x="592.66" y="203.57" width="6.13" height="3.21" fill="#8585ff"/>
<rect x="598.49" y="203.57" width="3.22" height="3.21" fill="#8080ff"/>
<rect x="601.41" y="203.57" width="3.22" height="3.21" fill="#7a7aff"/>
<rect x="604.32" y="203.57" width="3.22" height="3.21" fill="#7575ff"/>
<rect x="607.24" y="203.57" width="6.13" height="3.21" fill="#7070ff"/>
<rect x="613.07" y="203.57" width="3.22" height="3.21" fill="#6a6aff"/>
<rect x="615.98" y="203.57" width="3.22" height="3.21" fill="#6565ff"/>
<rect x="414.80" y="200.66" width="6.13" height="3.21" fill="#ff1010"/>
<rect x="420.63" y="200.66" width="11.96" height="3.21" fill="#ff1515"/>
<rect x="432.29" y="200.66" width="6.13" height="3.21" fill="#ff1b1b"/>
<rect x="438.13" y="200.66" width="3.22" height="3.21" fill="#ff2020"/>
<rect x="441.04" y="200.66" width="3.22" height="3.21" fill="#ff2525"/>
<rect x="443.96" y="200.66" width="3.22" height="3.21" fill="#ff4545"/>
<rect x="446.87" y="200.66" width="3.22" height="3.21" fill="#ff2b2b"/>
<rect x="449.79" y="200.66" width="3.22" height="3.21" fill="#ff3030"/>
<rect x="452.70" y="200.66" width="3.22" height="3.21" fill="#ff3a3a"/>
<rect x="455.62" y="200.66" width="3.22" height="3.21" fill="#ff4a4a"/>
<rect x="458.54" y="200.66" width="3.22" height="3.21" fill="#ff5555"/>
<rect x="461.45" y="200.66" width="3.22" height="3.21" fill="#ff6060"/>
<rect x="464.37" y="200.66" width="3.22" height="3.21" fill="#ff6a6a"/>
<rect x="467.28" y="200.66" width="3.22" height="3.21" fill="#ff7575"/>
<rect x="470.20" y="200.66" width="3.22" height="3.21" fill="#ff8585"/>
<rect x="473.11" y="200.66" width="3.22" height="3.21" fill="#ff8f8f"/>
<rect x="476.03" y="200.66" width="3.22" height="3.21" fill="#ff9f9f"/>
<rect x="478.95" y="200.66" width="3.22" height="3.21" fill="#ffafaf"/>
<rect x="481.86" y="200.66" width="3.22" height="3.21" fill="#ffbfbf"/>
<rect x="484.78" y="200.66" width="3.22" height="3.21" fill="#ffd4d4"/>
<rect x="487.69" y="200.66" width="3.22" height="3.21" fill="#ffe4e4"/>
<rect x="490.61" y="200.66" width="3.22" height="3.21" fill="#fffafa"/>
<rect x="493.52" y="200.66" width="3.22" height="3.21" fill="#fafaff"/>
<rect x="496.44" y="200.66" width="3.22" height="3.21" fill="#f4f4ff"/>
<rect x="499.36" y="200.66" width="3.22" height="3.21" fill="#efefff"/>
<rect x="502.27" y="200.66" width="3.22" height="3.21" fill="#eaeaff"/>
<rect x="505.19" y="200.66" width="3.22" height="3.21" fill="#e4e4ff"/>
<rect x="508.10" y="200.66" width="6.13" height="3.21" fill="#dfdfff"/>
<rect x="513.93" y="200.66" width="3.22" height="3.21" fill="#dadaff"/>
<rect x="516.85" y="200.66" width="3.22" height="3.21" fill="#d4d4ff"/>
<rect x="519.77" y="200.66" width="6.13" height="3.21" fill="#cfcfff"/>
<rect x="525.60" y="200.66" width="6.13" height="3.21" fill="#cacaff"/>
<rect x="531.43" y="200.66" width="3.22" height="3.21" fill="#c5c5ff"/>
<rect x="534.34" y="200.66" width="6.13" height="3.21" fill="#bfbfff"/>
<rect x="540.18" y="200.66" width="6.13" height="3.21" fill="#babaff"/>
<rect x="546.01" y="200.66" width="3.22" height="3.21" fill="#b5b5ff"/>
<rect x="548.92" y="200.66" width="6.13" height="3.21" fill="#afafff"/>
<rect x="554.75" y="200.66" width="6.13" height="3.21" fill="#aaaaff"/>
<rect x="560.59" y="200.66" width="6.13" height="3.21" fill="#a5a5ff"/>
<rect x="566.42" y="200.66" width="6.13" height="3.21" fill="#9f9fff"/>
<rect x="572.25" y="200.66" width="6.13" height="3.21" fill="#9a9aff"/>
<rect x="578.08" y="200.66" width="3.22" height="3.21" fill="#9595ff"/>
<rect x="581.00" y="200.66" width="6.13" height="3.21" fill="#8f8fff"/>
<rect x="586.83" y="200.66" width="3.22" height="3.21" fill="#8a8aff"/>
<rect x="589.74" y="200.66" width="3.22" height="3.21" fill="#8585ff"/>
<rect x="592.66" y="200.66" width="3.22" height="3.21" fill="#8080ff"/>
<rect x="595.57" y="200.66" width="6.13" height="3.21" fill="#7a7aff"/>
<rect x="601.41" y="200.66" width="3.22" height="3.21" fill="#7575ff"/>
<rect x="604.32" y="200.66" width="3.22" height="3.21" fill="#7070ff"/>
<rect x="607.24" y="200.66" width="6.13" height="3.21" fill="#6a6aff"/>
<rect x="613.07" y="200.66" width="6.13" height="3.21" fill="#6565ff"/>
<rect x="414.80" y="197.74" width="6.13" height="3.21" fill="#ff1010"/>
<rect x="420.63" y="197.74" width="3.22" height="3.21" fill="#ff1515"/>
<rect x="423.55" y="197.74" width="3.22" height="3.21" fill="#ff2525"/>
<rect x="426.46" y="197.74" width="6.13" height="3.21" fill="#ff1515"/>
<rect x="432.29" y="197.74" width="3.22" height="3.21" fill="#ff1b1b"/>
<rect x="435.21" y="197.74" width="3.22" height="3.21" fill="#ff2020"/>
<rect x="438.13" y="197.74" width="3.22" height="3.21" fill="#ff3a3a"/>
<rect x="441.04" y="197.74" width="3.22" height="3.21" fill="#ff2525"/>
<rect x="443.96" y="197.74" width="3.22" height="3.21" fill="#ff2b2b"/>
<rect x="446.87" y="197.74" width="3.22" height="3.21" fill="#ff4040"/>
<rect x="449.79" y="197.74" width="3.22" height="3.21" fill="#ff3a3a"/>
<rect x="452.70" y="197.74" width="3.22" height="3.21" fill="#ff4545"/>
<rect x="455.62" y="197.74" width="3.22" height="3.21" fill="#ff5050"/>
<rect x="458.54" y="197.74" width="3.22" height="3.21" fill="#ff5a5a"/>
<rect x="461.45" y="197.74" width="3.22" height="3.21" fill="#ff6565"/>
<rect x="464.37" y="197.74" width="3.22" height="3.21" fill="#ff7070"/>
<rect x="467.28" y="197.74" width="3.22" height="3.21" fill="#ff8080"/>
<rect x="470.20" y="197.74" width="3.22" height="3.21" fill="#ff8a8a"/>
<rect x="473.11" y="197.74" width="3.22" height="3.21" fill="#ff9a9a"/>
<rect x="476.03" y="197.74" width="3.22" height="3.21" fill="#ffaaaa"/>
<rect x="478.95" y="197.74" width="3.22" height="3.21" fill="#ffbaba"/>
<rect x="481.86" y="197.74" width="3.22" height="3.21" fill="#ffcfcf"/>
<rect x="484.78" y="197.74" width="3.22" height="3.21" fill="#ffdfdf"/>
<rect x="487.69" y="197.74" width="3.22" height="3.21" fill="#fff4f4"/>
<rect x="490.61" y="197.74" width="3.22" height="3.21" fill="#ffffff"/>
<rect x="493.52" y="197.74" width="3.22" height="3.21" fill="#fafaff"/>
<rect x="496.44" y="197.74" width="3.22" height="3.21" fill="#f4f4ff"/>
<rect x="499.36" y="197.74" width="3.22" height="3.21" fill="#efefff"/>
<rect x="502.27" y="197.74" width="3.22" height="3.21" fill="#eaeaff"/>
<rect x="505.19" y="197.74" width="3.22" height="3.21" fill="#e4e4ff"/>
<rect x="508.10" y="197.74" width="3.22" height="3.21" fill="#dfdfff"/>
<rect x="511.02" y="197.74" width="6.13" height="3.21" fill="#dadaff"/>
<rect x="516.85" y="197.74" width="3.22" height="3.21" fill="#d4d4ff"/>
<rect x="519.77" y="197.74" width="9.05" height="3.21" fill="#cfcfff"/>
<rect x="528.51" y="197.74" width="3.22" height="3.21" fill="#cacaff"/>
<rect x="531.43" y="197.74" width="6.13" height="3.21" fill="#c5c5ff"/>
<rect x="537.26" y="197.74" width="3.22" height="3.21" fill="#bfbfff"/>
<rect x="540.18" y="197.74" width="6.13" height="3.21" fill="#babaff"/>
<rect x="546.01" y="197.74" width="6.13" height="3.21" fill="#b5b5ff"/>
<rect x="551.84" y="197.74" width="3.22" height="3.21" fill="#afafff"/>
<rect x="554.75" y="197.74" width="6.13" height="3.21" fill="#aaaaff"/>
<rect x="560.59" y="197.74" width="3.22" height="3.21" fill="#a5a5ff"/>
<rect x="563.50" y="197.74" width="6.13" height="3.21" fill="#9f9fff"/>
<rect x="569.33" y="197.74" width="6.13" height="3.21" fill="#9a9aff"/>
<rect x="575.16" y="197.74" width="3.22" height="3.21" fill="#9595ff"/>
<rect x="578.08" y="197.74" width="3.22" height="3.21" fill="#8f8fff"/>
<rect x="581.00" y="197.74" width="6.13" height="3.21" fill="#8a8aff"/>
<rect x="586.83" y="197.74" width="3.22" height="3.21" fill="#8585ff"/>
<rect x="589.74" y="197.74" width="3.22" height="3.21" fill="#8080ff"/>
<rect x="592.66" y="197.74" width="6.13" height="3.21" fill="#7a7aff"/>
<rect x="598.49" y="197.74" width="3.22" height="3.21" fill="#7575ff"/>
<rect x="601.41" y="197.74" width="3.22" height="3.21" fill="#7070ff"/>
<rect x="604.32" y="197.74" width="3.22" height="3.21" fill="#6a6aff"/>
<rect x="607.24" y="197.74" width="9.05" height="3.21" fill="#6565ff"/>
<rect x="414.80" y="194.83" width="3.22" height="3.21" fill="#ff1010"/>
<rect x="417.72" y="194.83" width="3.22" height="3.21" fill="#ff1515"/>
<rect x="420.63" y="194.83" width="3.22" height="3.21" fill="#ff2525"/>
<rect x="423.55" y="194.83" width="3.22" height="3.21" fill="#ff2020"/>
<rect x="426.46" y="194.83" width="3.22" height="3.21" fill="#ff1515"/>
<rect x="429.38" y="194.83" width="6.13" height="3.21" fill="#ff1b1b"/>
<rect x="435.21" y="194.83" width="3.22" height="3.21" fill="#ff2020"/>
<rect x="438.13" y="194.83" width="3.22" height="3.21" fill="#ff2525"/>
<rect x="441.04" y="194.83" width="3.22" height="3.21" fill="#ff2b2b"/>
<rect x="443.96" y="194.83" width="3.22" height="3.21" fill="#ff4545"/>
<rect x="446.87" y="194.83" width="3.22" height="3.21" fill="#ff3535"/>
<rect x="449.79" y="194.83" width="3.22" height="3.21" fill="#ff4040"/>
<rect x="452.70" y="194.83" width="3.22" height="3.21" fill="#ff4a4a"/>
<rect x="455.62" y="194.83" width="3.22" height="3.21" fill="#ff5555"/>
<rect x="458.54" y="194.83" width="3.22" height="3.21" fill="#ff6060"/>
<rect x="461.45" y="194.83" width="3.22" height="3.21" fill="#ff6a6a"/>
<rect x="464.37" y="194.83" width="3.22" height="3.21" fill="#ff7a7a"/>
<rect x="467.28" y="194.83" width="3.22" height="3.21" fill="#ff8a8a"/>
<rect x="470.20" y="194.83" width="3.22" height="3.21" fill="#ff9595"/>
<rect x="473.11" y="194.83" width="3.22" height="3.21" fill="#ffa5a5"/>
<rect x="476.03" y="194.83" width="3.22" height="3.21" fill="#ffb5b5"/>
<rect x="478.95" y="194.83" width="3.22" height="3.21" fill="#ffcaca"/>
<rect x="481.86" y="194.83" width="3.22" height="3.21" fill="#ffdada"/>
<rect x="484.78" y="194.83" width="3.22" height="3.21" fill="#ffefef"/>
<rect x="487.69" y="194.83" width="3.22" height="3.21" fill="#ffffff"/>
<rect x="490.61" y="194.83" width="3.22" height="3.21" fill="#fafaff"/>
<rect x="493.52" y="194.83" width="3.22" height="3.21" fill="#f4f4ff"/>
<rect x="496.44" y="194.83" width="3.22" height="3.21" fill="#efefff"/>
<rect x="499.36" y="194.83" width="3.22" height="3.21" fill="#eaeaff"/>
<rect x="502.27" y="194.83" width="6.13" height="3.21" fill="#e4e4ff"/>
<rect x="508.10" y="194.83" width="3.22" height="3.21" fill="#dfdfff"/>
<rect x="511.02" y="194.83" width="3.22" height="3.21" fill="#dadaff"/>
<rect x="513.93" y="194.83" width="6.13" height="3.21" fill="#d4d4ff"/>
<rect x="519.77" y="194.83" width="9.05" height="3.21" fill="#cfcfff"/>
<rect x="528.51" y="194.83" width="3.22" height="3.21" fill="#cacaff"/>
<rect x="531.43" y="194.83" width="6.13" height="3.21" fill="#c5c5ff"/>
<rect x="537.26" y="194.83" width="3.22" height="3.21" fill="#bfbfff"/>
<rect x="540.18" y="194.83" width="6.13" height="3.21" fill="#babaff"/>
<rect x="546.01" y="194.83" width="6.13" height="3.21" fill="#b5b5ff"/>
<rect x="551.84" y="194.83" width="3.22" height="3.21" fill="#afafff"/>
<rect x="554.75" y="194.83" width="3.22" height="3.21" fill="#aaaaff"/>
<rect x="557.67" y="194.83" width="6.13" height="3.21" fill="#a5a5ff"/>
<rect x="563.50" y="194.83" width="3.22" height="3.21" fill="#9f9fff"/>
<rect x="566.42" y="194.83" width="6.13" height="3.21" fill="#9a9aff"/>
<rect x="572.25" y="194.83" width="3.22" height="3.21" fill="#9595ff"/>
<rect x="575.16" y="194.83" width="3.22" height="3.21" fill="#8f8fff"/>
<rect x="578.08" y="194.83" width="6.13" height="3.21" fill="#8a8aff"/>
<rect x="583.91" y="194.83" width="3.22" height="3.21" fill="#8585ff"/>
<rect x="586.83" y="194.83" width="3.22" height="3.21" fill="#8080ff"/>
<rect x="589.74" y="194.83" width="6.13" height="3.21" fill="#7a7aff"/>
<rect x="595.57" y="194.83" width="3.22" height="3.21" fill="#7575ff"/>
<rect x="598.49" y="194.83" width="3.22" height="3.21" fill="#7070ff"/>
<rect x="601.41" y="194.83" width="3.22" height="3.21" fill="#6a6aff"/>
<rect x="604.32" y="194.83" width="9.05" height="3.21" fill="#6565ff"/>
<rect x="414.80" y="191.91" width="3.22" height="3.21" fill="#ff2525"/>
<rect x="417.72" y="191.91" width="11.96" height="3.21" fill="#ff1515"/>
<rect x="429.38" y="191.91" width="3.22" height="3.21" fill="#ff1b1b"/>
<rect x="432.29" y="191.91" width="3.22" height="3.21" fill="#ff2020"/>
<rect x="435.21" y="191.91" width="3.22" height="3.21" fill="#ff2525"/>
<rect x="438.13" y="191.91" width="6.13" height="3.21" fill="#ff2b2b"/>
<rect x="443.96" y="191.91" width="3.22" height="3.21" fill="#ff3030"/>
<rect x="446.87" y="191.91" width="3.22" height="3.21" fill="#ff3a3a"/>
<rect x="449.79" y="191.91" width="3.22" height="3.21" fill="#ff4a4a"/>
<rect x="452.70" y="191.91" width="3.22" height="3.21" fill="#ff5555"/>
<rect x="455.62" y="191.91" width="3.22" height="3.21" fill="#ff6060"/>
<rect x="458.54" y="191.91" width="3.22" height="3.21" fill="#ff6a6a"/>
<rect x="461.45" y="191.91" width="3.22" height="3.21" fill="#ff7575"/>
<rect x="464.37" y="191.91" width="3.22" height="3.21" fill="#ff8585"/>
<rect x="467.28" y="191.91" width="3.22" height="3.21" fill="#ff9595"/>
<rect x="470.20" y="191.91" width="3.22" height="3.21" fill="#ff9f9f"/>
<rect x="473.11" y="191.91" width="3.22" height="3.21" fill="#ffafaf"/>
<rect x="476.03" y="191.91" width="3.22" height="3.21" fill="#ffc5c5"/>
<rect x="478.95" y="191.91" width="3.22" height="3.21" fill="#ffdada"/>
<rect x="481.86" y="191.91" width="3.22" height="3.21" fill="#ffeaea"/>
<rect x="484.78" y="191.91" width="3.22" height="3.21" fill="#ffffff"/>
<rect x="487.69" y="191.91" width="3.22" height="3.21" fill="#fafaff"/>
<rect x="490.61" y="191.91" width="3.22" height="3.21" fill="#f4f4ff"/>
<rect x="493.52" y="191.91" width="6.13" height="3.21" fill="#efefff"/>
<rect x="499.36" y="191.91" width="3.22" height="3.21" fill="#eaeaff"/>
<rect x="502.27" y="191.91" width="6.13" height="3.21" fill="#e4e4ff"/>
<rect x="508.10" y="191.91" width="3.22" height="3.21" fill="#dfdfff"/>
<rect x="511.02" y="191.91" width="3.22" height="3.21" fill="#dadaff"/>
<rect x="513.93" y="191.91" width="6.13" height="3.21" fill="#d4d4ff"/>
<rect x="519.77" y="191.91" width="9.05" height="3.21" fill="#cfcfff"/>
<rect x="528.51" y="191.91" width="3.22" height="3.21" fill="#cacaff"/>
<rect x="531.43" y="191.91" width="6.13" height="3.21" fill="#c5c5ff"/>
<rect x="537.26" y="191.91" width="3.22" height="3.21" fill="#bfbfff"/>
<rect x="540.18" y="191.91" width="6.13" height="3.21" fill="#babaff"/>
<rect x="546.01" y="191.91" width="3.22" height="3.21" fill="#b5b5ff"/>
<rect x="548.92" y="191.91" width="3.22" height="3.21" fill="#afafff"/>
<rect x="551.84" y="191.91" width="3.22" height="3.21" fill="#aaaaff"/>
<rect x="554.75" y="191.91" width="6.13" height="3.21" fill="#a5a5ff"/>
<rect x="560.59" y="191.91" width="3.22" height="3.21" fill="#9f9fff"/>
<rect x="563.50" y="191.91" width="3.22" height="3.21" fill="#9a9aff"/>
<rect x="566.42" y="191.91" width="6.13" height="3.21" fill="#9595ff"/>
<rect x="572.25" y="191.91" width="3.22" height="3.21" fill="#8f8fff"/>
<rect x="575.16" y="191.91" width="6.13" height="3.21" fill="#8a8aff"/>
<rect x="581.00" y="191.91" width="3.22" height="3.21" fill="#8585ff"/>
<rect x="583.91" y="191.91" width="3.22" height="3.21" fill="#8080ff"/>
<rect x="586.83" y="191.91" width="6.13" height="3.21" fill="#7a7aff"/>
<rect x="592.66" y="191.91" width="3.22" height="3.21" fill="#7575ff"/>
<rect x="595.57" y="191.91" width="3.22" height="3.21" fill="#7070ff"/>
<rect x="598.49" y="191.91" width="3.22" height="3.21" fill="#6a6aff"/>
<rect x="601.41" y="191.91" width="9.05" height="3.21" fill="#6565ff"/>
<rect x="414.80" y="189.00" width="3.22" height="3.21" fill="#ff3535"/>
<rect x="417.72" y="189.00" width="9.05" height="3.21" fill="#ff1515"/>
<rect x="426.46" y="189.00" width="3.22" height="3.21" fill="#ff1b1b"/>
<rect x="429.38" y="189.00" width="3.22" height="3.21" fill="#ff2020"/>
<rect x="432.29" y="189.00" width="3.22" height="3.21" fill="#ff3030"/>
<rect x="435.21" y="189.00" width="3.22" height="3.21" fill="#ff2525"/>
<rect x="438.13" y="189.00" width="3.22" height="3.21" fill="#ff2b2b"/>
<rect x="441.04" y="189.00" width="3.22" height="3.21" fill="#ff3030"/>
<rect x="443.96" y="189.00" width="3.22" height="3.21" fill="#ff3a3a"/>
<rect x="446.87" y="189.00" width="3.22" height="3.21" fill="#ff4545"/>
<rect x="449.79" y="189.00" width="3.22" height="3.21" fill="#ff5050"/>
<rect x="452.70" y="189.00" width="3.22" height="3.21" fill="#ff5a5a"/>
<rect x="455.62" y="189.00" width="3.22" height="3.21" fill="#ff6565"/>
<rect x="458.54" y="189.00" width="3.22" height="3.21" fill="#ff7070"/>
<rect x="461.45" y="189.00" width="3.22" height="3.21" fill="#ff8080"/>
<rect x="464.37" y="189.00" width="3.22" height="3.21" fill="#ff8f8f"/>
<rect x="467.28" y="189.00" width="3.22" height="3.21" fill="#ff9f9f"/>
<rect x="470.20" y="189.00" width="3.22" height="3.21" fill="#ffafaf"/>
<rect x="473.11" y="189.00" width="3.22" height="3.21" fill="#ffbfbf"/>
<rect x="476.03" y="189.00" width="3.22" height="3.21" fill="#ffd4d4"/>
<rect x="478.95" y="189.00" width="3.22" height="3.21" fill="#ffeaea"/>
<rect x="481.86" y="189.00" width="3.22" height="3.21" fill="#fffafa"/>
<rect x="484.78" y="189.00" width="6.13" height="3.21" fill="#fafaff"/>
<rect x="490.61" y="189.00" width="3.22" height="3.21" fill="#f4f4ff"/>
<rect x="493.52" y="189.00" width="3.22" height="3.21" fill="#efefff"/>
<rect x="496.44" y="189.00" width="6.13" height="3.21" fill="#eaeaff"/>
<rect x="502.27" y="189.00" width="3.22" height="3.21" fill="#e4e4ff"/>
<rect x="505.19" y="189.00" width="6.13" height="3.21" fill="#dfdfff"/>
<rect x="511.02" y="189.00" width="3.22" height="3.21" fill="#dadaff"/>
<rect x="513.93" y="189.00" width="6.13" height="3.21" fill="#d4d4ff"/>
<rect x="519.77" y="189.00" width="9.05" height="3.21" fill="#cfcfff"/>
<rect x="528.51" y="189.00" width="3.22" height="3.21" fill="#cacaff"/>
<rect x="531.43" y="189.00" width="3.22" height="3.21" fill="#c5c5ff"/>
<rect x="534.34" y="189.00" width="6.13" height="3.21" fill="#bfbfff"/>
<rect x="540.18" y="189.00" width="3.22" height="3.21" fill="#babaff"/>
<rect x="543.09" y="189.00" width="3.22" height="3.21" fill="#b5b5ff"/>
<rect x="546.01" y="189.00" width="3.22" height="3.21" fill="#afafff"/>
<rect x="548.92" y="189.00" width="3.22" height="3.21" fill="#aaaaff"/>
<rect x="551.84" y="189.00" width="3.22" height="3.21" fill="#a5a5ff"/>
<rect x="554.75" y="189.00" width="6.13" height="3.21" fill="#9f9fff"/>
<rect x="560.59" y="189.00" width="3.22" height="3.21" fill="#9a9aff"/>
<rect x="563.50" y="189.00" width="6.13" height="3.21" fill="#9595ff"/>
<rect x="569.33" y="189.00" width="3.22" height="3.21" fill="#8f8fff"/>
<rect x="572.25" y="189.00" width="6.13" height="3.21" fill="#8a8aff"/>
<rect x="578.08" y="189.00" width="3.22" height="3.21" fill="#8585ff"/>
<rect x="581.00" y="189.00" width="3.22" height="3.21" fill="#8080ff"/>
<rect x="583.91" y="189.00" width="6.13" height="3.21" fill="#7a7aff"/>
<rect x="589.74" y="189.00" width="3.22" height="3.21" fill="#7575ff"/>
<rect x="592.66" y="189.00" width="3.22" height="3.21" fill="#7070ff"/>
<rect x="595.57" y="189.00" width="3.22" height="3.21" fill="#6a6aff"/>
<rect x="598.49" y="189.00" width="9.05" height="3.21" fill="#6565ff"/>
<rect x="414.80" y="186.09" width="9.05" height="3.21" fill="#ff1515"/>
<rect x="423.55" y="186.09" width="6.13" height="3.21" fill="#ff1b1b"/>
<rect x="429.38" y="186.09" width="3.22" height="3.21" fill="#ff2020"/>
<rect x="432.29" y="186.09" width="3.22" height="3.21" fill="#ff2525"/>
<rect x="435.21" y="186.09" width="6.13" height="3.21" fill="#ff2b2b"/>
<rect x="441.04" y="186.09" width="3.22" height="3.21" fill="#ff3535"/>
<rect x="443.96" y="186.09" width="3.22" height="3.21" fill="#ff4040"/>
<rect x="446.87" y="186.09" width="3.22" height="3.21" fill="#ff5050"/>
<rect x="449.79" y="186.09" width="3.22" height="3.21" fill="#ff5a5a"/>
<rect x="452.70" y="186.09" width="3.22" height="3.21" fill="#ff6565"/>
<rect x="455.62" y="186.09" width="3.22" height="3.21" fill="#ff7070"/>
<rect x="458.54" y="186.09" width="3.22" height="3.21" fill="#ff8080"/>
<rect x="461.45" y="186.09" width="3.22" height="3.21" fill="#ff8a8a"/>
<rect x="464.37" y="186.09" width="3.22" height="3.21" fill="#ff9a9a"/>
<rect x="467.28" y="186.09" width="3.22" height="3.21" fill="#ffaaaa"/>
<rect x="470.20" y="186.09" width="3.22" height="3.21" fill="#ffbaba"/>
<rect x="473.11" y="186.09" width="3.22" height="3.21" fill="#ffcfcf"/>
<rect x="476.03" y="186.09" width="3.22" height="3.21" fill="#ffe4e4"/>
<rect x="478.95" y="186.09" width="3.22" height="3.21" fill="#fff4f4"/>
<rect x="481.86" y="186.09" width="3.22" height="3.21" fill="#ffffff"/>
<rect x="484.78" y="186.09" width="3.22" height="3.21" fill="#fafaff"/>
<rect x="487.69" y="186.09" width="3.22" height="3.21" fill="#f4f4ff"/>
<rect x="490.61" y="186.09" width="6.13" height="3.21" fill="#efefff"/>
<rect x="496.44" y="186.09" width="3.22" height="3.21" fill="#eaeaff"/>
<rect x="499.36" y="186.09" width="6.13" height="3.21" fill="#e4e4ff"/>
<rect x="505.19" y="186.09" width="3.22" height="3.21" fill="#dfdfff"/>
<rect x="508.10" y="186.09" width="6.13" height="3.21" fill="#dadaff"/>
<rect x="513.93" y="186.09" width="6.13" height="3.21" fill="#d4d4ff"/>
<rect x="519.77" y="186.09" width="6.13" height="3.21" fill="#cfcfff"/>
<rect x="525.60" y="186.09" width="6.13" height="3.21" fill="#cacaff"/>
<rect x="531.43" y="186.09" width="3.22" height="3.21" fill="#c5c5ff"/>
<rect x="534.34" y="186.09" width="3.22" height="3.21" fill="#bfbfff"/>
<rect x="537.26" y="186.09" width="3.22" height="3.21" fill="#babaff"/>
<rect x="540.18" y="186.09" width="3.22" height="3.21" fill="#b5b5ff"/>
<rect x="543.09" y="186.09" width="3.22" height="3.21" fill="#afafff"/>
<rect x="546.01" y="186.09" width="3.22" height="3.21" fill="#aaaaff"/>
<rect x="548.92" y="186.09" width="3.22" height="3.21" fill="#a5a5ff"/>
<rect x="551.84" y="186.09" width="6.13" height="3.21" fill="#9f9fff"/>
<rect x="557.67" y="186.09" width="3.22" height="3.21" fill="#9a9aff"/>
<rect x="560.59" y="186.09" width="6.13" height="3.21" fill="#9595ff"/>
<rect x="566.42" y="186.09" width="3.22" height="3.21" fill="#8f8fff"/>
<rect x="569.33" y="186.09" width="6.13" height="3.21" fill="#8a8aff"/>
<rect x="575.16" y="186.09" width="3.22" height="3.21" fill="#8585ff"/>
<rect x="578.08" y="186.09" width="3.22" height="3.21" fill="#8080ff"/>
<rect x="581.00" y="186.09" width="6.13" height="3.21" fill="#7a7aff"/>
<rect x="586.83" y="186.09" width="3.22" height="3.21" fill="#7575ff"/>
<rect x="589.74" y="186.09" width="3.22" height="3.21" fill="#7070ff"/>
<rect x="592.66" y="186.09" width="3.22" height="3.21" fill="#6a6aff"/>
<rect x="595.57" y="186.09" width="9.05" height="3.21" fill="#6565ff"/>
<rect x="414.80" y="183.17" width="9.05" height="3.21" fill="#ff1515"/>
<rect x="423.55" y="183.17" width="3.22" height="3.21" fill="#ff1b1b"/>
<rect x="426.46" y="183.17" width="3.22" height="3.21" fill="#ff2020"/>
<rect x="429.38" y="183.17" width="3.22" height="3.21" fill="#ff2525"/>
<rect x="432.29" y="183.17" width="6.13" height="3.21" fill="#ff2b2b"/>
<rect x="438.13" y="183.17" width="3.22" height="3.21" fill="#ff3535"/>
<rect x="441.04" y="183.17" width="3.22" height="3.21" fill="#ff4040"/>
<rect x="443.96" y="183.17" width="3.22" height="3.21" fill="#ff4a4a"/>
<rect x="446.87" y="183.17" width="3.22" height="3.21" fill="#ff5555"/>
<rect x="449.79" y="183.17" width="3.22" height="3.21" fill="#ff6060"/>
<rect x="452.70" y="183.17" width="3.22" height="3.21" fill="#ff6a6a"/>
<rect x="455.62" y="183.17" width="3.22" height="3.21" fill="#ff7a7a"/>
<rect x="458.54" y="183.17" width="3.22" height="3.21" fill="#ff8a8a"/>
<rect x="461.45" y="183.17" width="3.22" height="3.21" fill="#ff9595"/>
<rect x="464.37" y="183.17" width="3.22" height="3.21" fill="#ffa5a5"/>
<rect x="467.28" y="183.17" width="3.22" height="3.21" fill="#ffb5b5"/>
<rect x="470.20" y="183.17" width="3.22" height="3.21" fill="#ffcaca"/>
<rect x="473.11" y="183.17" width="3.22" height="3.21" fill="#ffdfdf"/>
<rect x="476.03" y="183.17" width="3.22" height="3.21" fill="#fff4f4"/>
<rect x="478.95" y="183.17" width="3.22" height="3.21" fill="#ffffff"/>
<rect x="481.86" y="183.17" width="3.22" height="3.21" fill="#fafaff"/>
<rect x="484.78" y="183.17" width="6.13" height="3.21" fill="#f4f4ff"/>
<rect x="490.61" y="183.17" width="3.22" height="3.21" fill="#efefff"/>
<rect x="493.52" y="183.17" width="6.13" height="3.21" fill="#eaeaff"/>
<rect x="499.36" y="183.17" width="6.13" height="3.21" fill="#e4e4ff"/>
<rect x="505.19" y="183.17" width="3.22" height="3.21" fill="#dfdfff"/>
<rect x="508.10" y="183.17" width="6.13" height="3.21" fill="#dadaff"/>
<rect x="513.93" y="183.17" width="6.13" height="3.21" fill="#d4d4ff"/>
<rect x="519.77" y="183.17" width="6.13" height="3.21" fill="#cfcfff"/>
<rect x="525.60" y="183.17" width="3.22" height="3.21" fill="#cacaff"/>
<rect x="528.51" y="183.17" width="3.22" height="3.21" fill="#c5c5ff"/>
<rect x="531.43" y="183.17" width="3.22" height="3.21" fill="#bfbfff"/>
<rect x="534.34" y="183.17" width="3.22" height="3.21" fill="#babaff"/>
<rect x="537.26" y="183.17" width="3.22" height="3.21" fill="#b5b5ff"/>
<rect x="540.18" y="183.17" width="3.22" height="3.21" fill="#afafff"/>
<rect x="543.09" y="183.17" width="3.22" height="3.21" fill="#aaaaff"/>
<rect x="546.01" y="183.17" width="3.22" height="3.21" fill="#a5a5ff"/>
<rect x="548.92" y="183.17" width="6.13" height="3.21" fill="#9f9fff"/>
<rect x="554.75" y="183.17" width="6.13" height="3.21" fill="#9a9aff"/>
<rect x="560.59" y="183.17" width="3.22" height="3.21" fill="#9595ff"/>
<rect x="563.50" y="183.17" width="3.22" height="3.21" fill="#8f8fff"/>
<rect x="566.42" y="183.17" width="6.13" height="3.21" fill="#8a8aff"/>
<rect x="572.25" y="183.17" width="3.22" height="3.21" fill="#8585ff"/>
<rect x="575.16" y="183.17" width="3.22" height="3.21" fill="#8080ff"/>
<rect x="578.08" y="183.17" width="6.13" height="3.21" fill="#7a7aff"/>
<rect x="583.91" y="183.17" width="3.22" height="3.21" fill="#7575ff"/>
<rect x="586.83" y="183.17" width="3.22" height="3.21" fill="#7070ff"/>
<rect x="589.74" y="183.17" width="6.13" height="3.21" fill="#6a6aff"/>
<rect x="595.57" y="183.17" width="6.13" height="3.21" fill="#6565ff"/>
<rect x="414.80" y="180.26" width="3.22" height="3.21" fill="#ff1515"/>
<rect x="417.72" y="180.26" width="3.22" height="3.21" fill="#ff2020"/>
<rect x="420.63" y="180.26" width="3.22" height="3.21" fill="#ff1b1b"/>
<rect x="423.55" y="180.26" width="3.22" height="3.21" fill="#ff2020"/>
<rect x="426.46" y="180.26" width="6.13" height="3.21" fill="#ff2525"/>
<rect x="432.29" y="180.26" width="3.22" height="3.21" fill="#ff2b2b"/>
<rect x="435.21" y="180.26" width="3.22" height="3.21" fill="#ff3030"/>
<rect x="438.13" y="180.26" width="3.22" height="3.21" fill="#ff3a3a"/>
<rect x="441.04" y="180.26" width="3.22" height="3.21" fill="#ff4a4a"/>
<rect x="443.96" y="180.26" width="3.22" height="3.21" fill="#ff5555"/>
<rect x="446.87" y="180.26" width="3.22" height="3.21" fill="#ff6060"/>
<rect x="449.79" y="180.26" width="3.22" height="3.21" fill="#ff6a6a"/>
<rect x="452.70" y="180.26" width="3.22" height="3.21" fill="#ff7575"/>
<rect x="455.62" y="180.26" width="3.22" height="3.21" fill="#ff8585"/>
<rect x="458.54" y="180.26" width="3.22" height="3.21" fill="#ff9595"/>
<rect x="461.45" y="180.26" width="3.22" height="3.21" fill="#ffa5a5"/>
<rect x="464.37" y="180.26" width="3.22" height="3.21" fill="#ffb5b5"/>
<rect x="467.28" y="180.26" width="3.22" height="3.21" fill="#ffc5c5"/>
<rect x="470.20" y="180.26" width="3.22" height="3.21" fill="#ffdada"/>
<rect x="473.11" y="180.26" width="3.22" height="3.21" fill="#ffefef"/>
<rect x="476.03" y="180.26" width="3.22" height="3.21" fill="#ffffff"/>
<rect x="478.95" y="180.26" width="6.13" height="3.21" fill="#fafaff"/>
<rect x="484.78" y="180.26" width="3.22" height="3.21" fill="#f4f4ff"/>
<rect x="487.69" y="180.26" width="6.13" height="3.21" fill="#efefff"/>
<rect x="493.52" y="180.26" width="6.13" height="3.21" fill="#eaeaff"/>
<rect x="499.36" y="180.26" width="3.22" height="3.21" fill="#e4e4ff"/>
<rect x="502.27" y="180.26" width="6.13" height="3.21" fill="#dfdfff"/>
<rect x="508.10" y="180.26" width="3.22" height="3.21" fill="#dadaff"/>
<rect x="511.02" y="180.26" width="6.13" height="3.21" fill="#d4d4ff"/>
<rect x="516.85" y="180.26" width="6.13" height="3.21" fill="#cfcfff"/>
<rect x="522.68" y="180.26" width="3.22" height="3.21" fill="#cacaff"/>
<rect x="525.60" y="180.26" width="3.22" height="3.21" fill="#c5c5ff"/>
<rect x="528.51" y="180.26" width="3.22" height="3.21" fill="#bfbfff"/>
<rect x="531.43" y="180.26" width="3.22" height="3.21" fill="#babaff"/>
<rect x="534.34" y="180.26" width="3.22" height="3.21" fill="#b5b5ff"/>
<rect x="537.26" y="180.26" width="3.22" height="3.21" fill="#afafff"/>
<rect x="540.18" y="180.26" width="3.22" height="3.21" fill="#aaaaff"/>
<rect x="543.09" y="180.26" width="6.13" height="3.21" fill="#a5a5ff"/>
<rect x="548.92" y="180.26" width="3.22" height="3.21" fill="#9f9fff"/>
<rect x="551.84" y="180.26" width="6.13" height="3.21" fill="#9a9aff"/>
<rect x="557.67" y="180.26" width="3.22" height="3.21" fill="#9595ff"/>
<rect x="560.59" y="180.26" width="6.13" height="3.21" fill="#8f8fff"/>
<rect x="566.42" y="180.26" width="3.22" height="3.21" fill="#8a8aff"/>
<rect x="569.33" y="180.26" width="3.22" height="3.21" fill="#8585ff"/>
<rect x="572.25" y="180.26" width="6.13" height="3.21" fill="#8080ff"/>
<rect x="578.08" y="180.26" width="3.22" height="3.21" fill="#7a7aff"/>
<rect x="581.00" y="180.26" width="3.22" height="3.21" fill="#7575ff"/>
<rect x="583.91" y="180.26" width="6.13" height="3.21" fill="#7070ff"/>
<rect x="589.74" y="180.26" width="3.22" height="3.21" fill="#6a6aff"/>
<rect x="592.66" y="180.26" width="6.13" height="3.21" fill="#6565ff"/>
<rect x="414.80" y="177.34" width="3.22" height="3.21" fill="#ff1515"/>
<rect x="417.72" y="177.34" width="3.22" height="3.21" fill="#ff1b1b"/>
<rect x="420.63" y="177.34" width="3.22" height="3.21" fill="#ff2020"/>
<rect x="423.55" y="177.34" width="3.22" height="3.21" fill="#ff3030"/>
<rect x="426.46" y="177.34" width="3.22" height="3.21" fill="#ff2525"/>
<rect x="429.38" y="177.34" width="3.22" height="3.21" fill="#ff2b2b"/>
<rect x="432.29" y="177.34" width="3.22" height="3.21" fill="#ff3030"/>
<rect x="435.21" y="177.34" width="3.22" height="3.21" fill="#ff3a3a"/>
<rect x="438.13" y="177.34" width="3.22" height="3.21" fill="#ff4545"/>
<rect x="441.04" y="177.34" width="3.22" height="3.21" fill="#ff5050"/>
<rect x="443.96" y="177.34" width="3.22" height="3.21" fill="#ff5a5a"/>
<rect x="446.87" y="177.34" width="3.22" height="3.21" fill="#ff6565"/>
<rect x="449.79" y="177.34" width="3.22" height="3.21" fill="#ff7575"/>
<rect x="452.70" y="177.34" width="3.22" height="3.21" fill="#ff8585"/>
<rect x="455.62" y="177.34" width="3.22" height="3.21" fill="#ff8f8f"/>
<rect x="458.54" y="177.34" width="3.22" height="3.21" fill="#ff9f9f"/>
<rect x="461.45" y="177.34" width="3.22" height="3.21" fill="#ffafaf"/>
<rect x="464.37" y="177.34" width="3.22" height="3.21" fill="#ffc5c5"/>
<rect x="467.28" y="177.34" width="3.22" height="3.21" fill="#ffdada"/>
<rect x="470.20" y="177.34" width="3.22" height="3.21" fill="#ffeaea"/>
<rect x="473.11" y="177.34" width="3.22" height="3.21" fill="#ffffff"/>
<rect x="476.03" y="177.34" width="6.13" height="3.21" fill="#fafaff"/>
<rect x="481.86" y="177.34" width="6.13" height="3.21" fill="#f4f4ff"/>
<rect x="487.69" y="177.34" width="3.22" height="3.21" fill="#efefff"/>
<rect x="490.61" y="177.34" width="6.13" height="3.21" fill="#eaeaff"/>
<rect x="496.44" y="177.34" width="6.13" height="3.21" fill="#e4e4ff"/>
<rect x="502.27" y="177.34" width="3.22" height="3.21" fill="#dfdfff"/>
<rect x="505.19" y="177.34" width="3.22" height="3.21" fill="#dadaff"/>
<rect x="508.10" y="177.34" width="6.13" height="3.21" fill="#d4d4ff"/>
<rect x="513.93" y="177.34" width="6.13" height="3.21" fill="#cfcfff"/>
<rect x="519.77" y="177.34" width="3.22" height="3.21" fill="#cacaff"/>
<rect x="522.68" y="177.34" width="3.22" height="3.21" fill="#c5c5ff"/>
<rect x="525.60" y="177.34" width="3.22" height="3.21" fill="#bfbfff"/>
<rect x="528.51" y="177.34" width="3.22" height="3.21" fill="#babaff"/>
<rect x="531.43" y="177.34" width="6.13" height="3.21" fill="#b5b5ff"/>
<rect x="537.26" y="177.34" width="3.22" height="3.21" fill="#afafff"/>
<rect x="540.18" y="177.34" width="3.22" height="3.21" fill="#aaaaff"/>
<rect x="543.09" y="177.34" width="3.22" height="3.21" fill="#a5a5ff"/>
<rect x="546.01" y="177.34" width="6.13" height="3.21" fill="#9f9fff"/>
<rect x="551.84" y="177.34" width="3.22" height="3.21" fill="#9a9aff"/>
<rect x="554.75" y="177.34" width="6.13" height="3.21" fill="#9595ff"/>
<rect x="560.59" y="177.34" width="3.22" height="3.21" fill="#8f8fff"/>
<rect x="563.50" y="177.34" width="3.22" height="3.21" fill="#8a8aff"/>
<rect x="566.42" y="177.34" width="6.13" height="3.21" fill="#8585ff"/>
<rect x="572.25" y="177.34" width="3.22" height="3.21" fill="#8080ff"/>
<rect x="575.16" y="177.34" width="6.13" height="3.21" fill="#7a7aff"/>
<rect x="581.00" y="177.34" width="3.22" height="3.21" fill="#7575ff"/>
<rect x="583.91" y="177.34" width="3.22" height="3.21" fill="#7070ff"/>
<rect x="586.83" y="177.34" width="6.13" height="3.21" fill="#6a6aff"/>
<rect x="592.66" y="177.34" width="3.22" height="3.21" fill="#6565ff"/>
<rect x="414.80" y="174.43" width="6.13" height="3.21" fill="#ff1b1b"/>
<rect x="420.63" y="174.43" width="3.22" height="3.21" fill="#ff2020"/>
<rect x="423.55" y="174.43" width="3.22" height="3.21" fill="#ff3535"/>
<rect x="426.46" y="174.43" width="3.22" height="3.21" fill="#ff2b2b"/>
<rect x="429.38" y="174.43" width="3.22" height="3.21" fill="#ff3a3a"/>
<rect x="432.29" y="174.43" width="3.22" height="3.21" fill="#ff3535"/>
<rect x="435.21" y="174.43" width="3.22" height="3.21" fill="#ff4545"/>
<rect x="438.13" y="174.43" width="3.22" height="3.21" fill="#ff5050"/>
<rect x="441.04" y="174.43" width="3.22" height="3.21" fill="#ff5a5a"/>
<rect x="443.96" y="174.43" width="3.22" height="3.21" fill="#ff6565"/>
<rect x="446.87" y="174.43" width="3.22" height="3.21" fill="#ff7070"/>
<rect x="449.79" y="174.43" width="3.22" height="3.21" fill="#ff8080"/>
<rect x="452.70" y="174.43" width="3.22" height="3.21" fill="#ff8f8f"/>
<rect x="455.62" y="174.43" width="3.22" height="3.21" fill="#ff9f9f"/>
<rect x="458.54" y="174.43" width="3.22" height="3.21" fill="#ffaaaa"/>
<rect x="461.45" y="174.43" width="3.22" height="3.21" fill="#ffbfbf"/>
<rect x="464.37" y="174.43" width="3.22" height="3.21" fill="#ffd4d4"/>
<rect x="467.28" y="174.43" width="3.22" height="3.21" fill="#ffeaea"/>
<rect x="470.20" y="174.43" width="3.22" height="3.21" fill="#fffafa"/>
<rect x="473.11" y="174.43" width="3.22" height="3.21" fill="#ffffff"/>
<rect x="476.03" y="174.43" width="3.22" height="3.21" fill="#fafaff"/>
<rect x="478.95" y="174.43" width="6.13" height="3.21" fill="#f4f4ff"/>
<rect x="484.78" y="174.43" width="6.13" height="3.21" fill="#efefff"/>
<rect x="490.61" y="174.43" width="6.13" height="3.21" fill="#eaeaff"/>
<rect x="496.44" y="174.43" width="3.22" height="3.21" fill="#e4e4ff"/>
<rect x="499.36" y="174.43" width="3.22" height="3.21" fill="#dfdfff"/>
<rect x="502.27" y="174.43" width="6.13" height="3.21" fill="#dadaff"/>
<rect x="508.10" y="174.43" width="3.22" height="3.21" fill="#d4d4ff"/>
<rect x="511.02" y="174.43" width="6.13" height="3.21" fill="#cfcfff"/>
<rect x="516.85" y="174.43" width="3.22" height="3.21" fill="#cacaff"/>
<rect x="519.77" y="174.43" width="3.22" height="3.21" fill="#c5c5ff"/>
<rect x="522.68" y="174.43" width="6.13" height="3.21" fill="#bfbfff"/>
<rect x="528.51" y="174.43" width="3.22" height="3.21" fill="#babaff"/>
<rect x="531.43" y="174.43" width="3.22" height="3.21" fill="#b5b5ff"/>
<rect x="534.34" y="174.43" width="3.22" height="3.21" fill="#afafff"/>
<rect x="537.26" y="174.43" width="3.22" height="3.21" fill="#aaaaff"/>
<rect x="540.18" y="174.43" width="6.13" height="3.21" fill="#a5a5ff"/>
<rect x="546.01" y="174.43" width="3.22" height="3.21" fill="#9f9fff"/>
<rect x="548.92" y="174.43" width="6.13" height="3.21" fill="#9a9aff"/>
<rect x="554.75" y="174.43" width="3.22" height="3.21" fill="#9595ff"/>
<rect x="557.67" y="174.43" width="6.13" height="3.21" fill="#8f8fff"/>
<rect x="563.50" y="174.43" width="3.22" height="3.21" fill="#8a8aff"/>
<rect x="566.42" y="174.43" width="3.22" height="3.21" fill="#8585ff"/>
<rect x="569.33" y="174.43" width="6.13" height="3.21" fill="#8080ff"/>
<rect x="575.16" y="174.43" width="3.22" height="3.21" fill="#7a7aff"/>
<rect x="578.08" y="174.43" width="6.13" height="3.21" fill="#7575ff"/>
<rect x="583.91" y="174.43" width="3.22" height="3.21" fill="#7070ff"/>
<rect x="586.83" y="174.43" width="6.13" height="3.21" fill="#6a6aff"/>
<rect x="414.80" y="171.51" width="3.22" height="3.21" fill="#ff1b1b"/>
<rect x="417.72" y="171.51" width="3.22" height="3.21" fill="#ff2020"/>
<rect x="420.63" y="171.51" width="3.22" height="3.21" fill="#ff3535"/>
<rect x="423.55" y="171.51" width="6.13" height="3.21" fill="#ff2b2b"/>
<rect x="429.38" y="171.51" width="3.22" height="3.21" fill="#ff3535"/>
<rect x="432.29" y="171.51" width="3.22" height="3.21" fill="#ff4040"/>
<rect x="435.21" y="171.51" width="3.22" height="3.21" fill="#ff4a4a"/>
<rect x="438.13" y="171.51" width="3.22" height="3.21" fill="#ff5555"/>
<rect x="441.04" y="171.51" width="3.22" height="3.21" fill="#ff6565"/>
<rect x="443.96" y="171.51" width="3.22" height="3.21" fill="#ff7070"/>
<rect x="446.87" y="171.51" width="3.22" height="3.21" fill="#ff7a7a"/>
<rect x="449.79" y="171.51" width="3.22" height="3.21" fill="#ff8a8a"/>
<rect x="452.70" y="171.51" width="3.22" height="3.21" fill="#ff9a9a"/>
<rect x="455.62" y="171.51" width="3.22" height="3.21" fill="#ffaaaa"/>
<rect x="458.54" y="171.51" width="3.22" height="3.21" fill="#ffbaba"/>
<rect x="461.45" y="171.51" width="3.22" height="3.21" fill="#ffcfcf"/>
<rect x="464.37" y="171.51" width="3.22" height="3.21" fill="#ffe4e4"/>
<rect x="467.28" y="171.51" width="3.22" height="3.21" fill="#fff4f4"/>
<rect x="470.20" y="171.51" width="3.22" height="3.21" fill="#ffffff"/>
<rect x="473.11" y="171.51" width="6.13" height="3.21" fill="#fafaff"/>
<rect x="478.95" y="171.51" width="6.13" height="3.21" fill="#f4f4ff"/>
<rect x="484.78" y="171.51" width="3.22" height="3.21" fill="#efefff"/>
<rect x="487.69" y="171.51" width="6.13" height="3.21" fill="#eaeaff"/>
<rect x="493.52" y="171.51" width="3.22" height="3.21" fill="#e4e4ff"/>
<rect x="496.44" y="171.51" width="6.13" height="3.21" fill="#dfdfff"/>
<rect x="502.27" y="171.51" width="3.22" height="3.21" fill="#dadaff"/>
<rect x="505.19" y="171.51" width="3.22" height="3.21" fill="#d4d4ff"/>
<rect x="508.10" y="171.51" width="6.13" height="3.21" fill="#cfcfff"/>
<rect x="513.93" y="171.51" width="6.13" height="3.21" fill="#cacaff"/>
<rect x="519.77" y="171.51" width="3.22" height="3.21" fill="#c5c5ff"/>
<rect x="522.68" y="171.51" width="3.22" height="3.21" fill="#bfbfff"/>
<rect x="525.60" y="171.51" width="6.13" height="3.21" fill="#babaff"/>
<rect x="531.43" y="171.51" width="3.22" height="3.21" fill="#b5b5ff"/>
<rect x="534.34" y="171.51" width="3.22" height="3.21" fill="#afafff"/>
<rect x="537.26" y="171.51" width="3.22" height="3.21" fill="#aaaaff"/>
<rect x="540.18" y="171.51" width="3.22" height="3.21" fill="#a5a5ff"/>
<rect x="543.09" y="171.51" width="6.13" height="3.21" fill="#9f9fff"/>
<rect x="548.92" y="171.51" width="3.22" height="3.21" fill="#9a9aff"/>
<rect x="551.84" y="171.51" width="6.13" height="3.21" fill="#9595ff"/>
<rect x="557.67" y="171.51" width="3.22" height="3.21" fill="#8f8fff"/>
<rect x="560.59" y="171.51" width="6.13" height="3.21" fill="#8a8aff"/>
<rect x="566.42" y="171.51" width="3.22" height="3.21" fill="#8585ff"/>
<rect x="569.33" y="171.51" width="6.13" height="3.21" fill="#8080ff"/>
<rect x="575.16" y="171.51" width="3.22" height="3.21" fill="#7a7aff"/>
<rect x="578.08" y="171.51" width="6.13" height="3.21" fill="#7575ff"/>
<rect x="583.91" y="171.51" width="3.22" height="3.21" fill="#7070ff"/>
<rect x="586.83" y="171.51" width="3.22" height="3.21" fill="#6a6aff"/>
<rect x="414.80" y="168.60" width="3.22" height="3.21" fill="#ff2020"/>
<rect x="417.72" y="168.60" width="6.13" height="3.21" fill="#ff2525"/>
<rect x="423.55" y="168.60" width="3.22" height="3.21" fill="#ff3535"/>
<rect x="426.46" y="168.60" width="3.22" height="3.21" fill="#ff5555"/>
<rect x="429.38" y="168.60" width="3.22" height="3.21" fill="#ff4040"/>
<rect x="432.29" y="168.60" width="3.22" height="3.21" fill="#ff4a4a"/>
<rect x="435.21" y="168.60" width="3.22" height="3.21" fill="#ff5555"/>
<rect x="438.13" y="168.60" width="3.22" height="3.21" fill="#ff6060"/>
<rect x="441.04" y="168.60" width="3.22" height="3.21" fill="#ff6a6a"/>
<rect x="443.96" y="168.60" width="3.22" height="3.21" fill="#ff7a7a"/>
<rect x="446.87" y="168.60" width="3.22" height="3.21" fill="#ff8a8a"/>
<rect x="449.79" y="168.60" width="3.22" height="3.21" fill="#ff9595"/>
<rect x="452.70" y="168.60" width="3.22" height="3.21" fill="#ffa5a5"/>
<rect x="455.62" y="168.60" width="3.22" height="3.21" fill="#ffb5b5"/>
<rect x="458.54" y="168.60" width="3.22" height="3.21" fill="#ffcaca"/>
<rect x="461.45" y="168.60" width="3.22" height="3.21" fill="#ffdada"/>
<rect x="464.37" y="168.60" width="3.22" height="3.21" fill="#ffefef"/>
<rect x="467.28" y="168.60" width="3.22" height="3.21" fill="#ffffff"/>
<rect x="470.20" y="168.60" width="6.13" height="3.21" fill="#fafaff"/>
<rect x="476.03" y="168.60" width="6.13" height="3.21" fill="#f4f4ff"/>
<rect x="481.86" y="168.60" width="6.13" height="3.21" fill="#efefff"/>
<rect x="487.69" y="168.60" width="3.22" height="3.21" fill="#eaeaff"/>
<rect x="490.61" y="168.60" width="6.13" height="3.21" fill="#e4e4ff"/>
<rect x="496.44" y="168.60" width="3.22" height="3.21" fill="#dfdfff"/>
<rect x="499.36" y="168.60" width="3.22" height="3.21" fill="#dadaff"/>
<rect x="502.27" y="168.60" width="6.13" height="3.21" fill="#d4d4ff"/>
<rect x="508.10" y="168.60" width="6.13" height="3.21" fill="#cfcfff"/>
<rect x="513.93" y="168.60" width="6.13" height="3.21" fill="#cacaff"/>
<rect x="519.77" y="168.60" width="3.22" height="3.21" fill="#c5c5ff"/>
<rect x="522.68" y="168.60" width="3.22" height="3.21" fill="#bfbfff"/>
<rect x="525.60" y="168.60" width="3.22" height="3.21" fill="#babaff"/>
<rect x="528.51" y="168.60" width="3.22" height="3.21" fill="#b5b5ff"/>
<rect x="531.43" y="168.60" width="6.13" height="3.21" fill="#afafff"/>
<rect x="537.26" y="168.60" width="3.22" height="3.21" fill="#aaaaff"/>
<rect x="540.18" y="168.60" width="3.22" height="3.21" fill="#a5a5ff"/>
<rect x="543.09" y="168.60" width="3.22" height="3.21" fill="#9f9fff"/>
<rect x="546.01" y="168.60" width="6.13" height="3.21" fill="#9a9aff"/>
<rect x="551.84" y="168.60" width="6.13" height="3.21" fill="#9595ff"/>
<rect x="557.67" y="168.60" width="3.22" height="3.21" fill="#8f8fff"/>
<rect x="560.59" y="168.60" width="6.13" height="3.21" fill="#8a8aff"/>
<rect x="566.42" y="168.60" width="3.22" height="3.21" fill="#8585ff"/>
<rect x="569.33" y="168.60" width="6.13" height="3.21" fill="#8080ff"/>
<rect x="575.16" y="168.60" width="3.22" height="3.21" fill="#7a7aff"/>
<rect x="578.08" y="168.60" width="6.13" height="3.21" fill="#7575ff"/>
<rect x="583.91" y="168.60" width="3.22" height="3.21" fill="#7070ff"/>
<rect x="414.80" y="165.69" width="3.22" height="3.21" fill="#ff2020"/>
<rect x="417.72" y="165.69" width="3.22" height="3.21" fill="#ff2525"/>
<rect x="420.63" y="165.69" width="3.22" height="3.21" fill="#ff4545"/>
<rect x="423.55" y="165.69" width="3.22" height="3.21" fill="#ff3030"/>
<rect x="426.46" y="165.69" width="3.22" height="3.21" fill="#ff3a3a"/>
<rect x="429.38" y="165.69" width="3.22" height="3.21" fill="#ff4a4a"/>
<rect x="432.29" y="165.69" width="3.22" height="3.21" fill="#ff5555"/>
<rect x="435.21" y="165.69" width="3.22" height="3.21" fill="#ff6060"/>
<rect x="438.13" y="165.69" width="3.22" height="3.21" fill="#ff6a6a"/>
<rect x="441.04" y="165.69" width="3.22" height="3.21" fill="#ff7575"/>
<rect x="443.96" y="165.69" width="3.22" height="3.21" fill="#ff8585"/>
<rect x="446.87" y="165.69" width="3.22" height="3.21" fill="#ff9595"/>
<rect x="449.79" y="165.69" width="3.22" height="3.21" fill="#ff9f9f"/>
<rect x="452.70" y="165.69" width="3.22" height="3.21" fill="#ffafaf"/>
<rect x="455.62" y="165.69" width="3.22" height="3.21" fill="#ffc5c5"/>
<rect x="458.54" y="165.69" width="3.22" height="3.21" fill="#ffd4d4"/>
<rect x="461.45" y="165.69" width="3.22" height="3.21" fill="#ffeaea"/>
<rect x="464.37" y="165.69" width="6.13" height="3.21" fill="#ffffff"/>
<rect x="470.20" y="165.69" width="3.22" height="3.21" fill="#fafaff"/>
<rect x="473.11" y="165.69" width="6.13" height="3.21" fill="#f4f4ff"/>
<rect x="478.95" y="165.69" width="6.13" height="3.21" fill="#efefff"/>
<rect x="484.78" y="165.69" width="6.13" height="3.21" fill="#eaeaff"/>
<rect x="490.61" y="165.69" width="3.22" height="3.21" fill="#e4e4ff"/>
<rect x="493.52" y="165.69" width="6.13" height="3.21" fill="#dfdfff"/>
<rect x="499.36" y="165.69" width="3.22" height="3.21" fill="#dadaff"/>
<rect x="502.27" y="165.69" width="6.13" height="3.21" fill="#d4d4ff"/>
<rect x="508.10" y="165.69" width="6.13" height="3.21" fill="#cfcfff"/>
<rect x="513.93" y="165.69" width="6.13" height="3.21" fill="#cacaff"/>
<rect x="519.77" y="165.69" width="3.22" height="3.21" fill="#c5c5ff"/>
<rect x="522.68" y="165.69" width="3.22" height="3.21" fill="#bfbfff"/>
<rect x="525.60" y="165.69" width="3.22" height="3.21" fill="#babaff"/>
<rect x="528.51" y="165.69" width="3.22" height="3.21" fill="#b5b5ff"/>
<rect x="531.43" y="165.69" width="3.22" height="3.21" fill="#afafff"/>
<rect x="534.34" y="165.69" width="3.22" height="3.21" fill="#aaaaff"/>
<rect x="537.26" y="165.69" width="6.13" height="3.21" fill="#a5a5ff"/>
<rect x="543.09" y="165.69" width="3.22" height="3.21" fill="#9f9fff"/>
<rect x="546.01" y="165.69" width="6.13" height="3.21" fill="#9a9aff"/>
<rect x="551.84" y="165.69" width="6.13" height="3.21" fill="#9595ff"/>
<rect x="557.67" y="165.69" width="3.22" height="3.21" fill="#8f8fff"/>
<rect x="560.59" y="165.69" width="6.13" height="3.21" fill="#8a8aff"/>
<rect x="566.42" y="165.69" width="3.22" height="3.21" fill="#8585ff"/>
<rect x="569.33" y="165.69" width="6.13" height="3.21" fill="#8080ff"/>
<rect x="575.16" y="165.69" width="6.13" height="3.21" fill="#7a7aff"/>
<rect x="581.00" y="165.69" width="3.22" height="3.21" fill="#7575ff"/>
<rect x="414.80" y="162.77" width="3.22" height="3.21" fill="#ff2525"/>
<rect x="417.72" y="162.77" width="3.22" height="3.21" fill="#ff2b2b"/>
<rect x="420.63" y="162.77" width="3.22" height="3.21" fill="#ff3030"/>
<rect x="423.55" y="162.77" width="3.22" height="3.21" fill="#ff3a3a"/>
<rect x="426.46" y="162.77" width="3.22" height="3.21" fill="#ff4545"/>
<rect x="429.38" y="162.77" width="3.22" height="3.21" fill="#ff5050"/>
<rect x="432.29" y="162.77" width="3.22" height="3.21" fill="#ff5a5a"/>
<rect x="435.21" y="162.77" width="3.22" height="3.21" fill="#ff6565"/>
<rect x="438.13" y="162.77" width="3.22" height="3.21" fill="#ff7575"/>
<rect x="441.04" y="162.77" width="3.22" height="3.21" fill="#ff8080"/>
<rect x="443.96" y="162.77" width="3.22" height="3.21" fill="#ff8f8f"/>
<rect x="446.87" y="162.77" width="3.22" height="3.21" fill="#ff9f9f"/>
<rect x="449.79" y="162.77" width="3.22" height="3.21" fill="#ffaaaa"/>
<rect x="452.70" y="162.77" width="3.22" height="3.21" fill="#ffbaba"/>
<rect x="455.62" y="162.77" width="3.22" height="3.21" fill="#ffcfcf"/>
<rect x="458.54" y="162.77" width="3.22" height="3.21" fill="#ffe4e4"/>
<rect x="461.45" y="162.77" width="3.22" height="3.21" fill="#fff4f4"/>
<rect x="464.37" y="162.77" width="3.22" height="3.21" fill="#ffffff"/>
<rect x="467.28" y="162.77" width="6.13" height="3.21" fill="#fafaff"/>
<rect x="473.11" y="162.77" width="6.13" height="3.21" fill="#f4f4ff"/>
<rect x="478.95" y="162.77" width="3.22" height="3.21" fill="#efefff"/>
<rect x="481.86" y="162.77" width="6.13" height="3.21" fill="#eaeaff"/>
<rect x="487.69" y="162.77" width="6.13" height="3.21" fill="#e4e4ff"/>
<rect x="493.52" y="162.77" width="6.13" height="3.21" fill="#dfdfff"/>
<rect x="499.36" y="162.77" width="3.22" height="3.21" fill="#dadaff"/>
<rect x="502.27" y="162.77" width="6.13" height="3.21" fill="#d4d4ff"/>
<rect x="508.10" y="162.77" width="6.13" height="3.21" fill="#cfcfff"/>
<rect x="513.93" y="162.77" width="3.22" height="3.21" fill="#cacaff"/>
<rect x="516.85" y="162.77" width="6.13" height="3.21" fill="#c5c5ff"/>
<rect x="522.68" y="162.77" width="3.22" height="3.21" fill="#bfbfff"/>
<rect x="525.60" y="162.77" width="3.22" height="3.21" fill="#babaff"/>
<rect x="528.51" y="162.77" width="3.22" height="3.21" fill="#b5b5ff"/>
<rect x="531.43" y="162.77" width="3.22" height="3.21" fill="#afafff"/>
<rect x="534.34" y="162.77" width="3.22" height="3.21" fill="#aaaaff"/>
<rect x="537.26" y="162.77" width="6.13" height="3.21" fill="#a5a5ff"/>
<rect x="543.09" y="162.77" width="3.22" height="3.21" fill="#9f9fff"/>
<rect x="546.01" y="162.77" width="6.13" height="3.21" fill="#9a9aff"/>
<rect x="551.84" y="162.77" width="6.13" height="3.21" fill="#9595ff"/>
<rect x="557.67" y="162.77" width="3.22" height="3.21" fill="#8f8fff"/>
<rect x="560.59" y="162.77" width="6.13" height="3.21" fill="#8a8aff"/>
<rect x="566.42" y="162.77" width="6.13" height="3.21" fill="#8585ff"/>
<rect x="572.25" y="162.77" width="3.22" height="3.21" fill="#8080ff"/>
<rect x="575.16" y="162.77" width="6.13" height="3.21" fill="#7a7aff"/>
<rect x="414.80" y="159.86" width="3.22" height="3.21" fill="#ff4040"/>
<rect x="417.72" y="159.86" width="3.22" height="3.21" fill="#ff2b2b"/>
<rect x="420.63" y="159.86" width="3.22" height="3.21" fill="#ff3535"/>
<rect x="423.55" y="159.86" width="3.22" height="3.21" fill="#ff4040"/>
<rect x="426.46" y="159.86" width="3.22" height="3.21" fill="#ff5050"/>
<rect x="429.38" y="159.86" width="3.22" height="3.21" fill="#ff5a5a"/>
<rect x="432.29" y="159.86" width="3.22" height="3.21" fill="#ff6565"/>
<rect x="435.21" y="159.86" width="3.22" height="3.21" fill="#ff7070"/>
<rect x="438.13" y="159.86" width="3.22" height="3.21" fill="#ff7a7a"/>
<rect x="441.04" y="159.86" width="3.22" height="3.21" fill="#ff8a8a"/>
<rect x="443.96" y="159.86" width="3.22" height="3.21" fill="#ff9a9a"/>
<rect x="446.87" y="159.86" width="3.22" height="3.21" fill="#ffa5a5"/>
<rect x="449.79" y="159.86" width="3.22" height="3.21" fill="#ffb5b5"/>
<rect x="452.70" y="159.86" width="3.22" height="3.21" fill="#ffc5c5"/>
<rect x="455.62" y="159.86" width="3.22" height="3.21" fill="#ffdada"/>
<rect x="458.54" y="159.86" width="3.22" height="3.21" fill="#ffefef"/>
<rect x="461.45" y="159.86" width="3.22" height="3.21" fill="#ffffff"/>
<rect x="464.37" y="159.86" width="6.13" height="3.21" fill="#fafaff"/>
<rect x="470.20" y="159.86" width="6.13" height="3.21" fill="#f4f4ff"/>
<rect x="476.03" y="159.86" width="9.05" height="3.21" fill="#efefff"/>
<rect x="484.78" y="159.86" width="6.13" height="3.21" fill="#eaeaff"/>
<rect x="490.61" y="159.86" width="6.13" height="3.21" fill="#e4e4ff"/>
<rect x="496.44" y="159.86" width="3.22" height="3.21" fill="#dfdfff"/>
<rect x="499.36" y="159.86" width="3.22" height="3.21" fill="#dadaff"/>
<rect x="502.27" y="159.86" width="6.13" height="3.21" fill="#d4d4ff"/>
<rect x="508.10" y="159.86" width="6.13" height="3.21" fill="#cfcfff"/>
<rect x="513.93" y="159.86" width="6.13" height="3.21" fill="#cacaff"/>
<rect x="519.77" y="159.86" width="3.22" height="3.21" fill="#c5c5ff"/>
<rect x="522.68" y="159.86" width="3.22" height="3.21" fill="#bfbfff"/>
<rect x="525.60" y="159.86" width="3.22" height="3.21" fill="#babaff"/>
<rect x="528.51" y="159.86" width="3.22" height="3.21" fill="#b5b5ff"/>
<rect x="531.43" y="159.86" width="6.13" height="3.21" fill="#afafff"/>
<rect x="537.26" y="159.86" width="3.22" height="3.21" fill="#aaaaff"/>
<rect x="540.18" y="159.86" width="3.22" height="3.21" fill="#a5a5ff"/>
<rect x="543.09" y="159.86" width="6.13" height="3.21" fill="#9f9fff"/>
<rect x="548.92" y="159.86" width="3.22" height="3.21" fill="#9a9aff"/>
<rect x="551.84" y="159.86" width="6.13" height="3.21" fill="#9595ff"/>
<rect x="557.67" y="159.86" width="6.13" height="3.21" fill="#8f8fff"/>
<rect x="563.50" y="159.86" width="6.13" height="3.21" fill="#8a8aff"/>
<rect x="569.33" y="159.86" width="3.22" height="3.21" fill="#8585ff"/>
<rect x="572.25" y="159.86" width="3.22" height="3.21" fill="#8080ff"/>
<rect x="575.16" y="159.86" width="3.22" height="3.21" fill="#7a7aff"/>
<rect x="414.80" y="156.94" width="3.22" height="3.21" fill="#ff2b2b"/>
<rect x="417.72" y="156.94" width="3.22" height="3.21" fill="#ff3535"/>
<rect x="420.63" y="156.94" width="3.22" height="3.21" fill="#ff4040"/>
<rect x="423.55" y="156.94" width="3.22" height="3.21" fill="#ff4a4a"/>
<rect x="426.46" y="156.94" width="3.22" height="3.21" fill="#ff5555"/>
<rect x="429.38" y="156.94" width="3.22" height="3.21" fill="#ff6060"/>
<rect x="432.29" y="156.94" width="3.22" height="3.21" fill="#ff6a6a"/>
<rect x="435.21" y="156.94" width="3.22" height="3.21" fill="#ff7a7a"/>
<rect x="438.13" y="156.94" width="3.22" height="3.21" fill="#ff8585"/>
<rect x="441.04" y="156.94" width="3.22" height="3.21" fill="#ff9595"/>
<rect x="443.96" y="156.94" width="3.22" height="3.21" fill="#ff9f9f"/>
<rect x="446.87" y="156.94" width="3.22" height="3.21" fill="#ffafaf"/>
<rect x="449.79" y="156.94" width="3.22" height="3.21" fill="#ffbfbf"/>
<rect x="452.70" y="156.94" width="3.22" height="3.21" fill="#ffcfcf"/>
<rect x="455.62" y="156.94" width="3.22" height="3.21" fill="#ffe4e4"/>
<rect x="458.54" y="156.94" width="3.22" height="3.21" fill="#fff4f4"/>
<rect x="461.45" y="156.94" width="3.22" height="3.21" fill="#ffffff"/>
<rect x="464.37" y="156.94" width="9.05" height="3.21" fill="#fafaff"/>
<rect x="473.11" y="156.94" width="6.13" height="3.21" fill="#f4f4ff"/>
<rect x="478.95" y="156.94" width="6.13" height="3.21" fill="#efefff"/>
<rect x="484.78" y="156.94" width="6.13" height="3.21" fill="#eaeaff"/>
<rect x="490.61" y="156.94" width="6.13" height="3.21" fill="#e4e4ff"/>
<rect x="496.44" y="156.94" width="3.22" height="3.21" fill="#dfdfff"/>
<rect x="499.36" y="156.94" width="6.13" height="3.21" fill="#dadaff"/>
<rect x="505.19" y="156.94" width="6.13" height="3.21" fill="#d4d4ff"/>
<rect x="511.02" y="156.94" width="6.13" height="3.21" fill="#cfcfff"/>
<rect x="516.85" y="156.94" width="3.22" height="3.21" fill="#cacaff"/>
<rect x="519.77" y="156.94" width="3.22" height="3.21" fill="#c5c5ff"/>
<rect x="522.68" y="156.94" width="3.22" height="3.21" fill="#bfbfff"/>
<rect x="525.60" y="156.94" width="3.22" height="3.21" fill="#babaff"/>
<rect x="528.51" y="156.94" width="6.13" height="3.21" fill="#b5b5ff"/>
<rect x="534.34" y="156.94" width="3.22" height="3.21" fill="#afafff"/>
<rect x="537.26" y="156.94" width="3.22" height="3.21" fill="#aaaaff"/>
<rect x="540.18" y="156.94" width="6.13" height="3.21" fill="#a5a5ff"/>
<rect x="546.01" y="156.94" width="3.22" height="3.21" fill="#9f9fff"/>
<rect x="548.92" y="156.94" width="6.13" height="3.21" fill="#9a9aff"/>
<rect x="554.75" y="156.94" width="6.13" height="3.21" fill="#9595ff"/>
<rect x="560.59" y="156.94" width="6.13" height="3.21" fill="#8f8fff"/>
<rect x="566.42" y="156.94" width="3.22" height="3.21" fill="#8a8aff"/>
<rect x="569.33" y="156.94" width="3.22" height="3.21" fill="#8585ff"/>
<rect x="572.25" y="156.94" width="3.22" height="3.21" fill="#8080ff"/>
<rect x="414.80" y="154.03" width="3.22" height="3.21" fill="#ff3030"/>
<rect x="417.72" y="154.03" width="3.22" height="3.21" fill="#ff3a3a"/>
<rect x="420.63" y="154.03" width="3.22" height="3.21" fill="#ff4545"/>
<rect x="423.55" y="154.03" width="3.22" height="3.21" fill="#ff5050"/>
<rect x="426.46" y="154.03" width="3.22" height="3.21" fill="#ff5a5a"/>
<rect x="429.38" y="154.03" width="3.22" height="3.21" fill="#ff6565"/>
<rect x="432.29" y="154.03" width="3.22" height="3.21" fill="#ff7575"/>
<rect x="435.21" y="154.03" width="3.22" height="3.21" fill="#ff8080"/>
<rect x="438.13" y="154.03" width="3.22" height="3.21" fill="#ff8f8f"/>
<rect x="441.04" y="154.03" width="3.22" height="3.21" fill="#ff9a9a"/>
<rect x="443.96" y="154.03" width="3.22" height="3.21" fill="#ffaaaa"/>
<rect x="446.87" y="154.03" width="3.22" height="3.21" fill="#ffb5b5"/>
<rect x="449.79" y="154.03" width="3.22" height="3.21" fill="#ffcaca"/>
<rect x="452.70" y="154.03" width="3.22" height="3.21" fill="#ffdada"/>
<rect x="455.62" y="154.03" width="3.22" height="3.21" fill="#ffeaea"/>
<rect x="458.54" y="154.03" width="3.22" height="3.21" fill="#fff4f4"/>
<rect x="461.45" y="154.03" width="6.13" height="3.21" fill="#ffffff"/>
<rect x="467.28" y="154.03" width="9.05" height="3.21" fill="#fafaff"/>
<rect x="476.03" y="154.03" width="6.13" height="3.21" fill="#f4f4ff"/>
<rect x="481.86" y="154.03" width="6.13" height="3.21" fill="#efefff"/>
<rect x="487.69" y="154.03" width="6.13" height="3.21" fill="#eaeaff"/>
<rect x="493.52" y="154.03" width="3.22" height="3.21" fill="#e4e4ff"/>
<rect x="496.44" y="154.03" width="6.13" height="3.21" fill="#dfdfff"/>
<rect x="502.27" y="154.03" width="3.22" height="3.21" fill="#dadaff"/>
<rect x="505.19" y="154.03" width="6.13" height="3.21" fill="#d4d4ff"/>
<rect x="511.02" y="154.03" width="6.13" height="3.21" fill="#cfcfff"/>
<rect x="516.85" y="154.03" width="3.22" height="3.21" fill="#cacaff"/>
<rect x="519.77" y="154.03" width="6.13" height="3.21" fill="#c5c5ff"/>
<rect x="525.60" y="154.03" width="3.22" height="3.21" fill="#bfbfff"/>
<rect x="528.51" y="154.03" width="3.22" height="3.21" fill="#babaff"/>
<rect x="531.43" y="154.03" width="3.22" height="3.21" fill="#b5b5ff"/>
<rect x="534.34" y="154.03" width="3.22" height="3.21" fill="#afafff"/>
<rect x="537.26" y="154.03" width="6.13" height="3.21" fill="#aaaaff"/>
<rect x="543.09" y="154.03" width="3.22" height="3.21" fill="#a5a5ff"/>
<rect x="546.01" y="154.03" width="6.13" height="3.21" fill="#9f9fff"/>
<rect x="551.84" y="154.03" width="6.13" height="3.21" fill="#9a9aff"/>
<rect x="557.67" y="154.03" width="6.13" height="3.21" fill="#9595ff"/>
<rect x="563.50" y="154.03" width="3.22" height="3.21" fill="#8f8fff"/>
<rect x="566.42" y="154.03" width="3.22" height="3.21" fill="#8a8aff"/>
<rect x="569.33" y="154.03" width="3.22" height="3.21" fill="#8585ff"/>
<rect x="414.80" y="151.11" width="3.22" height="3.21" fill="#ff3a3a"/>
<rect x="417.72" y="151.11" width="3.22" height="3.21" fill="#ff4545"/>
<rect x="420.63" y="151.11" width="3.22" height="3.21" fill="#ff5050"/>
<rect x="423.55" y="151.11" width="3.22" height="3.21" fill="#ff5a5a"/>
<rect x="426.46" y="151.11" width="3.22" height="3.21" fill="#ff6565"/>
<rect x="429.38" y="151.11" width="3.22" height="3.21" fill="#ff7070"/>
<rect x="432.29" y="151.11" width="3.22" height="3.21" fill="#ff7a7a"/>
<rect x="435.21" y="151.11" width="3.22" height="3.21" fill="#ff8585"/>
<rect x="438.13" y="151.11" width="3.22" height="3.21" fill="#ff9595"/>
<rect x="441.04" y="151.11" width="3.22" height="3.21" fill="#ff9f9f"/>
<rect x="443.96" y="151.11" width="3.22" height="3.21" fill="#ffafaf"/>
<rect x="446.87" y="151.11" width="3.22" height="3.21" fill="#ffbfbf"/>
<rect x="449.79" y="151.11" width="3.22" height="3.21" fill="#ffcaca"/>
<rect x="452.70" y="151.11" width="3.22" height="3.21" fill="#ffcfcf"/>
<rect x="455.62" y="151.11" width="3.22" height="3.21" fill="#ffdada"/>
<rect x="458.54" y="151.11" width="3.22" height="3.21" fill="#ffe4e4"/>
<rect x="461.45" y="151.11" width="3.22" height="3.21" fill="#ffefef"/>
<rect x="464.37" y="151.11" width="3.22" height="3.21" fill="#fff4f4"/>
<rect x="467.28" y="151.11" width="6.13" height="3.21" fill="#ffffff"/>
<rect x="473.11" y="151.11" width="6.13" height="3.21" fill="#fafaff"/>
<rect x="478.95" y="151.11" width="6.13" height="3.21" fill="#f4f4ff"/>
<rect x="484.78" y="151.11" width="6.13" height="3.21" fill="#efefff"/>
<rect x="490.61" y="151.11" width="3.22" height="3.21" fill="#eaeaff"/>
<rect x="493.52" y="151.11" width="6.13" height="3.21" fill="#e4e4ff"/>
<rect x="499.36" y="151.11" width="3.22" height="3.21" fill="#dfdfff"/>
<rect x="502.27" y="151.11" width="6.13" height="3.21" fill="#dadaff"/>
<rect x="508.10" y="151.11" width="6.13" height="3.21" fill="#d4d4ff"/>
<rect x="513.93" y="151.11" width="6.13" height="3.21" fill="#cfcfff"/>
<rect x="519.77" y="151.11" width="3.22" height="3.21" fill="#cacaff"/>
<rect x="522.68" y="151.11" width="3.22" height="3.21" fill="#c5c5ff"/>
<rect x="525.60" y="151.11" width="3.22" height="3.21" fill="#bfbfff"/>
<rect x="528.51" y="151.11" width="6.13" height="3.21" fill="#babaff"/>
<rect x="534.34" y="151.11" width="3.22" height="3.21" fill="#b5b5ff"/>
<rect x="537.26" y="151.11" width="3.22" height="3.21" fill="#afafff"/>
<rect x="540.18" y="151.11" width="3.22" height="3.21" fill="#aaaaff"/>
<rect x="543.09" y="151.11" width="6.13" height="3.21" fill="#a5a5ff"/>
<rect x="548.92" y="151.11" width="6.13" height="3.21" fill="#9f9fff"/>
<rect x="554.75" y="151.11" width="6.13" height="3.21" fill="#9a9aff"/>
<rect x="560.59" y="151.11" width="3.22" height="3.21" fill="#9595ff"/>
<rect x="563.50" y="151.11" width="3.22" height="3.21" fill="#8f8fff"/>
<rect x="566.42" y="151.11" width="3.22" height="3.21" fill="#8a8aff"/>
<rect x="414.80" y="148.20" width="3.22" height="3.21" fill="#ff4040"/>
<rect x="417.72" y="148.20" width="3.22" height="3.21" fill="#ff4a4a"/>
<rect x="420.63" y="148.20" width="3.22" height="3.21" fill="#ff5555"/>
<rect x="423.55" y="148.20" width="3.22" height="3.21" fill="#ff6060"/>
<rect x="426.46" y="148.20" width="3.22" height="3.21" fill="#ff6a6a"/>
<rect x="429.38" y="148.20" width="3.22" height="3.21" fill="#ff7575"/>
<rect x="432.29" y="148.20" width="3.22" height="3.21" fill="#ff8080"/>
<rect x="435.21" y="148.20" width="3.22" height="3.21" fill="#ff8f8f"/>
<rect x="438.13" y="148.20" width="3.22" height="3.21" fill="#ff9a9a"/>
<rect x="441.04" y="148.20" width="3.22" height="3.21" fill="#ff9f9f"/>
<rect x="443.96" y="148.20" width="3.22" height="3.21" fill="#ffaaaa"/>
<rect x="446.87" y="148.20" width="3.22" height="3.21" fill="#ffafaf"/>
<rect x="449.79" y="148.20" width="3.22" height="3.21" fill="#ffbaba"/>
<rect x="452.70" y="148.20" width="3.22" height="3.21" fill="#ffbfbf"/>
<rect x="455.62" y="148.20" width="3.22" height="3.21" fill="#ffcaca"/>
<rect x="458.54" y="148.20" width="3.22" height="3.21" fill="#ffd4d4"/>
<rect x="461.45" y="148.20" width="3.22" height="3.21" fill="#ffdfdf"/>
<rect x="464.37" y="148.20" width="3.22" height="3.21" fill="#ffeaea"/>
<rect x="467.28" y="148.20" width="3.22" height="3.21" fill="#ffefef"/>
<rect x="470.20" y="148.20" width="3.22" height="3.21" fill="#fffafa"/>
<rect x="473.11" y="148.20" width="3.22" height="3.21" fill="#ffffff"/>
<rect x="476.03" y="148.20" width="6.13" height="3.21" fill="#fafaff"/>
<rect x="481.86" y="148.20" width="6.13" height="3.21" fill="#f4f4ff"/>
<rect x="487.69" y="148.20" width="6.13" height="3.21" fill="#efefff"/>
<rect x="493.52" y="148.20" width="3.22" height="3.21" fill="#eaeaff"/>
<rect x="496.44" y="148.20" width="6.13" height="3.21" fill="#e4e4ff"/>
<rect x="502.27" y="148.20" width="3.22" height="3.21" fill="#dfdfff"/>
<rect x="505.19" y="148.20" width="3.22" height="3.21" fill="#dadaff"/>
<rect x="508.10" y="148.20" width="6.13" height="3.21" fill="#d4d4ff"/>
<rect x="513.93" y="148.20" width="6.13" height="3.21" fill="#cfcfff"/>
<rect x="519.77" y="148.20" width="6.13" height="3.21" fill="#cacaff"/>
<rect x="525.60" y="148.20" width="3.22" height="3.21" fill="#c5c5ff"/>
<rect x="528.51" y="148.20" width="3.22" height="3.21" fill="#bfbfff"/>
<rect x="531.43" y="148.20" width="3.22" height="3.21" fill="#babaff"/>
<rect x="534.34" y="148.20" width="6.13" height="3.21" fill="#b5b5ff"/>
<rect x="540.18" y="148.20" width="3.22" height="3.21" fill="#afafff"/>
<rect x="543.09" y="148.20" width="3.22" height="3.21" fill="#aaaaff"/>
<rect x="546.01" y="148.20" width="6.13" height="3.21" fill="#a5a5ff"/>
<rect x="551.84" y="148.20" width="6.13" height="3.21" fill="#9f9fff"/>
<rect x="557.67" y="148.20" width="3.22" height="3.21" fill="#9a9aff"/>
<rect x="560.59" y="148.20" width="3.22" height="3.21" fill="#9595ff"/>
<rect x="563.50" y="148.20" width="3.22" height="3.21" fill="#8f8fff"/>
<rect x="414.80" y="145.29" width="3.22" height="3.21" fill="#ff4545"/>
<rect x="417.72" y="145.29" width="3.22" height="3.21" fill="#ff5050"/>
<rect x="420.63" y="145.29" width="3.22" height="3.21" fill="#ff5a5a"/>
<rect x="423.55" y="145.29" width="3.22" height="3.21" fill="#ff6565"/>
<rect x="426.46" y="145.29" width="3.22" height="3.21" fill="#ff6a6a"/>
<rect x="429.38" y="145.29" width="3.22" height="3.21" fill="#ff7a7a"/>
<rect x="432.29" y="145.29" width="3.22" height="3.21" fill="#ff8080"/>
<rect x="435.21" y="145.29" width="3.22" height="3.21" fill="#ff8585"/>
<rect x="438.13" y="145.29" width="3.22" height="3.21" fill="#ff8f8f"/>
<rect x="441.04" y="145.29" width="3.22" height="3.21" fill="#ff9595"/>
<rect x="443.96" y="145.29" width="3.22" height="3.21" fill="#ff9a9a"/>
<rect x="446.87" y="145.29" width="3.22" height="3.21" fill="#ffa5a5"/>
<rect x="449.79" y="145.29" width="3.22" height="3.21" fill="#ffaaaa"/>
<rect x="452.70" y="145.29" width="3.22" height="3.21" fill="#ffafaf"/>
<rect x="455.62" y="145.29" width="3.22" height="3.21" fill="#ffbaba"/>
<rect x="458.54" y="145.29" width="3.22" height="3.21" fill="#ffc5c5"/>
<rect x="461.45" y="145.29" width="3.22" height="3.21" fill="#ffcfcf"/>
<rect x="464.37" y="145.29" width="3.22" height="3.21" fill="#ffdada"/>
<rect x="467.28" y="145.29" width="3.22" height="3.21" fill="#ffdfdf"/>
<rect x="470.20" y="145.29" width="3.22" height="3.21" fill="#ffeaea"/>
<rect x="473.11" y="145.29" width="3.22" height="3.21" fill="#fff4f4"/>
<rect x="476.03" y="145.29" width="3.22" height="3.21" fill="#fffafa"/>
<rect x="478.95" y="145.29" width="3.22" height="3.21" fill="#ffffff"/>
<rect x="481.86" y="145.29" width="3.22" height="3.21" fill="#fafaff"/>
<rect x="484.78" y="145.29" width="6.13" height="3.21" fill="#f4f4ff"/>
<rect x="490.61" y="145.29" width="6.13" height="3.21" fill="#efefff"/>
<rect x="496.44" y="145.29" width="3.22" height="3.21" fill="#eaeaff"/>
<rect x="499.36" y="145.29" width="3.22" height="3.21" fill="#e4e4ff"/>
<rect x="502.27" y="145.29" width="6.13" height="3.21" fill="#dfdfff"/>
<rect x="508.10" y="145.29" width="3.22" height="3.21" fill="#dadaff"/>
<rect x="511.02" y="145.29" width="6.13" height="3.21" fill="#d4d4ff"/>
<rect x="516.85" y="145.29" width="6.13" height="3.21" fill="#cfcfff"/>
<rect x="522.68" y="145.29" width="3.22" height="3.21" fill="#cacaff"/>
<rect x="525.60" y="145.29" width="6.13" height="3.21" fill="#c5c5ff"/>
<rect x="531.43" y="145.29" width="3.22" height="3.21" fill="#bfbfff"/>
<rect x="534.34" y="145.29" width="3.22" height="3.21" fill="#babaff"/>
<rect x="537.26" y="145.29" width="3.22" height="3.21" fill="#b5b5ff"/>
<rect x="540.18" y="145.29" width="6.13" height="3.21" fill="#afafff"/>
<rect x="546.01" y="145.29" width="3.22" height="3.21" fill="#aaaaff"/>
<rect x="548.92" y="145.29" width="6.13" height="3.21" fill="#a5a5ff"/>
<rect x="554.75" y="145.29" width="3.22" height="3.21" fill="#9f9fff"/>
<rect x="557.67" y="145.29" width="3.22" height="3.21" fill="#9a9aff"/>
<rect x="560.59" y="145.29" width="3.22" height="3.21" fill="#9595ff"/>
<rect x="414.80" y="142.37" width="3.22" height="3.21" fill="#ff4a4a"/>
<rect x="417.72" y="142.37" width="3.22" height="3.21" fill="#ff5555"/>
<rect x="420.63" y="142.37" width="3.22" height="3.21" fill="#ff6060"/>
<rect x="423.55" y="142.37" width="3.22" height="3.21" fill="#ff6565"/>
<rect x="426.46" y="142.37" width="3.22" height="3.21" fill="#ff6a6a"/>
<rect x="429.38" y="142.37" width="3.22" height="3.21" fill="#ff7070"/>
<rect x="432.29" y="142.37" width="3.22" height="3.21" fill="#ff7575"/>
<rect x="435.21" y="142.37" width="3.22" height="3.21" fill="#ff7a7a"/>
<rect x="438.13" y="142.37" width="3.22" height="3.21" fill="#ff8585"/>
<rect x="441.04" y="142.37" width="3.22" height="3.21" fill="#ff8a8a"/>
<rect x="443.96" y="142.37" width="3.22" height="3.21" fill="#ff8f8f"/>
<rect x="446.87" y="142.37" width="3.22" height="3.21" fill="#ff9595"/>
<rect x="449.79" y="142.37" width="3.22" height="3.21" fill="#ff9f9f"/>
<rect x="452.70" y="142.37" width="3.22" height="3.21" fill="#ffa5a5"/>
<rect x="455.62" y="142.37" width="3.22" height="3.21" fill="#ffaaaa"/>
<rect x="458.54" y="142.37" width="3.22" height="3.21" fill="#ffb5b5"/>
<rect x="461.45" y="142.37" width="3.22" height="3.21" fill="#ffbfbf"/>
<rect x="464.37" y="142.37" width="3.22" height="3.21" fill="#ffc5c5"/>
<rect x="467.28" y="142.37" width="3.22" height="3.21" fill="#ffcfcf"/>
<rect x="470.20" y="142.37" width="3.22" height="3.21" fill="#ffdada"/>
<rect x="473.11" y="142.37" width="3.22" height="3.21" fill="#ffe4e4"/>
<rect x="476.03" y="142.37" width="3.22" height="3.21" fill="#ffefef"/>
<rect x="478.95" y="142.37" width="3.22" height="3.21" fill="#fffafa"/>
<rect x="481.86" y="142.37" width="3.22" height="3.21" fill="#ffffff"/>
<rect x="484.78" y="142.37" width="6.13" height="3.21" fill="#fafaff"/>
<rect x="490.61" y="142.37" width="3.22" height="3.21" fill="#f4f4ff"/>
<rect x="493.52" y="142.37" width="6.13" height="3.21" fill="#efefff"/>
<rect x="499.36" y="142.37" width="3.22" height="3.21" fill="#eaeaff"/>
<rect x="502.27" y="142.37" width="3.22" height="3.21" fill="#e4e4ff"/>
<rect x="505.19" y="142.37" width="6.13" height="3.21" fill="#dfdfff"/>
<rect x="511.02" y="142.37" width="3.22" height="3.21" fill="#dadaff"/>
<rect x="513.93" y="142.37" width="6.13" height="3.21" fill="#d4d4ff"/>
<rect x="519.77" y="142.37" width="6.13" height="3.21" fill="#cfcfff"/>
<rect x="525.60" y="142.37" width="3.22" height="3.21" fill="#cacaff"/>
<rect x="528.51" y="142.37" width="6.13" height="3.21" fill="#c5c5ff"/>
<rect x="534.34" y="142.37" width="3.22" height="3.21" fill="#bfbfff"/>
<rect x="537.26" y="142.37" width="3.22" height="3.21" fill="#babaff"/>
<rect x="540.18" y="142.37" width="3.22" height="3.21" fill="#b5b5ff"/>
<rect x="543.09" y="142.37" width="6.13" height="3.21" fill="#afafff"/>
<rect x="548.92" y="142.37" width="3.22" height="3.21" fill="#aaaaff"/>
<rect x="551.84" y="142.37" width="3.22" height="3.21" fill="#a5a5ff"/>
<rect x="554.75" y="142.37" width="3.22" height="3.21" fill="#9f9fff"/>
<rect x="557.67" y="142.37" width="3.22" height="3.21" fill="#9a9aff"/>
<rect x="414.80" y="139.46" width="3.22" height="3.21" fill="#ff4a4a"/>
<rect x="417.72" y="139.46" width="3.22" height="3.21" fill="#ff5050"/>
<rect x="420.63" y="139.46" width="3.22" height="3.21" fill="#ff5555"/>
<rect x="423.55" y="139.46" width="3.22" height="3.21" fill="#ff5a5a"/>
<rect x="426.46" y="139.46" width="3.22" height="3.21" fill="#ff6060"/>
<rect x="429.38" y="139.46" width="3.22" height="3.21" fill="#ff6565"/>
<rect x="432.29" y="139.46" width="3.22" height="3.21" fill="#ff6a6a"/>
<rect x="435.21" y="139.46" width="3.22" height="3.21" fill="#ff7070"/>
<rect x="438.13" y="139.46" width="3.22" height="3.21" fill="#ff7575"/>
<rect x="441.04" y="139.46" width="3.22" height="3.21" fill="#ff8080"/>
<rect x="443.96" y="139.46" width="3.22" height="3.21" fill="#ff8585"/>
<rect x="446.87" y="139.46" width="3.22" height="3.21" fill="#ff8a8a"/>
<rect x="449.79" y="139.46" width="3.22" height="3.21" fill="#ff9595"/>
<rect x="452.70" y="139.46" width="3.22" height="3.21" fill="#ff9a9a"/>
<rect x="455.62" y="139.46" width="3.22" height="3.21" fill="#ff9f9f"/>
<rect x="458.54" y="139.46" width="3.22" height="3.21" fill="#ffaaaa"/>
<rect x="461.45" y="139.46" width="3.22" height="3.21" fill="#ffafaf"/>
<rect x="464.37" y="139.46" width="3.22" height="3.21" fill="#ffbaba"/>
<rect x="467.28" y="139.46" width="3.22" height="3.21" fill="#ffbfbf"/>
<rect x="470.20" y="139.46" width="3.22" height="3.21" fill="#ffcaca"/>
<rect x="473.11" y="139.46" width="3.22" height="3.21" fill="#ffd4d4"/>
<rect x="476.03" y="139.46" width="3.22" height="3.21" fill="#ffdfdf"/>
<rect x="478.95" y="139.46" width="3.22" height="3.21" fill="#ffeaea"/>
<rect x="481.86" y="139.46" width="3.22" height="3.21" fill="#fff4f4"/>
<rect x="484.78" y="139.46" width="3.22" height="3.21" fill="#ffffff"/>
<rect x="487.69" y="139.46" width="6.13" height="3.21" fill="#fafaff"/>
<rect x="493.52" y="139.46" width="3.22" height="3.21" fill="#f4f4ff"/>
<rect x="496.44" y="139.46" width="6.13" height="3.21" fill="#efefff"/>
<rect x="502.27" y="139.46" width="3.22" height="3.21" fill="#eaeaff"/>
<rect x="505.19" y="139.46" width="3.22" height="3.21" fill="#e4e4ff"/>
<rect x="508.10" y="139.46" width="6.13" height="3.21" fill="#dfdfff"/>
<rect x="513.93" y="139.46" width="3.22" height="3.21" fill="#dadaff"/>
<rect x="516.85" y="139.46" width="6.13" height="3.21" fill="#d4d4ff"/>
<rect x="522.68" y="139.46" width="6.13" height="3.21" fill="#cfcfff"/>
<rect x="528.51" y="139.46" width="3.22" height="3.21" fill="#cacaff"/>
<rect x="531.43" y="139.46" width="3.22" height="3.21" fill="#c5c5ff"/>
<rect x="534.34" y="139.46" width="6.13" height="3.21" fill="#bfbfff"/>
<rect x="540.18" y="139.46" width="3.22" height="3.21" fill="#babaff"/>
<rect x="543.09" y="139.46" width="3.22" height="3.21" fill="#b5b5ff"/>
<rect x="546.01" y="139.46" width="6.13" height="3.21" fill="#afafff"/>
<rect x="551.84" y="139.46" width="3.22" height="3.21" fill="#aaaaff"/>
<rect x="554.75" y="139.46" width="3.22" height="3.21" fill="#9f9fff"/>
<rect x="414.80" y="136.54" width="3.22" height="3.21" fill="#ff4040"/>
<rect x="417.72" y="136.54" width="3.22" height="3.21" fill="#ff4545"/>
<rect x="420.63" y="136.54" width="3.22" height="3.21" fill="#ff4a4a"/>
<rect x="423.55" y="136.54" width="3.22" height="3.21" fill="#ff5050"/>
<rect x="426.46" y="136.54" width="3.22" height="3.21" fill="#ff5555"/>
<rect x="429.38" y="136.54" width="3.22" height="3.21" fill="#ff5a5a"/>
<rect x="432.29" y="136.54" width="3.22" height="3.21" fill="#ff6060"/>
<rect x="435.21" y="136.54" width="3.22" height="3.21" fill="#ff6565"/>
<rect x="438.13" y="136.54" width="3.22" height="3.21" fill="#ff6a6a"/>
<rect x="441.04" y="136.54" width="3.22" height="3.21" fill="#ff7070"/>
<rect x="443.96" y="136.54" width="3.22" height="3.21" fill="#ff7a7a"/>
<rect x="446.87" y="136.54" width="3.22" height="3.21" fill="#ff8080"/>
<rect x="449.79" y="136.54" width="3.22" height="3.21" fill="#ff8585"/>
<rect x="452.70" y="136.54" width="3.22" height="3.21" fill="#ff8f8f"/>
<rect x="455.62" y="136.54" width="3.22" height="3.21" fill="#ff9595"/>
<rect x="458.54" y="136.54" width="3.22" height="3.21" fill="#ff9a9a"/>
<rect x="461.45" y="136.54" width="3.22" height="3.21" fill="#ffa5a5"/>
<rect x="464.37" y="136.54" width="3.22" height="3.21" fill="#ffaaaa"/>
<rect x="467.28" y="136.54" width="3.22" height="3.21" fill="#ffb5b5"/>
<rect x="470.20" y="136.54" width="3.22" height="3.21" fill="#ffbfbf"/>
<rect x="473.11" y="136.54" width="3.22" height="3.21" fill="#ffcaca"/>
<rect x="476.03" y="136.54" width="3.22" height="3.21" fill="#ffd4d4"/>
<rect x="478.95" y="136.54" width="3.22" height="3.21" fill="#ffdfdf"/>
<rect x="481.86" y="136.54" width="3.22" height="3.21" fill="#ffeaea"/>
<rect x="484.78" y="136.54" width="3.22" height="3.21" fill="#fff4f4"/>
<rect x="487.69" y="136.54" width="3.22" height="3.21" fill="#ffffff"/>
<rect x="490.61" y="136.54" width="6.13" height="3.21" fill="#fafaff"/>
<rect x="496.44" y="136.54" width="3.22" height="3.21" fill="#f4f4ff"/>
<rect x="499.36" y="136.54" width="6.13" height="3.21" fill="#efefff"/>
<rect x="505.19" y="136.54" width="3.22" height="3.21" fill="#eaeaff"/>
<rect x="508.10" y="136.54" width="3.22" height="3.21" fill="#e4e4ff"/>
<rect x="511.02" y="136.54" width="3.22" height="3.21" fill="#dfdfff"/>
<rect x="513.93" y="136.54" width="6.13" height="3.21" fill="#dadaff"/>
<rect x="519.77" y="136.54" width="6.13" height="3.21" fill="#d4d4ff"/>
<rect x="525.60" y="136.54" width="6.13" height="3.21" fill="#cfcfff"/>
<rect x="531.43" y="136.54" width="3.22" height="3.21" fill="#cacaff"/>
<rect x="534.34" y="136.54" width="3.22" height="3.21" fill="#c5c5ff"/>
<rect x="537.26" y="136.54" width="6.13" height="3.21" fill="#bfbfff"/>
<rect x="543.09" y="136.54" width="3.22" height="3.21" fill="#babaff"/>
<rect x="546.01" y="136.54" width="3.22" height="3.21" fill="#b5b5ff"/>
<rect x="548.92" y="136.54" width="3.22" height="3.21" fill="#afafff"/>
<rect x="551.84" y="136.54" width="3.22" height="3.21" fill="#aaaaff"/>
<rect x="414.80" y="133.63" width="3.22" height="3.21" fill="#ff3535"/>
<rect x="417.72" y="133.63" width="3.22" height="3.21" fill="#ff4040"/>
<rect x="420.63" y="133.63" width="3.22" height="3.21" fill="#ff4545"/>
<rect x="423.55" y="133.63" width="3.22" height="3.21" fill="#ff4a4a"/>
<rect x="426.46" y="133.63" width="3.22" height="3.21" fill="#ff5050"/>
<rect x="429.38" y="133.63" width="3.22" height="3.21" fill="#ff5555"/>
<rect x="432.29" y="133.63" width="3.22" height="3.21" fill="#ff5a5a"/>
<rect x="435.21" y="133.63" width="3.22" height="3.21" fill="#ff6060"/>
<rect x="438.13" y="133.63" width="3.22" height="3.21" fill="#ff6565"/>
<rect x="441.04" y="133.63" width="3.22" height="3.21" fill="#ff6a6a"/>
<rect x="443.96" y="133.63" width="3.22" height="3.21" fill="#ff7070"/>
<rect x="446.87" y="133.63" width="3.22" height="3.21" fill="#ff7575"/>
<rect x="449.79" y="133.63" width="3.22" height="3.21" fill="#ff7a7a"/>
<rect x="452.70" y="133.63" width="3.22" height="3.21" fill="#ff8585"/>
<rect x="455.62" y="133.63" width="3.22" height="3.21" fill="#ff8a8a"/>
<rect x="458.54" y="133.63" width="3.22" height="3.21" fill="#ff8f8f"/>
<rect x="461.45" y="133.63" width="3.22" height="3.21" fill="#ff9a9a"/>
<rect x="464.37" y="133.63" width="3.22" height="3.21" fill="#ff9f9f"/>
<rect x="467.28" y="133.63" width="3.22" height="3.21" fill="#ffaaaa"/>
<rect x="470.20" y="133.63" width="3.22" height="3.21" fill="#ffafaf"/>
<rect x="473.11" y="133.63" width="3.22" height="3.21" fill="#ffbaba"/>
<rect x="476.03" y="133.63" width="3.22" height="3.21" fill="#ffc5c5"/>
<rect x="478.95" y="133.63" width="3.22" height="3.21" fill="#ffcfcf"/>
<rect x="481.86" y="133.63" width="3.22" height="3.21" fill="#ffdada"/>
<rect x="484.78" y="133.63" width="3.22" height="3.21" fill="#ffe4e4"/>
<rect x="487.69" y="133.63" width="3.22" height="3.21" fill="#ffefef"/>
<rect x="490.61" y="133.63" width="3.22" height="3.21" fill="#fffafa"/>
<rect x="493.52" y="133.63" width="6.13" height="3.21" fill="#fafaff"/>
<rect x="499.36" y="133.63" width="3.22" height="3.21" fill="#f4f4ff"/>
<rect x="502.27" y="133.63" width="3.22" height="3.21" fill="#efefff"/>
<rect x="505.19" y="133.63" width="6.13" height="3.21" fill="#eaeaff"/>
<rect x="511.02" y="133.63" width="3.22" height="3.21" fill="#e4e4ff"/>
<rect x="513.93" y="133.63" width="3.22" height="3.21" fill="#dfdfff"/>
<rect x="516.85" y="133.63" width="6.13" height="3.21" fill="#dadaff"/>
<rect x="522.68" y="133.63" width="6.13" height="3.21" fill="#d4d4ff"/>
<rect x="528.51" y="133.63" width="6.13" height="3.21" fill="#cfcfff"/>
<rect x="534.34" y="133.63" width="3.22" height="3.21" fill="#cacaff"/>
<rect x="537.26" y="133.63" width="3.22" height="3.21" fill="#c5c5ff"/>
<rect x="540.18" y="133.63" width="6.13" height="3.21" fill="#bfbfff"/>
<rect x="546.01" y="133.63" width="3.22" height="3.21" fill="#babaff"/>
<rect x="548.92" y="133.63" width="3.22" height="3.21" fill="#afafff"/>
<rect x="414.80" y="130.71" width="3.22" height="3.21" fill="#ff3030"/>
<rect x="417.72" y="130.71" width="3.22" height="3.21" fill="#ff3535"/>
<rect x="420.63" y="130.71" width="3.22" height="3.21" fill="#ff3a3a"/>
<rect x="423.55" y="130.71" width="3.22" height="3.21" fill="#ff4040"/>
<rect x="426.46" y="130.71" width="3.22" height="3.21" fill="#ff4545"/>
<rect x="429.38" y="130.71" width="3.22" height="3.21" fill="#ff4a4a"/>
<rect x="432.29" y="130.71" width="3.22" height="3.21" fill="#ff5050"/>
<rect x="435.21" y="130.71" width="3.22" height="3.21" fill="#ff5555"/>
<rect x="438.13" y="130.71" width="3.22" height="3.21" fill="#ff5a5a"/>
<rect x="441.04" y="130.71" width="3.22" height="3.21" fill="#ff6060"/>
<rect x="443.96" y="130.71" width="3.22" height="3.21" fill="#ff6565"/>
<rect x="446.87" y="130.71" width="3.22" height="3.21" fill="#ff6a6a"/>
<rect x="449.79" y="130.71" width="3.22" height="3.21" fill="#ff7070"/>
<rect x="452.70" y="130.71" width="3.22" height="3.21" fill="#ff7a7a"/>
<rect x="455.62" y="130.71" width="3.22" height="3.21" fill="#ff8080"/>
<rect x="458.54" y="130.71" width="3.22" height="3.21" fill="#ff8a8a"/>
<rect x="461.45" y="130.71" width="3.22" height="3.21" fill="#ff8f8f"/>
<rect x="464.37" y="130.71" width="3.22" height="3.21" fill="#ff9595"/>
<rect x="467.28" y="130.71" width="3.22" height="3.21" fill="#ff9f9f"/>
<rect x="470.20" y="130.71" width="3.22" height="3.21" fill="#ffaaaa"/>
<rect x="473.11" y="130.71" width="3.22" height="3.21" fill="#ffafaf"/>
<rect x="476.03" y="130.71" width="3.22" height="3.21" fill="#ffbaba"/>
<rect x="478.95" y="130.71" width="3.22" height="3.21" fill="#ffc5c5"/>
<rect x="481.86" y="130.71" width="3.22" height="3.21" fill="#ffcfcf"/>
<rect x="484.78" y="130.71" width="3.22" height="3.21" fill="#ffdada"/>
<rect x="487.69" y="130.71" width="3.22" height="3.21" fill="#ffe4e4"/>
<rect x="490.61" y="130.71" width="3.22" height="3.21" fill="#ffefef"/>
<rect x="493.52" y="130.71" width="3.22" height="3.21" fill="#fffafa"/>
<rect x="496.44" y="130.71" width="3.22" height="3.21" fill="#ffffff"/>
<rect x="499.36" y="130.71" width="3.22" height="3.21" fill="#fafaff"/>
<rect x="502.27" y="130.71" width="3.22" height="3.21" fill="#f4f4ff"/>
<rect x="505.19" y="130.71" width="3.22" height="3.21" fill="#efefff"/>
<rect x="508.10" y="130.71" width="6.13" height="3.21" fill="#eaeaff"/>
<rect x="513.93" y="130.71" width="3.22" height="3.21" fill="#e4e4ff"/>
<rect x="516.85" y="130.71" width="3.22" height="3.21" fill="#dfdfff"/>
<rect x="519.77" y="130.71" width="6.13" height="3.21" fill="#dadaff"/>
<rect x="525.60" y="130.71" width="6.13" height="3.21" fill="#d4d4ff"/>
<rect x="531.43" y="130.71" width="6.13" height="3.21" fill="#cfcfff"/>
<rect x="537.26" y="130.71" width="3.22" height="3.21" fill="#cacaff"/>
<rect x="540.18" y="130.71" width="3.22" height="3.21" fill="#c5c5ff"/>
<rect x="543.09" y="130.71" width="3.22" height="3.21" fill="#bfbfff"/>
<rect x="546.01" y="130.71" width="3.22" height="3.21" fill="#babaff"/>
<rect x="414.80" y="127.80" width="6.13" height="3.21" fill="#ff2b2b"/>
<rect x="420.63" y="127.80" width="3.22" height="3.21" fill="#ff3030"/>
<rect x="423.55" y="127.80" width="3.22" height="3.21" fill="#ff3535"/>
<rect x="426.46" y="127.80" width="3.22" height="3.21" fill="#ff3a3a"/>
<rect x="429.38" y="127.80" width="3.22" height="3.21" fill="#ff4040"/>
<rect x="432.29" y="127.80" width="3.22" height="3.21" fill="#ff4545"/>
<rect x="435.21" y="127.80" width="3.22" height="3.21" fill="#ff4a4a"/>
<rect x="438.13" y="127.80" width="3.22" height="3.21" fill="#ff5555"/>
<rect x="441.04" y="127.80" width="3.22" height="3.21" fill="#ff5a5a"/>
<rect x="443.96" y="127.80" width="3.22" height="3.21" fill="#ff6060"/>
<rect x="446.87" y="127.80" width="3.22" height="3.21" fill="#ff6565"/>
<rect x="449.79" y="127.80" width="3.22" height="3.21" fill="#ff6a6a"/>
<rect x="452.70" y="127.80" width="3.22" height="3.21" fill="#ff7070"/>
<rect x="455.62" y="127.80" width="3.22" height="3.21" fill="#ff7575"/>
<rect x="458.54" y="127.80" width="3.22" height="3.21" fill="#ff8080"/>
<rect x="461.45" y="127.80" width="3.22" height="3.21" fill="#ff8585"/>
<rect x="464.37" y="127.80" width="3.22" height="3.21" fill="#ff8f8f"/>
<rect x="467.28" y="127.80" width="3.22" height="3.21" fill="#ff9595"/>
<rect x="470.20" y="127.80" width="3.22" height="3.21" fill="#ff9f9f"/>
<rect x="473.11" y="127.80" width="3.22" height="3.21" fill="#ffa5a5"/>
<rect x="476.03" y="127.80" width="3.22" height="3.21" fill="#ffafaf"/>
<rect x="478.95" y="127.80" width="3.22" height="3.21" fill="#ffb5b5"/>
<rect x="481.86" y="127.80" width="3.22" height="3.21" fill="#ffc5c5"/>
<rect x="484.78" y="127.80" width="3.22" height="3.21" fill="#ffcfcf"/>
<rect x="487.69" y="127.80" width="3.22" height="3.21" fill="#ffdada"/>
<rect x="490.61" y="127.80" width="3.22" height="3.21" fill="#ffe4e4"/>
<rect x="493.52" y="127.80" width="3.22" height="3.21" fill="#ffefef"/>
<rect x="496.44" y="127.80" width="3.22" height="3.21" fill="#fffafa"/>
<rect x="499.36" y="127.80" width="3.22" height="3.21" fill="#ffffff"/>
<rect x="502.27" y="127.80" width="3.22" height="3.21" fill="#fafaff"/>
<rect x="505.19" y="127.80" width="3.22" height="3.21" fill="#f4f4ff"/>
<rect x="508.10" y="127.80" width="3.22" height="3.21" fill="#efefff"/>
<rect x="511.02" y="127.80" width="6.13" height="3.21" fill="#eaeaff"/>
<rect x="516.85" y="127.80" width="3.22" height="3.21" fill="#e4e4ff"/>
<rect x="519.77" y="127.80" width="3.22" height="3.21" fill="#dfdfff"/>
<rect x="522.68" y="127.80" width="6.13" height="3.21" fill="#dadaff"/>
<rect x="528.51" y="127.80" width="6.13" height="3.21" fill="#d4d4ff"/>
<rect x="534.34" y="127.80" width="6.13" height="3.21" fill="#cfcfff"/>
<rect x="540.18" y="127.80" width="3.22" height="3.21" fill="#cacaff"/>
<rect x="543.09" y="127.80" width="3.22" height="3.21" fill="#bfbfff"/>
<rect x="414.80" y="124.89" width="11.96" height="3.21" fill="#ff2b2b"/>
<rect x="426.46" y="124.89" width="3.22" height="3.21" fill="#ff3030"/>
<rect x="429.38" y="124.89" width="3.22" height="3.21" fill="#ff3a3a"/>
<rect x="432.29" y="124.89" width="3.22" height="3.21" fill="#ff4040"/>
<rect x="435.21" y="124.89" width="3.22" height="3.21" fill="#ff4545"/>
<rect x="438.13" y="124.89" width="3.22" height="3.21" fill="#ff4a4a"/>
<rect x="441.04" y="124.89" width="3.22" height="3.21" fill="#ff5050"/>
<rect x="443.96" y="124.89" width="3.22" height="3.21" fill="#ff5555"/>
<rect x="446.87" y="124.89" width="3.22" height="3.21" fill="#ff5a5a"/>
<rect x="449.79" y="124.89" width="3.22" height="3.21" fill="#ff6060"/>
<rect x="452.70" y="124.89" width="3.22" height="3.21" fill="#ff6565"/>
<rect x="455.62" y="124.89" width="3.22" height="3.21" fill="#ff7070"/>
<rect x="458.54" y="124.89" width="3.22" height="3.21" fill="#ff7575"/>
<rect x="461.45" y="124.89" width="3.22" height="3.21" fill="#ff8080"/>
<rect x="464.37" y="124.89" width="3.22" height="3.21" fill="#ff8585"/>
<rect x="467.28" y="124.89" width="3.22" height="3.21" fill="#ff8f8f"/>
<rect x="470.20" y="124.89" width="3.22" height="3.21" fill="#ff9595"/>
<rect x="473.11" y="124.89" width="3.22" height="3.21" fill="#ff9f9f"/>
<rect x="476.03" y="124.89" width="3.22" height="3.21" fill="#ffa5a5"/>
<rect x="478.95" y="124.89" width="3.22" height="3.21" fill="#ffafaf"/>
<rect x="481.86" y="124.89" width="3.22" height="3.21" fill="#ffb5b5"/>
<rect x="484.78" y="124.89" width="3.22" height="3.21" fill="#ffbfbf"/>
<rect x="487.69" y="124.89" width="3.22" height="3.21" fill="#ffcfcf"/>
<rect x="490.61" y="124.89" width="3.22" height="3.21" fill="#ffdada"/>
<rect x="493.52" y="124.89" width="3.22" height="3.21" fill="#ffe4e4"/>
<rect x="496.44" y="124.89" width="3.22" height="3.21" fill="#ffefef"/>
<rect x="499.36" y="124.89" width="3.22" height="3.21" fill="#fffafa"/>
<rect x="502.27" y="124.89" width="3.22" height="3.21" fill="#ffffff"/>
<rect x="505.19" y="124.89" width="3.22" height="3.21" fill="#fafaff"/>
<rect x="508.10" y="124.89" width="3.22" height="3.21" fill="#f4f4ff"/>
<rect x="511.02" y="124.89" width="3.22" height="3.21" fill="#efefff"/>
<rect x="513.93" y="124.89" width="6.13" height="3.21" fill="#eaeaff"/>
<rect x="519.77" y="124.89" width="3.22" height="3.21" fill="#e4e4ff"/>
<rect x="522.68" y="124.89" width="3.22" height="3.21" fill="#dfdfff"/>
<rect x="525.60" y="124.89" width="6.13" height="3.21" fill="#dadaff"/>
<rect x="531.43" y="124.89" width="6.13" height="3.21" fill="#d4d4ff"/>
<rect x="537.26" y="124.89" width="3.22" height="3.21" fill="#cfcfff"/>
<rect x="540.18" y="124.89" width="3.22" height="3.21" fill="#cacaff"/>
<rect x="414.80" y="121.97" width="6.13" height="3.21" fill="#ff2525"/>
<rect x="420.63" y="121.97" width="9.05" height="3.21" fill="#ff2b2b"/>
<rect x="429.38" y="121.97" width="3.22" height="3.21" fill="#ff3030"/>
<rect x="432.29" y="121.97" width="3.22" height="3.21" fill="#ff3535"/>
<rect x="435.21" y="121.97" width="3.22" height="3.21" fill="#ff3a3a"/>
<rect x="438.13" y="121.97" width="3.22" height="3.21" fill="#ff4545"/>
<rect x="441.04" y="121.97" width="3.22" height="3.21" fill="#ff4a4a"/>
<rect x="443.96" y="121.97" width="3.22" height="3.21" fill="#ff5050"/>
<rect x="446.87" y="121.97" width="3.22" height="3.21" fill="#ff5555"/>
<rect x="449.79" y="121.97" width="3.22" height="3.21" fill="#ff5a5a"/>
<rect x="452.70" y="121.97" width="3.22" height="3.21" fill="#ff6060"/>
<rect x="455.62" y="121.97" width="3.22" height="3.21" fill="#ff6565"/>
<rect x="458.54" y="121.97" width="3.22" height="3.21" fill="#ff6a6a"/>
<rect x="461.45" y="121.97" width="3.22" height="3.21" fill="#ff7575"/>
<rect x="464.37" y="121.97" width="3.22" height="3.21" fill="#ff7a7a"/>
<rect x="467.28" y="121.97" width="3.22" height="3.21" fill="#ff8585"/>
<rect x="470.20" y="121.97" width="3.22" height="3.21" fill="#ff8a8a"/>
<rect x="473.11" y="121.97" width="3.22" height="3.21" fill="#ff9595"/>
<rect x="476.03" y="121.97" width="3.22" height="3.21" fill="#ff9f9f"/>
<rect x="478.95" y="121.97" width="3.22" height="3.21" fill="#ffa5a5"/>
<rect x="481.86" y="121.97" width="3.22" height="3.21" fill="#ffafaf"/>
<rect x="484.78" y="121.97" width="3.22" height="3.21" fill="#ffb5b5"/>
<rect x="487.69" y="121.97" width="3.22" height="3.21" fill="#ffbfbf"/>
<rect x="490.61" y="121.97" width="3.22" height="3.21" fill="#ffcfcf"/>
<rect x="493.52" y="121.97" width="3.22" height="3.21" fill="#ffdada"/>
<rect x="496.44" y="121.97" width="3.22" height="3.21" fill="#ffe4e4"/>
<rect x="499.36" y="121.97" width="3.22" height="3.21" fill="#ffefef"/>
<rect x="502.27" y="121.97" width="3.22" height="3.21" fill="#fffafa"/>
<rect x="505.19" y="121.97" width="3.22" height="3.21" fill="#ffffff"/>
<rect x="508.10" y="121.97" width="3.22" height="3.21" fill="#fafaff"/>
<rect x="511.02" y="121.97" width="3.22" height="3.21" fill="#f4f4ff"/>
<rect x="513.93" y="121.97" width="3.22" height="3.21" fill="#efefff"/>
<rect x="516.85" y="121.97" width="6.13" height="3.21" fill="#eaeaff"/>
<rect x="522.68" y="121.97" width="3.22" height="3.21" fill="#e4e4ff"/>
<rect x="525.60" y="121.97" width="3.22" height="3.21" fill="#dfdfff"/>
<rect x="528.51" y="121.97" width="6.13" height="3.21" fill="#dadaff"/>
<rect x="534.34" y="121.97" width="3.22" height="3.21" fill="#d4d4ff"/>
<rect x="537.26" y="121.97" width="3.22" height="3.21" fill="#cfcfff"/>
<rect x="414.80" y="119.06" width="3.22" height="3.21" fill="#ff3a3a"/>
<rect x="417.72" y="119.06" width="6.13" height="3.21" fill="#ff2525"/>
<rect x="423.55" y="119.06" width="9.05" height="3.21" fill="#ff2b2b"/>
<rect x="432.29" y="119.06" width="3.22" height="3.21" fill="#ff3030"/>
<rect x="435.21" y="119.06" width="3.22" height="3.21" fill="#ff3535"/>
<rect x="438.13" y="119.06" width="3.22" height="3.21" fill="#ff3a3a"/>
<rect x="441.04" y="119.06" width="3.22" height="3.21" fill="#ff4040"/>
<rect x="443.96" y="119.06" width="3.22" height="3.21" fill="#ff4a4a"/>
<rect x="446.87" y="119.06" width="3.22" height="3.21" fill="#ff5050"/>
<rect x="449.79" y="119.06" width="3.22" height="3.21" fill="#ff5555"/>
<rect x="452.70" y="119.06" width="3.22" height="3.21" fill="#ff5a5a"/>
<rect x="455.62" y="119.06" width="3.22" height="3.21" fill="#ff6060"/>
<rect x="458.54" y="119.06" width="3.22" height="3.21" fill="#ff6565"/>
<rect x="461.45" y="119.06" width="3.22" height="3.21" fill="#ff6a6a"/>
<rect x="464.37" y="119.06" width="3.22" height="3.21" fill="#ff7575"/>
<rect x="467.28" y="119.06" width="3.22" height="3.21" fill="#ff7a7a"/>
<rect x="470.20" y="119.06" width="3.22" height="3.21" fill="#ff8585"/>
<rect x="473.11" y="119.06" width="3.22" height="3.21" fill="#ff8a8a"/>
<rect x="476.03" y="119.06" width="3.22" height="3.21" fill="#ff9595"/>
<rect x="478.95" y="119.06" width="3.22" height="3.21" fill="#ff9a9a"/>
<rect x="481.86" y="119.06" width="3.22" height="3.21" fill="#ffa5a5"/>
<rect x="484.78" y="119.06" width="3.22" height="3.21" fill="#ffafaf"/>
<rect x="487.69" y="119.06" width="3.22" height="3.21" fill="#ffb5b5"/>
<rect x="490.61" y="119.06" width="3.22" height="3.21" fill="#ffbfbf"/>
<rect x="493.52" y="119.06" width="3.22" height="3.21" fill="#ffcfcf"/>
<rect x="496.44" y="119.06" width="3.22" height="3.21" fill="#ffdada"/>
<rect x="499.36" y="119.06" width="3.22" height="3.21" fill="#ffe4e4"/>
<rect x="502.27" y="119.06" width="3.22" height="3.21" fill="#ffefef"/>
<rect x="505.19" y="119.06" width="3.22" height="3.21" fill="#fffafa"/>
<rect x="508.10" y="119.06" width="3.22" height="3.21" fill="#ffffff"/>
<rect x="511.02" y="119.06" width="3.22" height="3.21" fill="#fafaff"/>
<rect x="513.93" y="119.06" width="3.22" height="3.21" fill="#f4f4ff"/>
<rect x="516.85" y="119.06" width="3.22" height="3.21" fill="#efefff"/>
<rect x="519.77" y="119.06" width="6.13" height="3.21" fill="#eaeaff"/>
<rect x="525.60" y="119.06" width="3.22" height="3.21" fill="#e4e4ff"/>
<rect x="528.51" y="119.06" width="3.22" height="3.21" fill="#dfdfff"/>
<rect x="531.43" y="119.06" width="3.22" height="3.21" fill="#dadaff"/>
<rect x="534.34" y="119.06" width="3.22" height="3.21" fill="#d4d4ff"/>
<rect x="414.80" y="116.14" width="6.13" height="3.21" fill="#ff2020"/>
<rect x="420.63" y="116.14" width="6.13" height="3.21" fill="#ff4040"/>
<rect x="426.46" y="116.14" width="9.05" height="3.21" fill="#ff2b2b"/>
<rect x="435.21" y="116.14" width="3.22" height="3.21" fill="#ff3030"/>
<rect x="438.13" y="116.14" width="3.22" height="3.21" fill="#ff3535"/>
<rect x="441.04" y="116.14" width="3.22" height="3.21" fill="#ff3a3a"/>
<rect x="443.96" y="116.14" width="3.22" height="3.21" fill="#ff4040"/>
<rect x="446.87" y="116.14" width="3.22" height="3.21" fill="#ff4545"/>
<rect x="449.79" y="116.14" width="3.22" height="3.21" fill="#ff5050"/>
<rect x="452.70" y="116.14" width="3.22" height="3.21" fill="#ff5555"/>
<rect x="455.62" y="116.14" width="3.22" height="3.21" fill="#ff5a5a"/>
<rect x="458.54" y="116.14" width="3.22" height="3.21" fill="#ff6060"/>
<rect x="461.45" y="116.14" width="3.22" height="3.21" fill="#ff6565"/>
<rect x="464.37" y="116.14" width="3.22" height="3.21" fill="#ff6a6a"/>
<rect x="467.28" y="116.14" width="3.22" height="3.21" fill="#ff7575"/>
<rect x="470.20" y="116.14" width="3.22" height="3.21" fill="#ff7a7a"/>
<rect x="473.11" y="116.14" width="3.22" height="3.21" fill="#ff8585"/>
<rect x="476.03" y="116.14" width="3.22" height="3.21" fill="#ff8a8a"/>
<rect x="478.95" y="116.14" width="3.22" height="3.21" fill="#ff9595"/>
<rect x="481.86" y="116.14" width="3.22" height="3.21" fill="#ff9a9a"/>
<rect x="484.78" y="116.14" width="3.22" height="3.21" fill="#ffa5a5"/>
<rect x="487.69" y="116.14" width="3.22" height="3.21" fill="#ffafaf"/>
<rect x="490.61" y="116.14" width="3.22" height="3.21" fill="#ffb5b5"/>
<rect x="493.52" y="116.14" width="3.22" height="3.21" fill="#ffbfbf"/>
<rect x="496.44" y="116.14" width="3.22" height="3.21" fill="#ffcfcf"/>
<rect x="499.36" y="116.14" width="3.22" height="3.21" fill="#ffdada"/>
<rect x="502.27" y="116.14" width="3.22" height="3.21" fill="#ffe4e4"/>
<rect x="505.19" y="116.14" width="3.22" height="3.21" fill="#ffefef"/>
<rect x="508.10" y="116.14" width="3.22" height="3.21" fill="#fffafa"/>
<rect x="511.02" y="116.14" width="3.22" height="3.21" fill="#ffffff"/>
<rect x="513.93" y="116.14" width="3.22" height="3.21" fill="#fafaff"/>
<rect x="516.85" y="116.14" width="3.22" height="3.21" fill="#f4f4ff"/>
<rect x="519.77" y="116.14" width="3.22" height="3.21" fill="#efefff"/>
<rect x="522.68" y="116.14" width="6.13" height="3.21" fill="#eaeaff"/>
<rect x="528.51" y="116.14" width="3.22" height="3.21" fill="#e4e4ff"/>
<rect x="531.43" y="116.14" width="3.22" height="3.21" fill="#dadaff"/>
<rect x="414.80" y="113.23" width="3.22" height="3.21" fill="#ff1b1b"/>
<rect x="417.72" y="113.23" width="6.13" height="3.21" fill="#ff2020"/>
<rect x="423.55" y="113.23" width="3.22" height="3.21" fill="#ff3535"/>
<rect x="426.46" y="113.23" width="6.13" height="3.21" fill="#ff2525"/>
<rect x="432.29" y="113.23" width="6.13" height="3.21" fill="#ff2b2b"/>
<rect x="438.13" y="113.23" width="3.22" height="3.21" fill="#ff3030"/>
<rect x="441.04" y="113.23" width="3.22" height="3.21" fill="#ff3535"/>
<rect x="443.96" y="113.23" width="3.22" height="3.21" fill="#ff3a3a"/>
<rect x="446.87" y="113.23" width="3.22" height="3.21" fill="#ff4040"/>
<rect x="449.79" y="113.23" width="3.22" height="3.21" fill="#ff4545"/>
<rect x="452.70" y="113.23" width="3.22" height="3.21" fill="#ff5050"/>
<rect x="455.62" y="113.23" width="3.22" height="3.21" fill="#ff5555"/>
<rect x="458.54" y="113.23" width="3.22" height="3.21" fill="#ff5a5a"/>
<rect x="461.45" y="113.23" width="3.22" height="3.21" fill="#ff6060"/>
<rect x="464.37" y="113.23" width="3.22" height="3.21" fill="#ff6565"/>
<rect x="467.28" y="113.23" width="3.22" height="3.21" fill="#ff6a6a"/>
<rect x="470.20" y="113.23" width="3.22" height="3.21" fill="#ff7575"/>
<rect x="473.11" y="113.23" width="3.22" height="3.21" fill="#ff7a7a"/>
<rect x="476.03" y="113.23" width="3.22" height="3.21" fill="#ff8585"/>
<rect x="478.95" y="113.23" width="3.22" height="3.21" fill="#ff8a8a"/>
<rect x="481.86" y="113.23" width="3.22" height="3.21" fill="#ff9595"/>
<rect x="484.78" y="113.23" width="3.22" height="3.21" fill="#ff9a9a"/>
<rect x="487.69" y="113.23" width="3.22" height="3.21" fill="#ffa5a5"/>
<rect x="490.61" y="113.23" width="3.22" height="3.21" fill="#ffafaf"/>
<rect x="493.52" y="113.23" width="3.22" height="3.21" fill="#ffb5b5"/>
<rect x="496.44" y="113.23" width="3.22" height="3.21" fill="#ffbfbf"/>
<rect x="499.36" y="113.23" width="3.22" height="3.21" fill="#ffcfcf"/>
<rect x="502.27" y="113.23" width="3.22" height="3.21" fill="#ffdada"/>
<rect x="505.19" y="113.23" width="3.22" height="3.21" fill="#ffe4e4"/>
<rect x="508.10" y="113.23" width="3.22" height="3.21" fill="#ffefef"/>
<rect x="511.02" y="113.23" width="3.22" height="3.21" fill="#fffafa"/>
<rect x="513.93" y="113.23" width="3.22" height="3.21" fill="#ffffff"/>
<rect x="516.85" y="113.23" width="3.22" height="3.21" fill="#fafaff"/>
<rect x="519.77" y="113.23" width="3.22" height="3.21" fill="#f4f4ff"/>
<rect x="522.68" y="113.23" width="3.22" height="3.21" fill="#efefff"/>
<rect x="525.60" y="113.23" width="3.22" height="3.21" fill="#eaeaff"/>
<rect x="528.51" y="113.23" width="3.22" height="3.21" fill="#e4e4ff"/>
<rect x="414.80" y="110.31" width="6.13" height="3.21" fill="#ff1b1b"/>
<rect x="420.63" y="110.31" width="6.13" height="3.21" fill="#ff2020"/>
<rect x="426.46" y="110.31" width="9.05" height="3.21" fill="#ff2525"/>
<rect x="435.21" y="110.31" width="9.05" height="3.21" fill="#ff2b2b"/>
<rect x="443.96" y="110.31" width="3.22" height="3.21" fill="#ff3535"/>
<rect x="446.87" y="110.31" width="3.22" height="3.21" fill="#ff3a3a"/>
<rect x="449.79" y="110.31" width="3.22" height="3.21" fill="#ff4040"/>
<rect x="452.70" y="110.31" width="3.22" height="3.21" fill="#ff4545"/>
<rect x="455.62" y="110.31" width="3.22" height="3.21" fill="#ff5050"/>
<rect x="458.54" y="110.31" width="3.22" height="3.21" fill="#ff5555"/>
<rect x="461.45" y="110.31" width="3.22" height="3.21" fill="#ff5a5a"/>
<rect x="464.37" y="110.31" width="3.22" height="3.21" fill="#ff6060"/>
<rect x="467.28" y="110.31" width="3.22" height="3.21" fill="#ff6565"/>
<rect x="470.20" y="110.31" width="3.22" height="3.21" fill="#ff6a6a"/>
<rect x="473.11" y="110.31" width="3.22" height="3.21" fill="#ff7575"/>
<rect x="476.03" y="110.31" width="3.22" height="3.21" fill="#ff7a7a"/>
<rect x="478.95" y="110.31" width="3.22" height="3.21" fill="#ff8585"/>
<rect x="481.86" y="110.31" width="3.22" height="3.21" fill="#ff8a8a"/>
<rect x="484.78" y="110.31" width="3.22" height="3.21" fill="#ff9595"/>
<rect x="487.69" y="110.31" width="3.22" height="3.21" fill="#ff9a9a"/>
<rect x="490.61" y="110.31" width="3.22" height="3.21" fill="#ffa5a5"/>
<rect x="493.52" y="110.31" width="3.22" height="3.21" fill="#ffafaf"/>
<rect x="496.44" y="110.31" width="3.22" height="3.21" fill="#ffb5b5"/>
<rect x="499.36" y="110.31" width="3.22" height="3.21" fill="#ffbfbf"/>
<rect x="502.27" y="110.31" width="3.22" height="3.21" fill="#ffcfcf"/>
<rect x="505.19" y="110.31" width="3.22" height="3.21" fill="#ffdada"/>
<rect x="508.10" y="110.31" width="3.22" height="3.21" fill="#ffe4e4"/>
<rect x="511.02" y="110.31" width="3.22" height="3.21" fill="#ffefef"/>
<rect x="513.93" y="110.31" width="3.22" height="3.21" fill="#fffafa"/>
<rect x="516.85" y="110.31" width="3.22" height="3.21" fill="#ffffff"/>
<rect x="519.77" y="110.31" width="3.22" height="3.21" fill="#fafaff"/>
<rect x="522.68" y="110.31" width="3.22" height="3.21" fill="#f4f4ff"/>
<rect x="525.60" y="110.31" width="3.22" height="3.21" fill="#eaeaff"/>
<rect x="414.80" y="107.40" width="3.22" height="3.21" fill="#ff1515"/>
<rect x="417.72" y="107.40" width="3.22" height="3.21" fill="#ff1b1b"/>
<rect x="420.63" y="107.40" width="3.22" height="3.21" fill="#ff3030"/>
<rect x="423.55" y="107.40" width="9.05" height="3.21" fill="#ff2020"/>
<rect x="432.29" y="107.40" width="6.13" height="3.21" fill="#ff2525"/>
<rect x="438.13" y="107.40" width="9.05" height="3.21" fill="#ff2b2b"/>
<rect x="446.87" y="107.40" width="3.22" height="3.21" fill="#ff3535"/>
<rect x="449.79" y="107.40" width="3.22" height="3.21" fill="#ff3a3a"/>
<rect x="452.70" y="107.40" width="3.22" height="3.21" fill="#ff4040"/>
<rect x="455.62" y="107.40" width="3.22" height="3.21" fill="#ff4545"/>
<rect x="458.54" y="107.40" width="3.22" height="3.21" fill="#ff5050"/>
<rect x="461.45" y="107.40" width="3.22" height="3.21" fill="#ff5555"/>
<rect x="464.37" y="107.40" width="3.22" height="3.21" fill="#ff5a5a"/>
<rect x="467.28" y="107.40" width="3.22" height="3.21" fill="#ff6060"/>
<rect x="470.20" y="107.40" width="3.22" height="3.21" fill="#ff6565"/>
<rect x="473.11" y="107.40" width="3.22" height="3.21" fill="#ff6a6a"/>
<rect x="476.03" y="107.40" width="3.22" height="3.21" fill="#ff7575"/>
<rect x="478.95" y="107.40" width="3.22" height="3.21" fill="#ff7a7a"/>
<rect x="481.86" y="107.40" width="3.22" height="3.21" fill="#ff8585"/>
<rect x="484.78" y="107.40" width="3.22" height="3.21" fill="#ff8a8a"/>
<rect x="487.69" y="107.40" width="3.22" height="3.21" fill="#ff9595"/>
<rect x="490.61" y="107.40" width="3.22" height="3.21" fill="#ff9a9a"/>
<rect x="493.52" y="107.40" width="3.22" height="3.21" fill="#ffa5a5"/>
<rect x="496.44" y="107.40" width="3.22" height="3.21" fill="#ffafaf"/>
<rect x="499.36" y="107.40" width="3.22" height="3.21" fill="#ffb5b5"/>
<rect x="502.27" y="107.40" width="3.22" height="3.21" fill="#ffbfbf"/>
<rect x="505.19" y="107.40" width="3.22" height="3.21" fill="#ffcfcf"/>
<rect x="508.10" y="107.40" width="3.22" height="3.21" fill="#ffdada"/>
<rect x="511.02" y="107.40" width="3.22" height="3.21" fill="#ffe4e4"/>
<rect x="513.93" y="107.40" width="3.22" height="3.21" fill="#ffefef"/>
<rect x="516.85" y="107.40" width="3.22" height="3.21" fill="#fffafa"/>
<rect x="519.77" y="107.40" width="3.22" height="3.21" fill="#fafaff"/>
<rect x="522.68" y="107.40" width="3.22" height="3.21" fill="#f4f4ff"/>
<rect x="414.80" y="104.49" width="6.13" height="3.21" fill="#ff1515"/>
<rect x="420.63" y="104.49" width="6.13" height="3.21" fill="#ff1b1b"/>
<rect x="426.46" y="104.49" width="9.05" height="3.21" fill="#ff2020"/>
<rect x="435.21" y="104.49" width="3.22" height="3.21" fill="#ff3030"/>
<rect x="438.13" y="104.49" width="3.22" height="3.21" fill="#ff2525"/>
<rect x="441.04" y="104.49" width="3.22" height="3.21" fill="#ff4545"/>
<rect x="443.96" y="104.49" width="6.13" height="3.21" fill="#ff2b2b"/>
<rect x="449.79" y="104.49" width="3.22" height="3.21" fill="#ff3535"/>
<rect x="452.70" y="104.49" width="3.22" height="3.21" fill="#ff3a3a"/>
<rect x="455.62" y="104.49" width="3.22" height="3.21" fill="#ff4040"/>
<rect x="458.54" y="104.49" width="3.22" height="3.21" fill="#ff4545"/>
<rect x="461.45" y="104.49" width="3.22" height="3.21" fill="#ff5050"/>
<rect x="464.37" y="104.49" width="3.22" height="3.21" fill="#ff5555"/>
<rect x="467.28" y="104.49" width="3.22" height="3.21" fill="#ff5a5a"/>
<rect x="470.20" y="104.49" width="3.22" height="3.21" fill="#ff6060"/>
<rect x="473.11" y="104.49" width="3.22" height="3.21" fill="#ff6565"/>
<rect x="476.03" y="104.49" width="3.22" height="3.21" fill="#ff6a6a"/>
<rect x="478.95" y="104.49" width="3.22" height="3.21" fill="#ff7575"/>
<rect x="481.86" y="104.49" width="3.22" height="3.21" fill="#ff7a7a"/>
<rect x="484.78" y="104.49" width="3.22" height="3.21" fill="#ff8585"/>
<rect x="487.69" y="104.49" width="3.22" height="3.21" fill="#ff8a8a"/>
<rect x="490.61" y="104.49" width="3.22" height="3.21" fill="#ff9595"/>
<rect x="493.52" y="104.49" width="3.22" height="3.21" fill="#ff9a9a"/>
<rect x="496.44" y="104.49" width="3.22" height="3.21" fill="#ffa5a5"/>
<rect x="499.36" y="104.49" width="3.22" height="3.21" fill="#ffafaf"/>
<rect x="502.27" y="104.49" width="3.22" height="3.21" fill="#ffb5b5"/>
<rect x="505.19" y="104.49" width="3.22" height="3.21" fill="#ffbfbf"/>
<rect x="508.10" y="104.49" width="3.22" height="3.21" fill="#ffcfcf"/>
<rect x="511.02" y="104.49" width="3.22" height="3.21" fill="#ffdada"/>
<rect x="513.93" y="104.49" width="3.22" height="3.21" fill="#ffe4e4"/>
<rect x="516.85" y="104.49" width="3.22" height="3.21" fill="#fff4f4"/>
<rect x="519.77" y="104.49" width="3.22" height="3.21" fill="#fafaff"/>
<rect x="414.80" y="101.57" width="3.22" height="3.21" fill="#ff2020"/>
<rect x="417.72" y="101.57" width="3.22" height="3.21" fill="#ff1515"/>
<rect x="420.63" y="101.57" width="3.22" height="3.21" fill="#ff3535"/>
<rect x="423.55" y="101.57" width="3.22" height="3.21" fill="#ff1b1b"/>
<rect x="426.46" y="101.57" width="3.22" height="3.21" fill="#ff2525"/>
<rect x="429.38" y="101.57" width="9.05" height="3.21" fill="#ff2020"/>
<rect x="438.13" y="101.57" width="6.13" height="3.21" fill="#ff2525"/>
<rect x="443.96" y="101.57" width="9.05" height="3.21" fill="#ff2b2b"/>
<rect x="452.70" y="101.57" width="3.22" height="3.21" fill="#ff3535"/>
<rect x="455.62" y="101.57" width="3.22" height="3.21" fill="#ff3a3a"/>
<rect x="458.54" y="101.57" width="3.22" height="3.21" fill="#ff4040"/>
<rect x="461.45" y="101.57" width="3.22" height="3.21" fill="#ff4545"/>
<rect x="464.37" y="101.57" width="3.22" height="3.21" fill="#ff5050"/>
<rect x="467.28" y="101.57" width="3.22" height="3.21" fill="#ff5555"/>
<rect x="470.20" y="101.57" width="3.22" height="3.21" fill="#ff5a5a"/>
<rect x="473.11" y="101.57" width="3.22" height="3.21" fill="#ff6060"/>
<rect x="476.03" y="101.57" width="3.22" height="3.21" fill="#ff6565"/>
<rect x="478.95" y="101.57" width="3.22" height="3.21" fill="#ff6a6a"/>
<rect x="481.86" y="101.57" width="3.22" height="3.21" fill="#ff7575"/>
<rect x="484.78" y="101.57" width="3.22" height="3.21" fill="#ff7a7a"/>
<rect x="487.69" y="101.57" width="3.22" height="3.21" fill="#ff8585"/>
<rect x="490.61" y="101.57" width="3.22" height="3.21" fill="#ff8a8a"/>
<rect x="493.52" y="101.57" width="3.22" height="3.21" fill="#ff9595"/>
<rect x="496.44" y="101.57" width="3.22" height="3.21" fill="#ff9a9a"/>
<rect x="499.36" y="101.57" width="3.22" height="3.21" fill="#ffa5a5"/>
<rect x="502.27" y="101.57" width="3.22" height="3.21" fill="#ffafaf"/>
<rect x="505.19" y="101.57" width="3.22" height="3.21" fill="#ffb5b5"/>
<rect x="508.10" y="101.57" width="3.22" height="3.21" fill="#ffbfbf"/>
<rect x="511.02" y="101.57" width="3.22" height="3.21" fill="#ffcfcf"/>
<rect x="513.93" y="101.57" width="3.22" height="3.21" fill="#ffdada"/>
<rect x="516.85" y="101.57" width="3.22" height="3.21" fill="#fff4f4"/>
<rect x="414.80" y="98.66" width="3.22" height="3.21" fill="#ff1515"/>
<rect x="417.72" y="98.66" width="3.22" height="3.21" fill="#ff2b2b"/>
<rect x="420.63" y="98.66" width="6.13" height="3.21" fill="#ff1515"/>
<rect x="426.46" y="98.66" width="6.13" height="3.21" fill="#ff1b1b"/>
<rect x="432.29" y="98.66" width="9.05" height="3.21" fill="#ff2020"/>
<rect x="441.04" y="98.66" width="6.13" height="3.21" fill="#ff2525"/>
<rect x="446.87" y="98.66" width="6.13" height="3.21" fill="#ff2b2b"/>
<rect x="452.70" y="98.66" width="3.22" height="3.21" fill="#ff5050"/>
<rect x="455.62" y="98.66" width="3.22" height="3.21" fill="#ff3535"/>
<rect x="458.54" y="98.66" width="3.22" height="3.21" fill="#ff3a3a"/>
<rect x="461.45" y="98.66" width="3.22" height="3.21" fill="#ff4040"/>
<rect x="464.37" y="98.66" width="3.22" height="3.21" fill="#ff4545"/>
<rect x="467.28" y="98.66" width="3.22" height="3.21" fill="#ff5050"/>
<rect x="470.20" y="98.66" width="3.22" height="3.21" fill="#ff5555"/>
<rect x="473.11" y="98.66" width="3.22" height="3.21" fill="#ff5a5a"/>
<rect x="476.03" y="98.66" width="3.22" height="3.21" fill="#ff6060"/>
<rect x="478.95" y="98.66" width="3.22" height="3.21" fill="#ff6565"/>
<rect x="481.86" y="98.66" width="3.22" height="3.21" fill="#ff6a6a"/>
<rect x="484.78" y="98.66" width="3.22" height="3.21" fill="#ff7575"/>
<rect x="487.69" y="98.66" width="3.22" height="3.21" fill="#ff7a7a"/>
<rect x="490.61" y="98.66" width="3.22" height="3.21" fill="#ff8585"/>
<rect x="493.52" y="98.66" width="3.22" height="3.21" fill="#ff8a8a"/>
<rect x="496.44" y="98.66" width="3.22" height="3.21" fill="#ff9595"/>
<rect x="499.36" y="98.66" width="3.22" height="3.21" fill="#ff9a9a"/>
<rect x="502.27" y="98.66" width="3.22" height="3.21" fill="#ffa5a5"/>
<rect x="505.19" y="98.66" width="3.22" height="3.21" fill="#ffafaf"/>
<rect x="508.10" y="98.66" width="3.22" height="3.21" fill="#ffb5b5"/>
<rect x="511.02" y="98.66" width="3.22" height="3.21" fill="#ffc5c5"/>
<rect x="513.93" y="98.66" width="3.22" height="3.21" fill="#ffdada"/>
<rect x="414.80" y="95.74" width="3.22" height="3.21" fill="#ff2b2b"/>
<rect x="417.72" y="95.74" width="11.96" height="3.21" fill="#ff1515"/>
<rect x="429.38" y="95.74" width="6.13" height="3.21" fill="#ff1b1b"/>
<rect x="435.21" y="95.74" width="9.05" height="3.21" fill="#ff2020"/>
<rect x="443.96" y="95.74" width="6.13" height="3.21" fill="#ff2525"/>
<rect x="449.79" y="95.74" width="9.05" height="3.21" fill="#ff2b2b"/>
<rect x="458.54" y="95.74" width="3.22" height="3.21" fill="#ff3535"/>
<rect x="461.45" y="95.74" width="3.22" height="3.21" fill="#ff3a3a"/>
<rect x="464.37" y="95.74" width="3.22" height="3.21" fill="#ff4040"/>
<rect x="467.28" y="95.74" width="3.22" height="3.21" fill="#ff4545"/>
<rect x="470.20" y="95.74" width="3.22" height="3.21" fill="#ff5050"/>
<rect x="473.11" y="95.74" width="3.22" height="3.21" fill="#ff5555"/>
<rect x="476.03" y="95.74" width="3.22" height="3.21" fill="#ff5a5a"/>
<rect x="478.95" y="95.74" width="3.22" height="3.21" fill="#ff6060"/>
<rect x="481.86" y="95.74" width="3.22" height="3.21" fill="#ff6565"/>
<rect x="484.78" y="95.74" width="3.22" height="3.21" fill="#ff6a6a"/>
<rect x="487.69" y="95.74" width="3.22" height="3.21" fill="#ff7575"/>
<rect x="490.61" y="95.74" width="3.22" height="3.21" fill="#ff7a7a"/>
<rect x="493.52" y="95.74" width="3.22" height="3.21" fill="#ff8585"/>
<rect x="496.44" y="95.74" width="3.22" height="3.21" fill="#ff8a8a"/>
<rect x="499.36" y="95.74" width="3.22" height="3.21" fill="#ff9595"/>
<rect x="502.27" y="95.74" width="3.22" height="3.21" fill="#ff9a9a"/>
<rect x="505.19" y="95.74" width="3.22" height="3.21" fill="#ffa5a5"/>
<rect x="508.10" y="95.74" width="3.22" height="3.21" fill="#ffafaf"/>
<rect x="511.02" y="95.74" width="3.22" height="3.21" fill="#ffc5c5"/>
<rect x="414.80" y="92.83" width="17.79" height="3.21" fill="#ff1515"/>
<rect x="432.29" y="92.83" width="6.13" height="3.21" fill="#ff1b1b"/>
<rect x="438.13" y="92.83" width="3.22" height="3.21" fill="#ff2020"/>
<rect x="441.04" y="92.83" width="3.22" height="3.21" fill="#ff3535"/>
<rect x="443.96" y="92.83" width="3.22" height="3.21" fill="#ff2020"/>
<rect x="446.87" y="92.83" width="6.13" height="3.21" fill="#ff2525"/>
<rect x="452.70" y="92.83" width="6.13" height="3.21" fill="#ff4a4a"/>
<rect x="458.54" y="92.83" width="3.22" height="3.21" fill="#ff2b2b"/>
<rect x="461.45" y="92.83" width="3.22" height="3.21" fill="#ff3535"/>
<rect x="464.37" y="92.83" width="3.22" height="3.21" fill="#ff3a3a"/>
<rect x="467.28" y="92.83" width="3.22" height="3.21" fill="#ff4040"/>
<rect x="470.20" y="92.83" width="3.22" height="3.21" fill="#ff4545"/>
<rect x="473.11" y="92.83" width="3.22" height="3.21" fill="#ff5050"/>
<rect x="476.03" y="92.83" width="3.22" height="3.21" fill="#ff5555"/>
<rect x="478.95" y="92.83" width="3.22" height="3.21" fill="#ff5a5a"/>
<rect x="481.86" y="92.83" width="3.22" height="3.21" fill="#ff6060"/>
<rect x="484.78" y="92.83" width="3.22" height="3.21" fill="#ff6565"/>
<rect x="487.69" y="92.83" width="3.22" height="3.21" fill="#ff6a6a"/>
<rect x="490.61" y="92.83" width="3.22" height="3.21" fill="#ff7575"/>
<rect x="493.52" y="92.83" width="3.22" height="3.21" fill="#ff7a7a"/>
<rect x="496.44" y="92.83" width="3.22" height="3.21" fill="#ff8585"/>
<rect x="499.36" y="92.83" width="3.22" height="3.21" fill="#ff8a8a"/>
<rect x="502.27" y="92.83" width="3.22" height="3.21" fill="#ff9595"/>
<rect x="505.19" y="92.83" width="3.22" height="3.21" fill="#ff9f9f"/>
<rect x="508.10" y="92.83" width="3.22" height="3.21" fill="#ffafaf"/>
<rect x="414.80" y="89.91" width="3.22" height="3.21" fill="#ff1515"/>
<rect x="417.72" y="89.91" width="3.22" height="3.21" fill="#ff2020"/>
<rect x="420.63" y="89.91" width="14.88" height="3.21" fill="#ff1515"/>
<rect x="435.21" y="89.91" width="6.13" height="3.21" fill="#ff1b1b"/>
<rect x="441.04" y="89.91" width="3.22" height="3.21" fill="#ff3030"/>
<rect x="443.96" y="89.91" width="6.13" height="3.21" fill="#ff2020"/>
<rect x="449.79" y="89.91" width="6.13" height="3.21" fill="#ff2525"/>
<rect x="455.62" y="89.91" width="9.05" height="3.21" fill="#ff2b2b"/>
<rect x="464.37" y="89.91" width="3.22" height="3.21" fill="#ff3535"/>
<rect x="467.28" y="89.91" width="3.22" height="3.21" fill="#ff3a3a"/>
<rect x="470.20" y="89.91" width="3.22" height="3.21" fill="#ff4040"/>
<rect x="473.11" y="89.91" width="3.22" height="3.21" fill="#ff4545"/>
<rect x="476.03" y="89.91" width="3.22" height="3.21" fill="#ff5050"/>
<rect x="478.95" y="89.91" width="3.22" height="3.21" fill="#ff5555"/>
<rect x="481.86" y="89.91" width="3.22" height="3.21" fill="#ff5a5a"/>
<rect x="484.78" y="89.91" width="3.22" height="3.21" fill="#ff6060"/>
<rect x="487.69" y="89.91" width="3.22" height="3.21" fill="#ff6565"/>
<rect x="490.61" y="89.91" width="3.22" height="3.21" fill="#ff6a6a"/>
<rect x="493.52" y="89.91" width="3.22" height="3.21" fill="#ff7575"/>
<rect x="496.44" y="89.91" width="3.22" height="3.21" fill="#ff7a7a"/>
<rect x="499.36" y="89.91" width="3.22" height="3.21" fill="#ff8585"/>
<rect x="502.27" y="89.91" width="3.22" height="3.21" fill="#ff8f8f"/>
<rect x="505.19" y="89.91" width="3.22" height="3.21" fill="#ff9f9f"/>
<rect x="414.80" y="87.00" width="3.22" height="3.21" fill="#ff1010"/>
<rect x="417.72" y="87.00" width="20.71" height="3.21" fill="#ff1515"/>
<rect x="438.13" y="87.00" width="6.13" height="3.21" fill="#ff1b1b"/>
<rect x="443.96" y="87.00" width="6.13" height="3.21" fill="#ff2020"/>
<rect x="449.79" y="87.00" width="3.22" height="3.21" fill="#ff4545"/>
<rect x="452.70" y="87.00" width="6.13" height="3.21" fill="#ff2525"/>
<rect x="458.54" y="87.00" width="9.05" height="3.21" fill="#ff2b2b"/>
<rect x="467.28" y="87.00" width="3.22" height="3.21" fill="#ff3535"/>
<rect x="470.20" y="87.00" width="3.22" height="3.21" fill="#ff3a3a"/>
<rect x="473.11" y="87.00" width="3.22" height="3.21" fill="#ff4040"/>
<rect x="476.03" y="87.00" width="3.22" height="3.21" fill="#ff4545"/>
<rect x="478.95" y="87.00" width="3.22" height="3.21" fill="#ff5050"/>
<rect x="481.86" y="87.00" width="3.22" height="3.21" fill="#ff5555"/>
<rect x="484.78" y="87.00" width="3.22" height="3.21" fill="#ff5a5a"/>
<rect x="487.69" y="87.00" width="3.22" height="3.21" fill="#ff6060"/>
<rect x="490.61" y="87.00" width="3.22" height="3.21" fill="#ff6565"/>
<rect x="493.52" y="87.00" width="3.22" height="3.21" fill="#ff6a6a"/>
<rect x="496.44" y="87.00" width="3.22" height="3.21" fill="#ff7575"/>
<rect x="499.36" y="87.00" width="3.22" height="3.21" fill="#ff8080"/>
<rect x="502.27" y="87.00" width="3.22" height="3.21" fill="#ff8f8f"/>
<rect x="414.80" y="84.09" width="3.22" height="3.21" fill="#ff2b2b"/>
<rect x="417.72" y="84.09" width="3.22" height="3.21" fill="#ff1010"/>
<rect x="420.63" y="84.09" width="11.96" height="3.21" fill="#ff1515"/>
<rect x="432.29" y="84.09" width="3.22" height="3.21" fill="#ff2b2b"/>
<rect x="435.21" y="84.09" width="6.13" height="3.21" fill="#ff1515"/>
<rect x="441.04" y="84.09" width="6.13" height="3.21" fill="#ff1b1b"/>
<rect x="446.87" y="84.09" width="9.05" height="3.21" fill="#ff2020"/>
<rect x="455.62" y="84.09" width="3.22" height="3.21" fill="#ff4545"/>
<rect x="458.54" y="84.09" width="3.22" height="3.21" fill="#ff3535"/>
<rect x="461.45" y="84.09" width="9.05" height="3.21" fill="#ff2b2b"/>
<rect x="470.20" y="84.09" width="3.22" height="3.21" fill="#ff3535"/>
<rect x="473.11" y="84.09" width="3.22" height="3.21" fill="#ff3a3a"/>
<rect x="476.03" y="84.09" width="3.22" height="3.21" fill="#ff4040"/>
<rect x="478.95" y="84.09" width="3.22" height="3.21" fill="#ff4545"/>
<rect x="481.86" y="84.09" width="3.22" height="3.21" fill="#ff5050"/>
<rect x="484.78" y="84.09" width="3.22" height="3.21" fill="#ff5555"/>
<rect x="487.69" y="84.09" width="3.22" height="3.21" fill="#ff5a5a"/>
<rect x="490.61" y="84.09" width="3.22" height="3.21" fill="#ff6060"/>
<rect x="493.52" y="84.09" width="3.22" height="3.21" fill="#ff6565"/>
<rect x="496.44" y="84.09" width="3.22" height="3.21" fill="#ff7070"/>
<rect x="499.36" y="84.09" width="3.22" height="3.21" fill="#ff8080"/>
<rect x="414.80" y="81.17" width="3.22" height="3.21" fill="#ff1010"/>
<rect x="417.72" y="81.17" width="3.22" height="3.21" fill="#ff3030"/>
<rect x="420.63" y="81.17" width="3.22" height="3.21" fill="#ff2b2b"/>
<rect x="423.55" y="81.17" width="20.71" height="3.21" fill="#ff1515"/>
<rect x="443.96" y="81.17" width="6.13" height="3.21" fill="#ff1b1b"/>
<rect x="449.79" y="81.17" width="9.05" height="3.21" fill="#ff2020"/>
<rect x="458.54" y="81.17" width="6.13" height="3.21" fill="#ff2525"/>
<rect x="464.37" y="81.17" width="9.05" height="3.21" fill="#ff2b2b"/>
<rect x="473.11" y="81.17" width="3.22" height="3.21" fill="#ff3535"/>
<rect x="476.03" y="81.17" width="3.22" height="3.21" fill="#ff3a3a"/>
<rect x="478.95" y="81.17" width="3.22" height="3.21" fill="#ff4040"/>
<rect x="481.86" y="81.17" width="3.22" height="3.21" fill="#ff4545"/>
<rect x="484.78" y="81.17" width="3.22" height="3.21" fill="#ff5050"/>
<rect x="487.69" y="81.17" width="3.22" height="3.21" fill="#ff5555"/>
<rect x="490.61" y="81.17" width="3.22" height="3.21" fill="#ff5a5a"/>
<rect x="493.52" y="81.17" width="3.22" height="3.21" fill="#ff6060"/>
<rect x="496.44" y="81.17" width="3.22" height="3.21" fill="#ff7070"/>
<rect x="414.80" y="78.26" width="11.96" height="3.21" fill="#ff1010"/>
<rect x="426.46" y="78.26" width="9.05" height="3.21" fill="#ff1515"/>
<rect x="435.21" y="78.26" width="3.22" height="3.21" fill="#ff2525"/>
<rect x="438.13" y="78.26" width="6.13" height="3.21" fill="#ff1515"/>
<rect x="443.96" y="78.26" width="3.22" height="3.21" fill="#ff3535"/>
<rect x="446.87" y="78.26" width="6.13" height="3.21" fill="#ff1b1b"/>
<rect x="452.70" y="78.26" width="3.22" height="3.21" fill="#ff3030"/>
<rect x="455.62" y="78.26" width="3.22" height="3.21" fill="#ff2020"/>
<rect x="458.54" y="78.26" width="3.22" height="3.21" fill="#ff3030"/>
<rect x="461.45" y="78.26" width="6.13" height="3.21" fill="#ff2525"/>
<rect x="467.28" y="78.26" width="3.22" height="3.21" fill="#ff2b2b"/>
<rect x="470.20" y="78.26" width="3.22" height="3.21" fill="#ff4545"/>
<rect x="473.11" y="78.26" width="3.22" height="3.21" fill="#ff2b2b"/>
<rect x="476.03" y="78.26" width="3.22" height="3.21" fill="#ff3535"/>
<rect x="478.95" y="78.26" width="3.22" height="3.21" fill="#ff3a3a"/>
<rect x="481.86" y="78.26" width="3.22" height="3.21" fill="#ff4040"/>
<rect x="484.78" y="78.26" width="3.22" height="3.21" fill="#ff4545"/>
<rect x="487.69" y="78.26" width="3.22" height="3.21" fill="#ff5050"/>
<rect x="490.61" y="78.26" width="3.22" height="3.21" fill="#ff5555"/>
<rect x="493.52" y="78.26" width="3.22" height="3.21" fill="#ff6060"/>
<rect x="414.80" y="75.34" width="6.13" height="3.21" fill="#ff1010"/>
<rect x="420.63" y="75.34" width="3.22" height="3.21" fill="#ff2020"/>
<rect x="423.55" y="75.34" width="3.22" height="3.21" fill="#ff2b2b"/>
<rect x="426.46" y="75.34" width="3.22" height="3.21" fill="#ff1010"/>
<rect x="429.38" y="75.34" width="3.22" height="3.21" fill="#ff1515"/>
<rect x="432.29" y="75.34" width="3.22" height="3.21" fill="#ff2020"/>
<rect x="435.21" y="75.34" width="11.96" height="3.21" fill="#ff1515"/>
<rect x="446.87" y="75.34" width="3.22" height="3.21" fill="#ff2020"/>
<rect x="449.79" y="75.34" width="6.13" height="3.21" fill="#ff1b1b"/>
<rect x="455.62" y="75.34" width="9.05" height="3.21" fill="#ff2020"/>
<rect x="464.37" y="75.34" width="6.13" height="3.21" fill="#ff2525"/>
<rect x="470.20" y="75.34" width="3.22" height="3.21" fill="#ff2b2b"/>
<rect x="473.11" y="75.34" width="3.22" height="3.21" fill="#ff4545"/>
<rect x="476.03" y="75.34" width="3.22" height="3.21" fill="#ff2b2b"/>
<rect x="478.95" y="75.34" width="3.22" height="3.21" fill="#ff3535"/>
<rect x="481.86" y="75.34" width="3.22" height="3.21" fill="#ff3a3a"/>
<rect x="484.78" y="75.34" width="3.22" height="3.21" fill="#ff4040"/>
<rect x="487.69" y="75.34" width="3.22" height="3.21" fill="#ff4a4a"/>
<rect x="490.61" y="75.34" width="3.22" height="3.21" fill="#ff5555"/>
<rect x="414.80" y="72.43" width="17.79" height="3.21" fill="#ff1010"/>
<rect x="432.29" y="72.43" width="3.22" height="3.21" fill="#ff3535"/>
<rect x="435.21" y="72.43" width="17.79" height="3.21" fill="#ff1515"/>
<rect x="452.70" y="72.43" width="6.13" height="3.21" fill="#ff1b1b"/>
<rect x="458.54" y="72.43" width="9.05" height="3.21" fill="#ff2020"/>
<rect x="467.28" y="72.43" width="6.13" height="3.21" fill="#ff2525"/>
<rect x="473.11" y="72.43" width="9.05" height="3.21" fill="#ff2b2b"/>
<rect x="481.86" y="72.43" width="3.22" height="3.21" fill="#ff3535"/>
<rect x="484.78" y="72.43" width="3.22" height="3.21" fill="#ff3a3a"/>
<rect x="487.69" y="72.43" width="3.22" height="3.21" fill="#ff4a4a"/>
<rect x="414.80" y="69.51" width="14.88" height="3.21" fill="#ff1010"/>
<rect x="429.38" y="69.51" width="3.22" height="3.21" fill="#ff2525"/>
<rect x="432.29" y="69.51" width="3.22" height="3.21" fill="#ff1010"/>
<rect x="435.21" y="69.51" width="3.22" height="3.21" fill="#ff2525"/>
<rect x="438.13" y="69.51" width="17.79" height="3.21" fill="#ff1515"/>
<rect x="455.62" y="69.51" width="6.13" height="3.21" fill="#ff1b1b"/>
<rect x="461.45" y="69.51" width="9.05" height="3.21" fill="#ff2020"/>
<rect x="470.20" y="69.51" width="6.13" height="3.21" fill="#ff2525"/>
<rect x="476.03" y="69.51" width="6.13" height="3.21" fill="#ff2b2b"/>
<rect x="481.86" y="69.51" width="3.22" height="3.21" fill="#ff4a4a"/>
<rect x="484.78" y="69.51" width="3.22" height="3.21" fill="#ff3a3a"/>
<rect x="414.80" y="66.60" width="9.05" height="3.21" fill="#ff1010"/>
<rect x="423.55" y="66.60" width="3.22" height="3.21" fill="#ff2020"/>
<rect x="426.46" y="66.60" width="3.22" height="3.21" fill="#ff1010"/>
<rect x="429.38" y="66.60" width="3.22" height="3.21" fill="#ff2020"/>
<rect x="432.29" y="66.60" width="6.13" height="3.21" fill="#ff1010"/>
<rect x="438.13" y="66.60" width="17.79" height="3.21" fill="#ff1515"/>
<rect x="455.62" y="66.60" width="3.22" height="3.21" fill="#ff3030"/>
<rect x="458.54" y="66.60" width="3.22" height="3.21" fill="#ff1b1b"/>
<rect x="461.45" y="66.60" width="3.22" height="3.21" fill="#ff3a3a"/>
<rect x="464.37" y="66.60" width="9.05" height="3.21" fill="#ff2020"/>
<rect x="473.11" y="66.60" width="6.13" height="3.21" fill="#ff2525"/>
<rect x="478.95" y="66.60" width="3.22" height="3.21" fill="#ff4a4a"/>
<rect x="481.86" y="66.60" width="3.22" height="3.21" fill="#ff3030"/>
<rect x="414.80" y="63.69" width="26.54" height="3.21" fill="#ff1010"/>
<rect x="441.04" y="63.69" width="3.22" height="3.21" fill="#ff2525"/>
<rect x="443.96" y="63.69" width="3.22" height="3.21" fill="#ff2020"/>
<rect x="446.87" y="63.69" width="11.96" height="3.21" fill="#ff1515"/>
<rect x="458.54" y="63.69" width="3.22" height="3.21" fill="#ff3a3a"/>
<rect x="461.45" y="63.69" width="3.22" height="3.21" fill="#ff1b1b"/>
<rect x="464.37" y="63.69" width="3.22" height="3.21" fill="#ff3a3a"/>
<rect x="467.28" y="63.69" width="9.05" height="3.21" fill="#ff2020"/>
<rect x="476.03" y="63.69" width="3.22" height="3.21" fill="#ff2525"/>
<rect x="478.95" y="63.69" width="3.22" height="3.21" fill="#ff2b2b"/>
<rect x="414.80" y="60.77" width="17.79" height="3.21" fill="#ff1010"/>
<rect x="432.29" y="60.77" width="3.22" height="3.21" fill="#ff2b2b"/>
<rect x="435.21" y="60.77" width="6.13" height="3.21" fill="#ff1010"/>
<rect x="441.04" y="60.77" width="6.13" height="3.21" fill="#ff2b2b"/>
<rect x="446.87" y="60.77" width="17.79" height="3.21" fill="#ff1515"/>
<rect x="464.37" y="60.77" width="6.13" height="3.21" fill="#ff1b1b"/>
<rect x="470.20" y="60.77" width="6.13" height="3.21" fill="#ff2020"/>
<rect x="476.03" y="60.77" width="3.22" height="3.21" fill="#ff2525"/>
<rect x="414.80" y="57.86" width="3.22" height="3.21" fill="#ff3030"/>
<rect x="417.72" y="57.86" width="29.46" height="3.21" fill="#ff1010"/>
<rect x="446.87" y="57.86" width="11.96" height="3.21" fill="#ff1515"/>
<rect x="458.54" y="57.86" width="3.22" height="3.21" fill="#ff2020"/>
<rect x="461.45" y="57.86" width="6.13" height="3.21" fill="#ff1515"/>
<rect x="467.28" y="57.86" width="3.22" height="3.21" fill="#ff1b1b"/>
<rect x="470.20" y="57.86" width="3.22" height="3.21" fill="#ff3535"/>
<rect x="473.11" y="57.86" width="3.22" height="3.21" fill="#ff2b2b"/>
<rect x="414.80" y="54.94" width="26.54" height="3.21" fill="#ff1010"/>
<rect x="441.04" y="54.94" width="3.22" height="3.21" fill="#ff2020"/>
<rect x="443.96" y="54.94" width="6.13" height="3.21" fill="#ff1010"/>
<rect x="449.79" y="54.94" width="20.71" height="3.21" fill="#ff1515"/>
<rect x="470.20" y="54.94" width="3.22" height="3.21" fill="#ff1b1b"/>
<rect x="414.80" y="52.03" width="17.79" height="3.21" fill="#ff1010"/>
<rect x="432.29" y="52.03" width="3.22" height="3.21" fill="#ff3030"/>
<rect x="435.21" y="52.03" width="3.22" height="3.21" fill="#ff2020"/>
<rect x="438.13" y="52.03" width="14.88" height="3.21" fill="#ff1010"/>
<rect x="452.70" y="52.03" width="3.22" height="3.21" fill="#ff2020"/>
<rect x="455.62" y="52.03" width="3.22" height="3.21" fill="#ff1515"/>
<rect x="458.54" y="52.03" width="3.22" height="3.21" fill="#ff2525"/>
<rect x="461.45" y="52.03" width="9.05" height="3.21" fill="#ff1515"/>
<rect x="414.80" y="49.11" width="3.22" height="3.21" fill="#ff2525"/>
<rect x="417.72" y="49.11" width="6.13" height="3.21" fill="#ff1010"/>
<rect x="423.55" y="49.11" width="3.22" height="3.21" fill="#ff2b2b"/>
<rect x="426.46" y="49.11" width="29.46" height="3.21" fill="#ff1010"/>
<rect x="455.62" y="49.11" width="11.96" height="3.21" fill="#ff1515"/>
<rect x="414.80" y="46.20" width="38.20" height="3.21" fill="#ff1010"/>
<rect x="452.70" y="46.20" width="3.22" height="3.21" fill="#ff2b2b"/>
<rect x="455.62" y="46.20" width="3.22" height="3.21" fill="#ff1010"/>
<rect x="458.54" y="46.20" width="6.13" height="3.21" fill="#ff1515"/>
<rect x="414.80" y="43.29" width="6.13" height="3.21" fill="#ff1010"/>
<rect x="420.63" y="43.29" width="3.22" height="3.21" fill="#ff2525"/>
<rect x="423.55" y="43.29" width="3.22" height="3.21" fill="#ff1010"/>
<rect x="426.46" y="43.29" width="3.22" height="3.21" fill="#ff1b1b"/>
<rect x="429.38" y="43.29" width="6.13" height="3.21" fill="#ff1010"/>
<rect x="435.21" y="43.29" width="3.22" height="3.21" fill="#ff2b2b"/>
<rect x="438.13" y="43.29" width="3.22" height="3.21" fill="#ff3030"/>
<rect x="441.04" y="43.29" width="17.79" height="3.21" fill="#ff1010"/>
<rect x="458.54" y="43.29" width="3.22" height="3.21" fill="#ff1515"/>
<rect x="414.80" y="40.37" width="44.04" height="3.21" fill="#ff1010"/>
<rect x="414.80" y="37.46" width="20.71" height="3.21" fill="#ff1010"/>
<rect x="435.21" y="37.46" width="3.22" height="3.21" fill="#ff2b2b"/>
<rect x="438.13" y="37.46" width="17.79" height="3.21" fill="#ff1010"/>
<rect x="414.80" y="34.54" width="3.22" height="3.21" fill="#ff1010"/>
<rect x="417.72" y="34.54" width="3.22" height="3.21" fill="#ff2020"/>
<rect x="420.63" y="34.54" width="3.22" height="3.21" fill="#ff2b2b"/>
<rect x="423.55" y="34.54" width="6.13" height="3.21" fill="#ff1010"/>
<rect x="429.38" y="34.54" width="3.22" height="3.21" fill="#ff2525"/>
<rect x="432.29" y="34.54" width="6.13" height="3.21" fill="#ff1010"/>
<rect x="438.13" y="34.54" width="3.22" height="3.21" fill="#ff1b1b"/>
<rect x="441.04" y="34.54" width="11.96" height="3.21" fill="#ff1010"/>
<rect x="414.80" y="31.63" width="35.29" height="3.21" fill="#ff1010"/>
<rect x="414.80" y="28.71" width="17.79" height="3.21" fill="#ff1010"/>
<rect x="432.29" y="28.71" width="3.22" height="3.21" fill="#ff3030"/>
<rect x="435.21" y="28.71" width="11.96" height="3.21" fill="#ff1010"/>
<rect x="414.80" y="25.80" width="3.22" height="3.21" fill="#ff0b0b"/>
<rect x="417.72" y="25.80" width="3.22" height="3.21" fill="#ff6565"/>
<rect x="420.63" y="25.80" width="9.05" height="3.21" fill="#ff1010"/>
<rect x="429.38" y="25.80" width="3.22" height="3.21" fill="#ff2525"/>
<rect x="432.29" y="25.80" width="11.96" height="3.21" fill="#ff1010"/>
<rect x="414.80" y="22.89" width="6.13" height="3.21" fill="#ff0b0b"/>
<rect x="420.63" y="22.89" width="3.22" height="3.21" fill="#ff6565"/>
<rect x="423.55" y="22.89" width="3.22" height="3.21" fill="#ff1010"/>
<rect x="426.46" y="22.89" width="3.22" height="3.21" fill="#ff6565"/>
<rect x="429.38" y="22.89" width="11.96" height="3.21" fill="#ff1010"/>
<rect x="414.80" y="19.97" width="3.22" height="3.21" fill="#ff0b0b"/>
<rect x="417.72" y="19.97" width="3.22" height="3.21" fill="#ff3030"/>
<rect x="420.63" y="19.97" width="3.22" height="3.21" fill="#ff2525"/>
<rect x="423.55" y="19.97" width="3.22" height="3.21" fill="#fff4f4"/>
<rect x="426.46" y="19.97" width="3.22" height="3.21" fill="#ffd4d4"/>
<rect x="429.38" y="19.97" width="6.13" height="3.21" fill="#ff1010"/>
<rect x="435.21" y="19.97" width="3.22" height="3.21" fill="#ff2020"/>
<rect x="414.80" y="17.06" width="3.22" height="3.21" fill="#ff6565"/>
<rect x="417.72" y="17.06" width="3.22" height="3.21" fill="#fff4f4"/>
<rect x="420.63" y="17.06" width="3.22" height="3.21" fill="#ff0b0b"/>
<rect x="423.55" y="17.06" width="3.22" height="3.21" fill="#ffe4e4"/>
<rect x="426.46" y="17.06" width="9.05" height="3.21" fill="#ff1010"/>
<rect x="414.80" y="14.14" width="3.22" height="3.21" fill="#ff0b0b"/>
<rect x="417.72" y="14.14" width="3.22" height="3.21" fill="#ff2525"/>
<rect x="420.63" y="14.14" width="3.22" height="3.21" fill="#ff0b0b"/>
<rect x="423.55" y="14.14" width="3.22" height="3.21" fill="#ff6565"/>
<rect x="426.46" y="14.14" width="3.22" height="3.21" fill="#ff1010"/>
<rect x="429.38" y="14.14" width="3.22" height="3.21" fill="#ff2b2b"/>
<rect x="414.80" y="11.23" width="3.22" height="3.21" fill="#ff6565"/>
<rect x="417.72" y="11.23" width="3.22" height="3.21" fill="#ff3030"/>
<rect x="420.63" y="11.23" width="3.22" height="3.21" fill="#ff6565"/>
<rect x="423.55" y="11.23" width="3.22" height="3.21" fill="#ff0b0b"/>
<rect x="426.46" y="11.23" width="3.22" height="3.21" fill="#ff2020"/>
<rect x="414.80" y="8.31" width="3.22" height="3.21" fill="#ff3a3a"/>
<rect x="417.72" y="8.31" width="3.22" height="3.21" fill="#ffefef"/>
<rect x="420.63" y="8.31" width="6.13" height="3.21" fill="#ff0b0b"/>
<rect x="414.80" y="5.40" width="6.13" height="3.21" fill="#ff0b0b"/>
<rect x="420.63" y="5.40" width="3.22" height="3.21" fill="#ff3a3a"/>
</g>
<line x1="41.00" y1="141.00" x2="245.10" y2="209.00" stroke="#000" stroke-width="1.9" stroke-dasharray="3.7 3.4"/>
<line x1="414.80" y1="141.40" x2="618.90" y2="209.40" stroke="#000" stroke-width="1.9" stroke-dasharray="3.7 3.4"/>
<g stroke="#000" stroke-width="0.8" fill="none">
<rect x="41.00" y="5.00" width="204.10" height="204.00" fill="none" stroke="#000" stroke-width="0.8"/>
<line x1="81.82" y1="209.00" x2="81.82" y2="205.00"/>
<line x1="81.82" y1="5.00" x2="81.82" y2="9.00"/>
<line x1="41.00" y1="168.20" x2="45.00" y2="168.20"/>
<line x1="245.10" y1="168.20" x2="241.10" y2="168.20"/>
<line x1="122.64" y1="209.00" x2="122.64" y2="205.00"/>
<line x1="122.64" y1="5.00" x2="122.64" y2="9.00"/>
<line x1="41.00" y1="127.40" x2="45.00" y2="127.40"/>
<line x1="245.10" y1="127.40" x2="241.10" y2="127.40"/>
<line x1="163.46" y1="209.00" x2="163.46" y2="205.00"/>
<line x1="163.46" y1="5.00" x2="163.46" y2="9.00"/>
<line x1="41.00" y1="86.60" x2="45.00" y2="86.60"/>
<line x1="245.10" y1="86.60" x2="241.10" y2="86.60"/>
<line x1="204.28" y1="209.00" x2="204.28" y2="205.00"/>
<line x1="204.28" y1="5.00" x2="204.28" y2="9.00"/>
<line x1="41.00" y1="45.80" x2="45.00" y2="45.80"/>
<line x1="245.10" y1="45.80" x2="241.10" y2="45.80"/>
<rect x="414.80" y="5.40" width="204.10" height="204.00" fill="none" stroke="#000" stroke-width="0.8"/>
<line x1="455.62" y1="209.40" x2="455.62" y2="205.40"/>
<line x1="455.62" y1="5.40" x2="455.62" y2="9.40"/>
<line x1="414.80" y1="168.60" x2="418.80" y2="168.60"/>
<line x1="618.90" y1="168.60" x2="614.90" y2="168.60"/>
<line x1="496.44" y1="209.40" x2="496.44" y2="205.40"/>
<line x1="496.44" y1="5.40" x2="496.44" y2="9.40"/>
<line x1="414.80" y1="127.80" x2="418.80" y2="127.80"/>
<line x1="618.90" y1="127.80" x2="614.90" y2="127.80"/>
<line x1="537.26" y1="209.40" x2="537.26" y2="205.40"/>
<line x1="537.26" y1="5.40" x2="537.26" y2="9.40"/>
<line x1="414.80" y1="87.00" x2="418.80" y2="87.00"/>
<line x1="618.90" y1="87.00" x2="614.90" y2="87.00"/>
<line x1="578.08" y1="209.40" x2="578.08" y2="205.40"/>
<line x1="578.08" y1="5.40" x2="578.08" y2="9.40"/>
<line x1="414.80" y1="46.20" x2="418.80" y2="46.20"/>
<line x1="618.90" y1="46.20" x2="614.90" y2="46.20"/>
</g>
<linearGradient id="cb258" x1="0" y1="1" x2="0" y2="0"><stop offset="0" stop-color="#0000ff"/><stop offset="0.4286" stop-color="#ffffff"/><stop offset="1" stop-color="#ff0000"/></linearGradient>
<rect x="258.00" y="4.80" width="11.40" height="204.60" fill="url(#cb258)"/>
<rect x="258.00" y="4.80" width="11.40" height="204.60" fill="none" stroke="#000" stroke-width="0.9"/>
<line x1="266.80" y1="34.03" x2="269.40" y2="34.03" stroke="#000" stroke-width="0.7"/>
<line x1="266.80" y1="63.26" x2="269.40" y2="63.26" stroke="#000" stroke-width="0.7"/>
<line x1="266.80" y1="92.49" x2="269.40" y2="92.49" stroke="#000" stroke-width="0.7"/>
<line x1="266.80" y1="121.71" x2="269.40" y2="121.71" stroke="#000" stroke-width="0.7"/>
<line x1="266.80" y1="150.94" x2="269.40" y2="150.94" stroke="#000" stroke-width="0.7"/>
<line x1="266.80" y1="180.17" x2="269.40" y2="180.17" stroke="#000" stroke-width="0.7"/>
<linearGradient id="cb633" x1="0" y1="1" x2="0" y2="0"><stop offset="0" stop-color="#0000ff"/><stop offset="0.7778" stop-color="#ffffff"/><stop offset="1" stop-color="#ff0000"/></linearGradient>
<rect x="633.10" y="5.00" width="11.00" height="194.50" fill="url(#cb633)"/>
<polygon points="633.10,198.80 644.10,198.80 638.60,209.40" fill="#0000ff"/>
<path d="M633.10,5.00 L644.10,5.00 L644.10,199.50 L638.60,209.40 L633.10,199.50 Z" fill="none" stroke="#000" stroke-width="0.9"/>
<line x1="641.50" y1="5.00" x2="644.10" y2="5.00" stroke="#000" stroke-width="0.7"/>
<line x1="641.50" y1="26.61" x2="644.10" y2="26.61" stroke="#000" stroke-width="0.7"/>
<line x1="641.50" y1="48.22" x2="644.10" y2="48.22" stroke="#000" stroke-width="0.7"/>
<line x1="641.50" y1="69.83" x2="644.10" y2="69.83" stroke="#000" stroke-width="0.7"/>
<line x1="641.50" y1="91.44" x2="644.10" y2="91.44" stroke="#000" stroke-width="0.7"/>
<line x1="641.50" y1="113.06" x2="644.10" y2="113.06" stroke="#000" stroke-width="0.7"/>
<line x1="641.50" y1="134.67" x2="644.10" y2="134.67" stroke="#000" stroke-width="0.7"/>
<line x1="641.50" y1="156.28" x2="644.10" y2="156.28" stroke="#000" stroke-width="0.7"/>
<line x1="641.50" y1="177.89" x2="644.10" y2="177.89" stroke="#000" stroke-width="0.7"/>
<line x1="641.50" y1="199.50" x2="644.10" y2="199.50" stroke="#000" stroke-width="0.7"/>
<g font-family="Liberation Sans" font-size="10.60" fill="#000" letter-spacing="0.70">
<text x="41.20" y="219.90" text-anchor="middle">0.5</text>
<text x="38.40" y="211.80" text-anchor="end">0.0</text>
<text x="82.02" y="219.90" text-anchor="middle">0.6</text>
<text x="38.40" y="171.00" text-anchor="end">0.1</text>
<text x="122.84" y="219.90" text-anchor="middle">0.7</text>
<text x="38.40" y="130.20" text-anchor="end">0.2</text>
<text x="163.66" y="219.90" text-anchor="middle">0.8</text>
<text x="38.40" y="89.40" text-anchor="end">0.3</text>
<text x="204.48" y="219.90" text-anchor="middle">0.9</text>
<text x="38.40" y="48.60" text-anchor="end">0.4</text>
<text x="245.30" y="219.90" text-anchor="middle">1.0</text>
<text x="38.40" y="7.80" text-anchor="end">0.5</text>
<text x="415.00" y="220.30" text-anchor="middle">0.5</text>
<text x="412.20" y="212.20" text-anchor="end">0.0</text>
<text x="455.82" y="220.30" text-anchor="middle">0.6</text>
<text x="412.20" y="171.40" text-anchor="end">0.1</text>
<text x="496.64" y="220.30" text-anchor="middle">0.7</text>
<text x="412.20" y="130.60" text-anchor="end">0.2</text>
<text x="537.46" y="220.30" text-anchor="middle">0.8</text>
<text x="412.20" y="89.80" text-anchor="end">0.3</text>
<text x="578.28" y="220.30" text-anchor="middle">0.9</text>
<text x="412.20" y="49.00" text-anchor="end">0.4</text>
<text x="619.10" y="220.30" text-anchor="middle">1.0</text>
<text x="412.20" y="8.20" text-anchor="end">0.5</text>
<text x="271.80" y="7.60">0.07</text>
<text x="271.80" y="36.83">0.06</text>
<text x="271.80" y="66.06">0.05</text>
<text x="271.80" y="95.29">0.04</text>
<text x="271.80" y="124.51">0.03</text>
<text x="271.80" y="153.74">0.02</text>
<text x="271.80" y="182.97">0.01</text>
<text x="271.80" y="212.20">0.00</text>
</g>
<g fill="#000">
<text x="646.1" y="7.70" font-family="Liberation Sans" font-size="10.60">0</text>
<rect x="647.30" y="25.56" width="6.50" height="0.90"/>
<text x="655.4" y="29.31" font-family="Liberation Sans" font-size="10.60">1</text>
<rect x="647.30" y="47.17" width="6.50" height="0.90"/>
<text x="655.4" y="50.92" font-family="Liberation Sans" font-size="10.60">2</text>
<rect x="647.30" y="68.78" width="6.50" height="0.90"/>
<text x="655.4" y="72.53" font-family="Liberation Sans" font-size="10.60">3</text>
<rect x="647.30" y="90.39" width="6.50" height="0.90"/>
<text x="655.4" y="94.14" font-family="Liberation Sans" font-size="10.60">4</text>
<rect x="647.30" y="112.01" width="6.50" height="0.90"/>
<text x="655.4" y="115.76" font-family="Liberation Sans" font-size="10.60">5</text>
<rect x="647.30" y="133.62" width="6.50" height="0.90"/>
<text x="655.4" y="137.37" font-family="Liberation Sans" font-size="10.60">6</text>
<rect x="647.30" y="155.23" width="6.50" height="0.90"/>
<text x="655.4" y="158.98" font-family="Liberation Sans" font-size="10.60">7</text>
<rect x="647.30" y="176.84" width="6.50" height="0.90"/>
<text x="655.4" y="180.59" font-family="Liberation Sans" font-size="10.60">8</text>
<rect x="647.30" y="198.45" width="6.50" height="0.90"/>
<text x="655.4" y="202.20" font-family="Liberation Sans" font-size="10.60">9</text>
</g>
<g fill="#000" stroke="#000" stroke-width="0.1"><text x="114.85" y="28.81" font-family="Liberation Serif" font-size="13.60" font-style="italic">q</text>
<text x="121.85" y="32.02" font-family="Liberation Serif" font-size="9.40">3</text>
<rect x="133.20" y="22.93" width="10.60" height="0.85"/>
<rect x="133.20" y="26.18" width="10.60" height="0.85"/>
<text x="147.65" y="28.81" font-family="Liberation Serif" font-size="13.60" font-style="italic">q</text>
<text x="155.02" y="31.99" font-family="Liberation Serif" font-size="9.40">4</text>
<rect x="166.00" y="22.93" width="10.60" height="0.85"/>
<rect x="166.00" y="26.18" width="10.60" height="0.85"/>
<rect x="181.20" y="26.02" width="51.60" height="0.95"/>
<text x="180.97" y="21.20" font-family="Liberation Serif" font-size="10.60">1</text>
<rect x="189.80" y="17.30" width="6.60" height="0.80"/>
<text x="199.48" y="20.92" font-family="Liberation Serif" font-size="9.60" font-style="italic">q</text>
<text x="205.25" y="22.99" font-family="Liberation Serif" font-size="7.40">1</text>
<rect x="213.10" y="17.30" width="6.60" height="0.80"/>
<text x="222.78" y="20.92" font-family="Liberation Serif" font-size="9.60" font-style="italic">q</text>
<text x="228.47" y="23.00" font-family="Liberation Serif" font-size="7.40">2</text>
<text x="203.45" y="35.65" font-family="Liberation Serif" font-size="10.20">2</text>
<text x="172.58" y="61.40" font-family="Liberation Serif" font-size="14.00" font-style="italic">ϵ</text>
<text x="178.67" y="63.56" font-family="Liberation Serif" font-size="9.60" font-style="italic">i</text>
<rect x="187.80" y="55.78" width="10.50" height="0.85"/>
<rect x="187.80" y="59.28" width="10.50" height="0.85"/>
<text x="202.85" y="61.84" font-family="Liberation Serif" font-size="15.40">10</text>
<rect x="220.50" y="52.40" width="7.40" height="0.80"/>
<text x="229.28" y="55.86" font-family="Liberation Serif" font-size="9.60">2</text></g>
<g fill="#000" stroke="#000" stroke-width="0.1" transform="translate(373.80,0.40)"><text x="114.85" y="28.81" font-family="Liberation Serif" font-size="13.60" font-style="italic">q</text>
<text x="121.85" y="32.02" font-family="Liberation Serif" font-size="9.40">3</text>
<rect x="133.20" y="22.93" width="10.60" height="0.85"/>
<rect x="133.20" y="26.18" width="10.60" height="0.85"/>
<text x="147.65" y="28.81" font-family="Liberation Serif" font-size="13.60" font-style="italic">q</text>
<text x="155.02" y="31.99" font-family="Liberation Serif" font-size="9.40">4</text>
<rect x="166.00" y="22.93" width="10.60" height="0.85"/>
<rect x="166.00" y="26.18" width="10.60" height="0.85"/>
<rect x="181.20" y="26.02" width="51.60" height="0.95"/>
<text x="180.97" y="21.20" font-family="Liberation Serif" font-size="10.60">1</text>
<rect x="189.80" y="17.30" width="6.60" height="0.80"/>
<text x="199.48" y="20.92" font-family="Liberation Serif" font-size="9.60" font-style="italic">q</text>
<text x="205.25" y="22.99" font-family="Liberation Serif" font-size="7.40">1</text>
<rect x="213.10" y="17.30" width="6.60" height="0.80"/>
<text x="222.78" y="20.92" font-family="Liberation Serif" font-size="9.60" font-style="italic">q</text>
<text x="228.47" y="23.00" font-family="Liberation Serif" font-size="7.40">2</text>
<text x="203.45" y="35.65" font-family="Liberation Serif" font-size="10.20">2</text>
<text x="172.58" y="61.40" font-family="Liberation Serif" font-size="14.00" font-style="italic">ϵ</text>
<text x="178.67" y="63.56" font-family="Liberation Serif" font-size="9.60" font-style="italic">i</text>
<rect x="187.80" y="55.78" width="10.50" height="0.85"/>
<rect x="187.80" y="59.28" width="10.50" height="0.85"/>
<text x="202.85" y="61.84" font-family="Liberation Serif" font-size="15.40">10</text>
<rect x="220.50" y="52.40" width="7.40" height="0.80"/>
<text x="229.28" y="55.86" font-family="Liberation Serif" font-size="9.60">2</text></g>
<g fill="#000" stroke="#000" stroke-width="0.1" transform="translate(0.00,0.00)"><text x="134.65" y="236.18" font-family="Liberation Serif" font-size="19.70" font-style="italic">q</text><text x="143.80" y="238.98" font-family="Liberation Serif" font-size="13.60">1</text><g transform="translate(18.5,114.95) rotate(-90)"><text x="0.00" y="0.00" font-family="Liberation Serif" font-size="19.70" font-style="italic">q</text><text x="9.93" y="3.61" font-family="Liberation Serif" font-size="13.00">2</text></g></g>
<g fill="#000" stroke="#000" stroke-width="0.1" transform="translate(374.00,0.40)"><text x="134.65" y="236.18" font-family="Liberation Serif" font-size="19.70" font-style="italic">q</text><text x="143.80" y="238.98" font-family="Liberation Serif" font-size="13.60">1</text><g transform="translate(18.5,114.95) rotate(-90)"><text x="0.00" y="0.00" font-family="Liberation Serif" font-size="19.70" font-style="italic">q</text><text x="9.93" y="3.61" font-family="Liberation Serif" font-size="13.00">2</text></g></g>
<text x="-0.50" y="241.30" font-family="Liberation Sans" font-size="18.50" font-weight="bold">(a)</text>
<text x="376.50" y="241.90" font-family="Liberation Sans" font-size="18.50" font-weight="bold">(b)</text>
<g fill="#000" stroke="#000" stroke-width="0.1" transform="translate(316,151.5) rotate(-90)">
<text x="0.74" y="-8.59" font-family="Liberation Serif" font-size="13.20">1</text>
<rect x="0.60" y="-3.70" width="6.60" height="0.90"/>
<text x="0.88" y="8.57" font-family="Liberation Serif" font-size="14.00">2</text>
<rect x="13.40" y="-0.42" width="0.00" height="0.85"/>
<rect x="13.25" y="-15.70" width="0.90" height="20.80"/>
<rect x="17.55" y="-15.70" width="0.90" height="20.80"/>
<text x="21.48" y="0.02" font-family="Liberation Serif" font-size="20.00" font-weight="bold">q</text>
<polyline points="24.9,-12.6 26.9,-15.2 28.9,-12.6" fill="none" stroke="#000" stroke-width="0.9"/>
<rect x="37.80" y="-5.65" width="13.00" height="0.90"/>
<text x="56.78" y="0.02" font-family="Liberation Serif" font-size="20.00" font-weight="bold">q</text>
<rect x="70.85" y="-15.70" width="0.90" height="20.80"/>
<rect x="74.85" y="-15.70" width="0.90" height="20.80"/>
<text x="79.79" y="4.21" font-family="Liberation Serif" font-size="13.80">1</text>
</g>
<g fill="#000" stroke="#000" stroke-width="0.1" transform="translate(680.5,132.9) rotate(-90)">
<text x="0.00" y="0.00" font-family="Liberation Serif" font-size="20.00" letter-spacing="0.7">log</text>
<text x="32.37" y="3.61" font-family="Liberation Serif" font-size="14.00">10</text>
<text x="46.91" y="-0.63" font-family="Liberation Serif" font-size="20.00" font-style="italic">δ</text>
</g>
</svg>
</body></html>
